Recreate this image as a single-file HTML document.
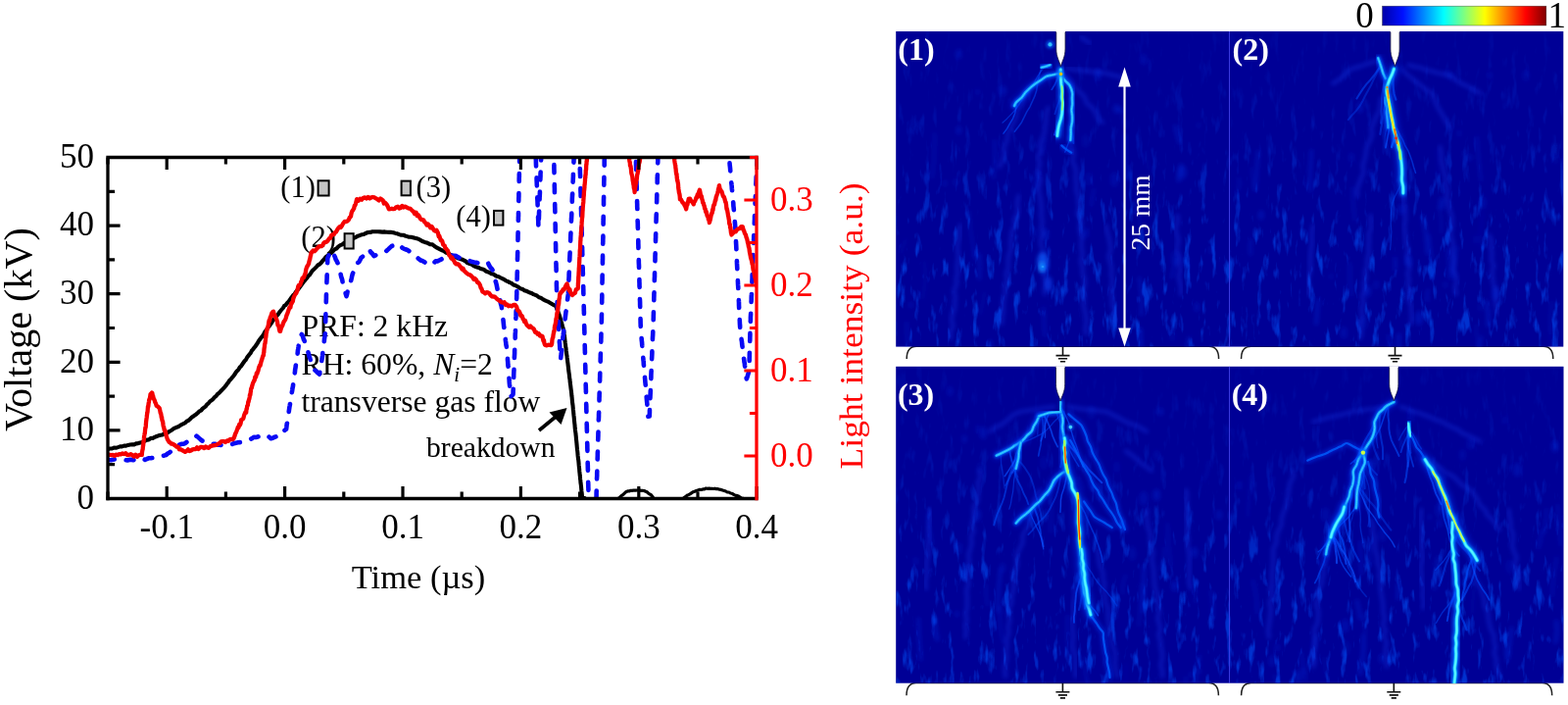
<!DOCTYPE html>
<html><head><meta charset="utf-8"><title>figure</title>
<style>html,body{margin:0;padding:0;background:#fff;overflow:hidden}svg{display:block}</style></head>
<body><svg width="1600" height="719" viewBox="0 0 1600 719">
<rect x="0" y="0" width="1600" height="719" fill="#fff"/>
<defs><clipPath id="pc"><rect x="110" y="160.5" width="662" height="348"/></clipPath></defs>
<text x="307.5" y="343.2" font-family="Liberation Serif, Times New Roman, serif" font-size="31.7">PRF: 2 kHz</text>
<text x="307.5" y="381.5" font-family="Liberation Serif, Times New Roman, serif" font-size="31.7">RH: 60%, <tspan font-style="italic">N</tspan><tspan font-style="italic" font-size="21" dy="7">i</tspan><tspan dy="-7">=2</tspan></text>
<text x="307.5" y="420" font-family="Liberation Serif, Times New Roman, serif" font-size="31.6">transverse gas flow</text>
<text x="435" y="466" font-family="Liberation Serif, Times New Roman, serif" font-size="29.6">breakdown</text>
<text x="286.3" y="201.3" font-family="Liberation Serif, Times New Roman, serif" font-size="30.5">(1)</text>
<text x="307.3" y="251.6" font-family="Liberation Serif, Times New Roman, serif" font-size="30.5">(2)</text>
<text x="424.5" y="201.3" font-family="Liberation Serif, Times New Roman, serif" font-size="30.5">(3)</text>
<text x="465.3" y="231.4" font-family="Liberation Serif, Times New Roman, serif" font-size="30.5">(4)</text>
<g clip-path="url(#pc)" fill="none" stroke-linejoin="round" stroke-linecap="round">
<path d="M109.0,458.3 L112.2,457.5 L114.3,457.5 L116.3,456.6 L118.4,456.7 L120.4,456.1 L122.5,455.4 L124.5,455.4 L126.6,454.6 L128.7,454.6 L130.7,453.9 L132.8,453.5 L134.8,453.4 L136.9,453.4 L138.9,452.4 L141.0,452.1 L143.2,451.5 L145.5,450.9 L147.8,449.7 L150.0,448.6 L151.9,448.4 L153.9,446.9 L155.8,447.0 L157.8,445.8 L159.8,445.0 L161.7,444.3 L163.7,443.8 L165.6,443.5 L167.6,442.3 L169.5,442.0 L171.3,441.1 L173.0,439.8 L174.8,439.0 L176.6,437.6 L178.3,436.6 L180.1,435.8 L181.8,435.3 L183.6,434.1 L185.4,433.0 L187.1,432.2 L188.9,431.2 L190.5,429.7 L192.2,428.9 L193.8,427.5 L195.4,425.8 L197.0,424.8 L198.7,423.4 L200.3,422.4 L201.9,421.0 L203.5,419.3 L205.2,418.6 L206.8,416.6 L208.4,415.5 L209.9,414.3 L211.4,412.3 L212.9,411.1 L214.4,409.2 L215.9,408.3 L217.4,406.9 L218.9,405.2 L220.4,404.0 L221.9,402.0 L223.4,400.9 L224.9,399.3 L226.4,397.8 L227.9,396.2 L229.2,394.9 L230.5,393.3 L231.8,391.3 L233.1,389.8 L234.4,387.7 L235.7,386.6 L237.0,384.9 L238.2,383.6 L239.5,381.8 L240.8,379.7 L242.1,378.2 L243.4,376.8 L244.7,374.6 L246.0,373.4 L247.3,371.5 L248.5,369.7 L249.7,368.0 L250.9,366.9 L252.1,364.6 L253.3,363.0 L254.5,361.4 L255.7,360.1 L256.9,357.7 L258.1,356.3 L259.3,354.7 L260.5,353.3 L261.7,351.5 L262.9,349.8 L264.1,347.5 L265.4,345.9 L266.6,344.1 L267.8,342.8 L269.1,341.0 L270.3,338.5 L271.6,336.8 L272.8,335.1 L274.0,333.3 L275.3,331.8 L276.5,330.1 L277.7,328.1 L278.9,326.3 L280.1,325.0 L281.4,323.3 L282.6,321.8 L283.8,320.6 L285.0,318.7 L286.3,317.0 L287.6,315.5 L288.9,314.0 L290.1,311.9 L291.4,311.2 L292.7,309.5 L294.0,308.1 L295.3,306.5 L296.6,304.6 L297.8,303.0 L299.1,301.2 L300.4,300.2 L301.7,298.1 L303.0,296.4 L304.3,294.9 L305.6,293.2 L306.8,291.7 L308.1,289.8 L309.4,288.0 L310.7,286.5 L312.0,284.8 L313.3,283.4 L314.5,281.4 L315.8,280.5 L317.1,278.6 L318.4,276.5 L319.9,275.1 L321.4,273.6 L322.9,272.1 L324.4,270.4 L325.9,269.6 L327.5,268.2 L329.0,266.2 L330.5,264.7 L332.0,262.8 L333.5,261.3 L335.2,260.1 L336.8,258.6 L338.5,257.7 L340.1,255.7 L341.8,254.1 L343.4,253.5 L345.1,251.7 L347.2,250.2 L349.3,249.4 L351.4,247.7 L353.5,247.0 L355.4,246.4 L357.3,245.3 L359.2,244.2 L361.1,242.8 L363.0,241.9 L364.9,240.7 L366.8,240.2 L369.0,239.3 L371.2,238.9 L373.4,237.8 L375.6,237.0 L377.8,236.9 L380.0,236.3 L382.8,236.2 L385.6,236.2 L387.9,236.4 L390.2,236.6 L392.6,236.4 L394.9,236.8 L397.2,236.9 L399.5,236.9 L401.5,237.3 L403.5,237.9 L405.5,238.3 L407.4,239.1 L409.4,239.7 L411.4,239.7 L413.4,240.5 L415.4,241.1 L417.4,241.7 L419.4,241.7 L421.4,242.2 L423.4,242.8 L425.4,243.3 L427.4,243.9 L429.4,245.1 L431.4,246.2 L433.4,246.9 L435.3,247.4 L437.3,248.3 L439.3,249.3 L441.3,249.4 L443.3,251.0 L445.3,252.4 L447.3,253.4 L449.2,254.4 L451.2,255.3 L453.2,256.1 L455.2,257.8 L457.2,258.2 L459.2,259.5 L461.2,260.6 L463.1,260.9 L465.1,261.8 L467.1,263.2 L469.1,263.9 L471.1,264.4 L473.1,265.4 L475.1,266.4 L477.0,268.1 L479.0,269.0 L481.0,269.4 L483.0,271.0 L484.9,271.9 L486.7,272.5 L488.6,273.0 L490.4,274.0 L492.3,274.4 L494.1,275.1 L496.0,276.8 L497.8,277.3 L499.7,278.0 L501.5,279.2 L503.4,279.5 L505.3,280.9 L507.1,281.8 L509.0,282.2 L510.8,283.2 L512.7,284.2 L514.6,285.1 L516.4,286.4 L518.3,287.1 L520.1,288.2 L522.0,288.9 L523.9,290.5 L525.7,291.0 L527.6,292.0 L529.4,293.1 L531.3,294.4 L533.2,294.8 L535.0,296.2 L536.9,296.7 L538.8,297.6 L540.6,298.5 L542.5,299.0 L544.4,300.2 L546.3,300.9 L548.1,301.7 L550.0,303.3 L551.8,303.7 L553.6,304.9 L555.5,306.1 L557.3,306.9 L559.1,307.6 L561.0,308.7 L562.8,309.7 L564.6,310.9 L567.3,312.1 L568.0,314.5 L568.8,316.1 L569.5,318.0 L570.3,320.3 L571.0,322.0 L571.6,324.2 L572.2,326.5 L572.8,328.8 L573.4,330.5 L574.0,332.8 L574.6,334.9 L575.2,337.0 L575.5,339.2 L575.7,341.0 L576.0,343.1 L576.2,345.1 L576.5,347.5 L576.7,349.3 L577.0,351.5 L577.2,353.6 L577.5,355.0 L577.7,357.2 L578.0,359.6 L578.2,361.5 L578.5,362.9 L578.7,364.9 L579.0,367.2 L579.2,368.9 L579.5,371.1 L579.7,373.0 L580.0,375.5 L580.2,377.6 L580.5,379.8 L580.7,381.1 L581.0,383.6 L581.2,385.6 L581.5,387.2 L581.7,389.8 L582.0,391.9 L582.2,393.3 L582.5,396.0 L582.7,397.5 L583.0,399.6 L583.2,402.1 L583.4,403.9 L583.6,405.3 L583.8,407.6 L584.0,409.7 L584.2,411.6 L584.5,413.4 L584.7,415.6 L584.9,418.0 L585.1,419.3 L585.3,421.8 L585.5,423.8 L585.7,425.4 L585.9,427.7 L586.1,430.0 L586.3,431.9 L586.5,433.5 L586.7,436.3 L586.9,438.2 L587.2,440.4 L587.4,441.6 L587.6,443.8 L587.8,445.6 L588.0,448.3 L588.2,449.8 L588.4,451.7 L588.6,454.0 L588.8,456.4 L589.0,458.4 L589.2,459.9 L589.4,461.8 L589.6,464.5 L589.8,466.2 L590.1,468.4 L590.3,469.8 L590.5,471.8 L590.7,474.4 L590.9,476.2 L591.1,477.9 L591.3,480.7 L591.5,482.4 L591.7,484.6 L591.9,486.0 L592.1,488.7 L592.3,490.0 L592.5,492.7 L592.8,494.4 L593.0,496.3 L593.2,498.5 L593.4,500.8 L593.6,502.3 L593.8,504.1 L594.0,506.5 L596.0,507.8 L598.0,509.1" stroke="#000" stroke-width="4.1"/>
<path d="M630.0,509.4 L631.2,508.1 L632.5,507.3 L633.8,505.8 L635.0,505.0 L636.3,504.0 L637.7,502.7 L639.0,501.5 L640.5,500.9 L642.0,500.9 L643.5,500.3 L645.0,500.4 L646.8,500.0 L648.5,500.2 L650.2,500.0 L652.0,499.9 L653.8,500.4 L655.5,500.3 L657.2,500.5 L659.0,501.3 L660.2,501.8 L661.5,503.0 L662.8,503.9 L664.0,504.5 L665.0,505.5 L666.0,506.7 L667.0,508.5 L668.0,509.2" stroke="#000" stroke-width="3.2"/>
<path d="M696.0,509.5 L697.2,508.5 L698.5,507.2 L699.8,506.5 L701.0,505.3 L702.5,504.6 L704.0,503.8 L705.5,502.8 L707.0,501.8 L708.8,501.3 L710.5,500.5 L712.2,499.9 L714.0,499.3 L715.6,499.5 L717.2,498.9 L718.8,498.9 L720.4,498.0 L722.0,498.3 L723.5,498.1 L725.0,498.4 L726.5,498.3 L728.0,498.5 L729.5,498.2 L731.0,498.7 L732.6,498.7 L734.2,499.1 L735.8,499.4 L737.4,500.0 L739.0,500.5 L740.6,501.0 L742.2,502.0 L743.8,502.0 L745.4,503.0 L747.0,503.3 L748.4,504.2 L749.8,504.9 L751.2,505.4 L752.6,505.6 L754.0,506.3 L755.5,507.3 L757.0,508.3 L758.5,508.4 L760.0,509.6" stroke="#000" stroke-width="3.2"/>
<path d="M109.0,468.2 L111.1,469.0 L113.2,469.2 L115.3,468.7 L117.4,468.3 L119.5,468.9 L121.6,468.9 L123.7,469.1 L125.8,468.9 L127.9,469.1 L130.0,469.4 L132.0,468.9 L134.0,468.7 L136.0,469.3 L138.0,468.3 L140.0,468.8 L142.0,468.4 L144.0,468.8 L146.0,467.9 L148.0,468.9 L150.0,468.0 L152.2,467.2 L154.3,467.1 L156.5,466.8 L158.7,465.9 L160.8,465.9 L163.0,465.5 L165.2,465.4 L167.3,464.6 L169.5,464.0 L171.1,462.5 L172.7,461.7 L174.3,460.4 L176.0,458.5 L177.6,456.6 L179.2,455.9 L181.1,454.6 L183.1,453.6 L185.0,452.8 L187.0,452.8 L188.9,452.1 L190.8,450.7 L192.8,449.4 L194.8,448.3 L196.7,446.8 L198.7,446.5 L200.6,444.6 L202.6,446.4 L204.5,448.1 L206.4,449.6 L208.4,450.7 L210.6,450.9 L212.7,451.6 L214.9,451.6 L217.1,452.8 L219.2,452.7 L221.4,453.7 L223.6,453.5 L225.7,454.0 L227.9,454.3 L230.1,454.1 L232.2,453.4 L234.4,452.7 L236.5,453.1 L238.7,452.2 L240.8,451.7 L243.0,451.3 L245.1,451.1 L247.3,450.6 L249.3,450.1 L251.2,449.3 L253.2,448.2 L255.1,448.1 L257.1,447.2 L259.0,445.7 L261.0,446.0 L262.9,445.5 L264.9,444.8 L266.8,443.5 L268.7,444.9 L270.7,445.2 L272.6,445.1 L274.6,445.6 L276.5,447.3 L278.5,446.6 L280.4,445.7 L282.4,445.1 L284.3,444.8 L286.3,444.5 L287.8,443.2 L289.2,440.8 L290.7,438.6 L292.1,437.6 L292.4,435.3 L292.7,432.4 L293.1,431.1 L293.4,428.6 L293.7,426.6 L294.0,424.3 L294.4,422.4 L294.7,420.1 L295.0,418.0 L295.4,415.1 L295.7,413.6 L296.1,411.3 L296.4,409.4 L296.8,406.9 L297.1,405.3 L297.5,402.8 L297.8,400.3 L298.2,398.1 L298.5,395.9 L298.9,394.2 L299.2,391.5 L299.5,389.9 L299.8,387.4 L300.1,385.6 L300.4,383.5 L300.6,381.4 L300.9,379.7 L301.2,376.5 L301.5,375.3 L301.8,372.8 L302.1,370.8 L302.4,368.8 L302.7,366.9 L303.0,364.3 L303.3,362.2 L303.6,360.8 L303.9,357.6 L304.2,356.2 L304.5,354.1 L304.8,351.3 L305.1,349.9 L305.4,347.9 L305.7,346.1 L306.8,342.7 L307.9,340.9 L308.6,342.2 L309.3,344.1 L310.0,346.5 L310.6,347.4 L311.3,350.1 L312.0,351.9 L312.7,353.5 L313.4,356.0 L314.0,357.4 L314.5,359.5 L315.1,361.5 L315.6,363.7 L316.2,365.0 L316.8,367.2 L317.3,369.2 L317.9,371.3 L318.4,373.5 L319.0,374.9 L320.8,377.2 L322.5,378.4 L324.2,380.3 L326.0,381.7 L326.3,379.9 L326.7,378.3 L327.0,375.8 L327.4,373.9 L327.7,371.2 L328.0,369.0 L328.4,366.9 L328.7,365.1 L329.0,363.1 L329.2,361.2 L329.5,358.2 L329.7,356.9 L330.0,355.0 L330.2,352.6 L330.5,349.9 L330.8,348.1 L331.0,345.7 L331.3,343.8 L331.5,342.6 L331.8,340.1 L331.9,338.2 L331.9,336.3 L332.0,334.5 L332.0,332.1 L332.1,330.1 L332.2,328.2 L332.2,326.2 L332.3,324.1 L332.3,322.2 L332.4,319.7 L332.5,318.2 L332.5,315.9 L332.6,314.3 L332.6,311.5 L332.7,309.6 L332.8,307.4 L332.8,306.3 L332.9,304.5 L332.9,302.2 L333.0,299.8 L333.1,298.4 L333.1,296.3 L333.2,294.0 L333.3,291.6 L333.4,289.6 L333.4,287.7 L333.5,285.5 L333.6,283.7 L333.6,281.9 L333.7,280.2 L333.8,277.1 L333.9,275.7 L333.9,273.0 L334.0,271.1 L334.1,269.9 L334.2,267.6 L334.2,265.9 L334.3,263.3 L335.4,260.7 L336.4,259.1 L337.4,257.2 L338.5,255.5 L339.3,257.5 L340.1,258.7 L341.0,260.5 L341.8,262.0 L342.6,264.5 L343.5,265.9 L344.3,267.7 L345.1,269.4 L345.6,271.4 L346.1,274.2 L346.6,275.5 L347.1,278.6 L347.6,279.5 L348.2,282.4 L348.7,283.6 L349.2,285.4 L349.7,288.3 L350.2,289.7 L350.8,292.2 L351.3,293.6 L351.9,295.4 L352.4,298.2 L352.9,300.1 L353.5,302.2 L354.1,300.1 L354.6,297.4 L355.1,296.1 L355.7,294.2 L356.2,291.9 L356.8,290.5 L357.4,287.6 L358.1,286.4 L358.7,284.0 L359.3,281.1 L359.9,279.0 L360.6,277.7 L361.2,275.9 L361.8,272.9 L362.9,271.5 L364.0,270.3 L365.1,268.0 L366.3,267.2 L367.4,265.1 L368.5,262.9 L370.2,261.6 L371.9,260.1 L373.5,258.3 L375.2,256.9 L376.9,254.6 L378.4,257.3 L380.0,258.8 L381.5,261.1 L383.7,260.2 L385.9,259.2 L388.2,258.3 L390.4,258.0 L392.6,257.3 L394.5,255.7 L396.3,254.1 L398.1,252.4 L400.0,250.7 L401.9,250.4 L403.7,248.6 L405.5,249.8 L407.3,250.2 L409.1,251.5 L410.8,253.0 L412.6,253.8 L414.4,254.5 L416.2,255.2 L418.1,256.7 L419.9,258.6 L421.8,259.4 L423.7,261.2 L425.5,262.4 L427.4,264.2 L429.3,265.5 L431.3,266.2 L433.2,267.3 L435.2,269.0 L437.1,270.6 L439.0,269.9 L440.8,269.2 L442.6,268.4 L444.5,266.4 L446.4,266.4 L448.2,265.5 L450.1,264.6 L451.9,263.3 L453.8,262.0 L455.6,261.8 L457.4,260.8 L459.3,259.7 L461.4,260.7 L463.5,260.7 L465.6,261.1 L467.6,262.4 L469.7,263.4 L471.8,263.3 L473.9,264.7 L476.0,265.6 L478.0,265.4 L480.0,266.4 L482.0,267.1 L484.0,267.5 L486.0,267.7 L488.0,268.4 L490.0,269.6 L492.6,269.4 L495.3,268.7 L497.9,268.0 L499.3,270.9 L500.6,273.0 L502.0,274.4 L503.4,276.9 L503.9,279.3 L504.3,281.3 L504.8,282.9 L505.3,284.8 L505.7,287.0 L506.2,288.5 L506.7,290.5 L507.1,292.5 L507.6,295.1 L508.1,296.7 L508.5,299.0 L509.0,300.8 L509.5,303.0 L509.9,304.5 L510.4,306.4 L510.9,309.6 L511.3,310.8 L511.8,312.5 L512.0,315.2 L512.3,317.3 L512.5,318.6 L512.8,321.1 L513.0,322.8 L513.3,325.0 L513.5,326.4 L513.7,328.4 L514.0,331.6 L514.2,333.4 L514.5,335.0 L514.7,337.1 L515.0,338.7 L515.2,341.3 L515.5,342.9 L515.7,345.5 L515.9,347.3 L516.2,349.4 L516.4,351.6 L516.7,352.7 L516.9,354.4 L517.2,356.6 L517.4,358.6 L517.6,360.5 L517.7,362.5 L517.9,365.1 L518.0,367.4 L518.2,368.9 L518.3,371.5 L518.5,373.5 L518.7,374.5 L518.8,377.1 L519.0,378.9 L519.1,380.5 L519.3,383.6 L519.4,384.7 L519.6,387.1 L519.7,389.2 L519.9,391.5 L520.1,393.2 L520.2,394.9 L520.4,396.9 L520.5,398.6 L520.7,401.6 L520.8,403.6 L521.0,404.7 L523.5,402.4 L523.6,400.7 L523.6,398.8 L523.7,397.4 L523.8,395.4 L523.9,393.3 L523.9,390.3 L524.0,389.2 L524.1,387.1 L524.2,385.0 L524.2,383.4 L524.3,380.3 L524.4,378.3 L524.5,377.1 L524.5,375.3 L524.6,372.9 L524.7,370.4 L524.8,368.8 L524.8,367.0 L524.9,364.2 L525.0,362.4 L525.1,360.3 L525.1,358.1 L525.2,356.5 L525.3,354.1 L525.4,352.2 L525.4,350.1 L525.5,348.7 L525.6,345.9 L525.7,344.7 L525.7,342.0 L525.8,339.8 L525.9,338.9 L526.0,336.0 L526.0,334.9 L526.1,332.8 L526.2,330.8 L526.3,327.8 L526.3,326.2 L526.4,323.8 L526.5,322.7 L526.6,320.6 L526.6,318.3 L526.7,316.1 L526.8,313.9 L526.9,312.5 L526.9,310.1 L527.0,308.2 L527.1,305.6 L527.2,303.7 L527.2,301.5 L527.3,300.3 L527.3,298.1 L527.4,295.6 L527.4,294.4 L527.5,291.7 L527.5,289.9 L527.5,287.6 L527.6,285.7 L527.6,284.4 L527.7,281.8 L527.7,279.6 L527.8,278.0 L527.8,275.8 L527.8,274.5 L527.9,271.5 L527.9,270.6 L528.0,267.5 L528.0,266.5 L528.0,264.2 L528.1,261.7 L528.1,260.0 L528.2,257.7 L528.2,255.7 L528.3,253.6 L528.3,251.8 L528.3,250.6 L528.4,248.6 L528.4,246.5 L528.5,243.5 L528.5,241.7 L528.5,240.5 L528.6,237.5 L528.6,236.3 L528.7,233.8 L528.7,232.6 L528.8,229.4 L528.8,228.4 L528.8,225.8 L528.9,223.6 L528.9,221.4 L529.0,220.4 L529.0,218.0 L529.0,215.6 L529.1,213.9 L529.1,212.5 L529.2,209.7 L529.2,208.1 L529.2,205.6 L529.3,203.6 L529.3,202.3 L529.4,200.3 L529.4,197.6 L529.5,195.5 L529.5,193.5 L529.5,192.1 L529.6,190.0 L529.6,187.7 L529.7,185.6 L529.7,184.1 L529.7,182.2 L529.8,180.4 L529.8,178.1 L529.9,175.6 L529.9,173.5 L530.0,172.3 L530.0,169.9 L530.0,168.3 L530.1,165.5 L530.1,164.4 L530.2,161.8 L530.2,160.4 L530.3,158.4 L530.4,156.0 L530.5,153.4 L530.6,152.5 L530.7,150.0 L530.7,148.4 L530.8,145.7 L530.9,143.6 L531.0,142.4 L531.1,139.8 L531.2,137.6 L531.3,135.8 L531.4,134.1 L531.5,131.4 L531.5,130.0 L531.6,127.9 L531.7,126.0 L531.8,123.5 L531.9,122.3 L532.0,120.4 L534.2,120.4 L536.3,119.8 L538.5,120.3 L540.7,119.9 L542.8,120.3 L545.0,119.5 L545.1,122.4 L545.2,124.5 L545.3,126.0 L545.3,128.0 L545.4,130.0 L545.5,132.0 L545.6,133.4 L545.7,136.6 L545.8,137.7 L545.9,139.6 L545.9,141.5 L546.0,143.7 L546.1,146.4 L546.2,147.4 L546.3,149.5 L546.4,152.2 L546.4,153.6 L546.5,155.4 L546.6,158.1 L546.7,160.1 L546.8,162.0 L546.9,164.2 L546.9,165.5 L547.0,168.4 L547.1,170.3 L547.2,171.5 L547.2,173.5 L547.3,176.0 L547.4,178.0 L547.5,179.7 L547.6,181.5 L547.6,183.9 L547.7,185.6 L547.8,188.1 L547.9,190.4 L547.9,191.6 L548.0,194.1 L548.1,196.3 L548.2,197.6 L548.3,200.4 L548.3,202.5 L548.4,203.9 L548.5,205.9 L548.6,208.4 L548.6,210.0 L548.7,211.9 L548.8,214.5 L548.9,216.3 L549.0,217.8 L549.0,219.7 L549.1,221.8 L549.2,223.9 L549.3,226.6 L549.3,228.4 L549.4,230.5 L549.5,232.4 L549.6,230.4 L549.6,227.5 L549.7,226.0 L549.8,224.5 L549.9,222.5 L550.0,219.7 L550.0,217.9 L550.1,216.2 L550.2,213.8 L550.2,212.0 L550.3,209.5 L550.4,207.9 L550.5,206.0 L550.6,203.4 L550.6,201.6 L550.7,200.6 L550.8,198.3 L550.9,196.5 L550.9,194.2 L551.0,192.4 L551.1,190.5 L551.1,188.5 L551.2,185.4 L551.3,184.2 L551.4,181.7 L551.5,180.2 L551.5,177.7 L551.6,176.1 L551.7,174.5 L551.8,172.1 L551.8,169.7 L551.9,168.0 L552.0,165.9 L552.1,164.5 L552.1,161.7 L552.2,159.8 L552.3,158.2 L552.5,155.5 L552.6,154.1 L552.8,152.5 L552.9,150.0 L553.0,147.7 L553.2,146.0 L553.3,144.0 L553.5,141.6 L553.6,139.5 L553.7,137.6 L553.9,135.8 L554.0,133.9 L554.2,131.7 L554.3,129.7 L554.4,127.5 L554.6,126.1 L554.7,124.4 L554.9,122.1 L555.0,120.1 L557.0,120.2 L559.0,119.6 L561.0,120.3 L563.0,120.0 L563.1,122.1 L563.2,124.1 L563.3,126.0 L563.4,127.8 L563.5,129.7 L563.7,131.7 L563.8,134.0 L563.9,135.9 L564.0,138.1 L564.1,139.4 L564.2,141.8 L564.3,144.4 L564.4,145.7 L564.5,148.1 L564.7,150.0 L564.8,151.7 L564.9,154.6 L565.0,155.8 L565.1,158.3 L565.2,159.6 L565.2,161.5 L565.3,164.4 L565.3,165.9 L565.4,167.5 L565.4,169.9 L565.4,171.9 L565.5,174.3 L565.5,175.5 L565.6,177.7 L565.6,180.6 L565.7,182.3 L565.7,183.6 L565.7,185.8 L565.8,187.8 L565.8,190.2 L565.9,192.1 L565.9,194.4 L565.9,196.4 L566.0,198.0 L566.0,200.3 L566.1,202.3 L566.1,204.3 L566.2,206.0 L566.2,208.3 L566.2,210.3 L566.3,212.5 L566.3,213.6 L566.4,216.4 L566.4,217.4 L566.4,220.3 L566.5,222.1 L566.5,224.0 L566.6,226.6 L566.6,228.1 L566.7,229.9 L566.7,232.3 L566.7,234.4 L566.8,236.1 L566.8,237.9 L566.9,239.9 L566.9,241.9 L566.9,244.3 L567.0,245.8 L567.0,247.9 L567.1,250.1 L567.1,251.9 L567.1,253.8 L567.2,256.3 L567.2,258.4 L567.3,260.0 L567.3,261.9 L567.4,263.6 L567.4,265.8 L567.4,267.6 L567.5,270.1 L567.5,272.1 L567.6,273.5 L567.6,276.5 L567.6,277.8 L567.7,280.4 L567.7,282.4 L567.8,284.6 L567.8,285.6 L567.9,287.9 L567.9,290.5 L567.9,291.4 L568.0,293.5 L568.0,296.1 L568.1,298.0 L568.1,300.5 L568.2,302.4 L568.3,304.1 L568.5,306.7 L568.6,308.1 L568.7,310.2 L568.8,312.4 L568.9,314.1 L569.0,316.1 L569.2,318.4 L569.3,320.1 L569.4,322.9 L569.5,324.6 L569.6,326.4 L569.8,327.9 L569.9,330.3 L570.0,332.4 L570.1,334.6 L570.2,336.6 L570.3,339.0 L570.5,341.2 L570.6,342.6 L570.7,344.6 L570.8,346.8 L570.9,349.3 L571.1,350.6 L571.2,352.8 L571.3,355.2 L571.4,356.5 L571.5,358.7 L571.6,361.5 L571.8,363.3 L571.9,365.0 L572.0,366.5 L572.2,365.4 L572.4,363.1 L572.7,361.2 L572.9,359.4 L573.1,357.2 L573.3,354.6 L573.6,352.2 L573.8,350.3 L574.0,348.5 L574.2,346.5 L574.4,344.0 L574.7,342.0 L574.9,340.4 L575.1,338.3 L575.3,336.0 L575.6,334.7 L575.8,332.2 L576.0,329.5 L576.3,327.9 L576.5,326.3 L576.8,323.8 L577.0,322.2 L577.3,319.4 L577.5,317.8 L577.8,316.4 L578.0,314.1 L578.3,312.2 L578.5,309.6 L578.8,308.0 L579.0,306.1 L579.3,303.7 L579.5,302.2 L579.8,300.0 L579.9,298.6 L580.0,296.1 L580.1,293.9 L580.1,291.5 L580.2,289.6 L580.3,288.3 L580.4,285.5 L580.5,283.5 L580.6,281.6 L580.6,280.0 L580.7,278.4 L580.8,276.1 L580.9,274.4 L581.0,271.5 L581.1,269.4 L581.1,268.3 L581.2,265.8 L581.3,264.3 L581.4,261.8 L581.5,259.6 L581.6,257.7 L581.7,255.5 L581.7,254.5 L581.8,252.1 L581.9,249.8 L582.0,247.9 L582.1,245.9 L582.2,243.5 L582.2,242.5 L582.3,240.1 L582.4,238.6 L582.5,235.9 L582.6,234.1 L582.7,231.7 L582.8,229.5 L582.8,228.5 L582.9,226.4 L583.0,223.8 L583.1,222.5 L583.2,220.4 L583.3,217.8 L583.3,216.1 L583.4,214.6 L583.5,212.0 L583.6,210.5 L583.7,207.7 L583.8,205.9 L583.8,204.3 L583.9,201.7 L584.0,199.8 L584.1,198.5 L584.2,196.0 L584.3,194.4 L584.4,191.7 L584.4,189.6 L584.5,187.8 L584.6,185.6 L584.7,184.6 L584.8,181.7 L584.9,180.1 L584.9,177.5 L585.0,176.0 L585.1,173.9 L585.2,171.9 L585.3,169.5 L585.4,167.5 L585.4,166.4 L585.5,163.8 L585.6,161.7 L585.7,159.6 L585.8,157.7 L585.9,155.7 L586.0,153.4 L586.2,152.2 L586.3,149.8 L586.4,147.6 L586.5,146.2 L586.6,143.5 L586.7,141.7 L586.9,140.4 L587.0,137.6 L587.1,135.9 L587.2,134.4 L587.3,132.4 L587.4,129.6 L587.5,127.8 L587.7,126.3 L587.8,123.9 L587.9,122.6 L588.0,119.6 L590.0,120.5 L590.1,122.0 L590.1,123.7 L590.2,125.9 L590.3,127.6 L590.4,130.2 L590.5,131.7 L590.5,134.5 L590.6,136.1 L590.7,137.8 L590.8,139.7 L590.8,142.1 L590.9,143.7 L591.0,146.4 L591.0,147.5 L591.1,150.0 L591.2,152.1 L591.3,153.7 L591.4,156.3 L591.4,157.9 L591.5,160.2 L591.6,162.1 L591.6,163.8 L591.7,165.9 L591.7,167.5 L591.8,169.6 L591.8,172.4 L591.9,173.8 L591.9,176.2 L592.0,177.5 L592.1,180.1 L592.1,181.8 L592.2,184.0 L592.2,185.8 L592.3,187.5 L592.3,189.8 L592.4,191.7 L592.4,193.6 L592.5,196.3 L592.6,197.7 L592.6,199.9 L592.7,202.5 L592.7,204.3 L592.8,206.5 L592.8,208.4 L592.9,209.6 L592.9,211.7 L593.0,213.4 L593.1,216.2 L593.1,218.2 L593.2,219.8 L593.2,221.9 L593.3,224.2 L593.3,226.2 L593.4,227.7 L593.5,230.4 L593.5,231.8 L593.6,234.2 L593.6,235.6 L593.7,237.5 L593.7,240.5 L593.8,242.3 L593.8,244.3 L593.9,245.4 L594.0,247.4 L594.0,249.6 L594.1,251.6 L594.1,253.8 L594.2,255.9 L594.2,257.4 L594.3,259.8 L594.3,262.2 L594.4,263.6 L594.5,266.4 L594.5,268.1 L594.6,270.3 L594.6,271.7 L594.7,273.9 L594.7,276.2 L594.8,277.8 L594.8,279.4 L594.9,282.4 L595.0,284.3 L595.0,285.7 L595.1,287.5 L595.1,290.4 L595.2,292.1 L595.2,293.5 L595.3,295.7 L595.3,297.5 L595.4,300.3 L595.5,301.7 L595.5,304.5 L595.6,306.3 L595.6,307.5 L595.7,310.3 L595.7,311.9 L595.8,314.4 L595.8,316.5 L595.9,317.8 L595.9,319.6 L596.0,322.6 L596.0,324.0 L596.1,326.6 L596.1,328.4 L596.2,330.4 L596.2,332.6 L596.3,334.3 L596.3,336.1 L596.4,337.6 L596.4,340.4 L596.5,342.1 L596.5,344.2 L596.6,346.7 L596.6,347.8 L596.7,350.6 L596.7,351.7 L596.8,354.5 L596.8,356.6 L596.9,358.0 L596.9,360.3 L597.0,362.9 L597.0,364.5 L597.1,366.4 L597.1,368.0 L597.2,369.8 L597.2,372.2 L597.3,374.3 L597.3,376.0 L597.4,378.2 L597.4,380.0 L597.5,382.6 L597.5,384.6 L597.6,386.1 L597.6,388.1 L597.7,390.5 L597.7,392.4 L597.8,395.0 L597.8,396.3 L597.9,398.2 L597.9,400.9 L598.0,402.1 L598.0,404.6 L598.1,406.3 L598.1,408.9 L598.2,410.6 L598.2,412.9 L598.3,414.2 L598.3,416.8 L598.4,418.7 L598.4,420.5 L598.5,422.9 L598.5,425.0 L598.6,426.1 L598.6,428.4 L598.7,430.5 L598.7,432.3 L598.8,434.1 L598.8,436.4 L598.9,438.3 L598.9,440.9 L599.0,442.6 L599.0,444.2 L599.1,446.5 L599.1,448.7 L599.2,450.6 L599.2,452.3 L599.3,454.2 L599.3,456.2 L599.4,459.4 L599.4,461.1 L599.5,462.3 L599.5,465.1 L599.6,467.4 L599.6,468.9 L599.7,470.4 L599.7,472.8 L599.8,474.8 L599.8,476.5 L599.9,478.9 L599.9,480.3 L600.0,483.4 L600.0,485.1 L600.1,487.1 L600.1,489.4 L600.2,491.1 L600.2,492.6 L600.3,494.6 L600.3,496.5 L600.4,498.4 L600.4,501.3 L600.5,503.4 L600.5,504.7 L600.6,506.6 L601.0,509.3 L601.3,511.6 L601.7,513.8 L602.0,515.0 L602.4,517.8 L602.7,519.9 L603.1,521.9 L603.4,523.5 L603.8,525.4 L604.1,528.3 L604.5,529.8 L604.9,527.8 L605.2,525.9 L605.6,523.6 L606.0,522.0 L606.3,519.2 L606.7,516.9 L607.0,515.4 L607.4,513.4 L607.8,511.6 L608.1,509.3 L608.5,507.5 L608.6,505.5 L608.6,503.0 L608.7,501.0 L608.7,498.5 L608.8,496.7 L608.9,495.0 L608.9,492.4 L609.0,491.1 L609.0,488.5 L609.1,486.8 L609.2,485.4 L609.2,482.4 L609.3,480.3 L609.3,478.8 L609.4,476.5 L609.5,475.1 L609.5,472.2 L609.6,471.2 L609.6,469.2 L609.7,467.1 L609.8,464.7 L609.8,462.5 L609.9,460.9 L609.9,458.7 L610.0,456.6 L610.1,454.5 L610.1,452.6 L610.2,450.9 L610.2,449.1 L610.3,447.1 L610.4,444.2 L610.4,442.4 L610.5,440.6 L610.5,438.7 L610.6,436.4 L610.7,434.2 L610.7,432.1 L610.8,430.4 L610.8,428.5 L610.9,427.1 L611.0,425.0 L611.0,423.0 L611.1,421.1 L611.1,419.1 L611.2,416.6 L611.3,414.9 L611.3,411.9 L611.4,410.7 L611.5,408.6 L611.5,406.2 L611.6,404.5 L611.6,403.0 L611.7,400.4 L611.8,398.6 L611.8,396.1 L611.9,394.2 L611.9,392.8 L612.0,389.8 L612.1,388.0 L612.1,386.5 L612.2,384.2 L612.2,381.8 L612.3,380.5 L612.4,378.1 L612.4,376.4 L612.5,374.1 L612.5,372.3 L612.6,370.3 L612.7,368.1 L612.7,365.7 L612.8,363.8 L612.8,362.6 L612.9,360.2 L613.0,357.7 L613.0,356.6 L613.1,353.8 L613.1,351.6 L613.2,350.2 L613.3,347.8 L613.3,346.1 L613.4,344.1 L613.4,341.7 L613.5,340.1 L613.6,337.6 L613.6,336.0 L613.7,334.1 L613.7,331.5 L613.8,329.9 L613.8,327.5 L613.9,325.9 L613.9,324.4 L613.9,322.1 L614.0,320.3 L614.0,318.3 L614.0,315.5 L614.1,314.6 L614.1,312.3 L614.2,309.5 L614.2,308.4 L614.2,305.9 L614.3,303.6 L614.3,302.6 L614.3,300.1 L614.4,298.3 L614.4,295.6 L614.4,294.3 L614.5,291.5 L614.5,289.7 L614.5,287.8 L614.6,285.4 L614.6,284.1 L614.6,281.7 L614.7,279.8 L614.7,278.2 L614.8,275.9 L614.8,274.5 L614.8,272.1 L614.9,270.4 L614.9,268.1 L614.9,266.5 L615.0,264.4 L615.0,261.6 L615.0,260.3 L615.1,257.8 L615.1,256.3 L615.1,254.2 L615.2,252.4 L615.2,249.5 L615.2,247.8 L615.3,246.3 L615.3,244.5 L615.4,242.3 L615.4,239.5 L615.4,238.1 L615.5,235.5 L615.5,234.1 L615.5,232.4 L615.6,229.5 L615.6,228.5 L615.6,226.2 L615.7,223.7 L615.7,221.6 L615.7,219.9 L615.8,218.4 L615.8,216.1 L615.8,213.5 L615.9,211.4 L615.9,209.5 L616.0,208.4 L616.0,205.6 L616.0,204.1 L616.1,201.7 L616.1,200.2 L616.1,197.9 L616.2,195.6 L616.2,194.5 L616.2,192.0 L616.3,190.2 L616.3,188.4 L616.3,186.5 L616.4,183.4 L616.4,181.8 L616.4,179.6 L616.5,178.0 L616.5,176.4 L616.6,174.4 L616.6,171.4 L616.6,169.6 L616.7,168.4 L616.7,166.2 L616.7,163.9 L616.8,162.0 L616.8,159.6 L617.0,158.4 L617.1,155.9 L617.3,154.4 L617.4,152.1 L617.6,149.5 L617.8,147.8 L617.9,145.7 L618.1,144.5 L618.2,142.1 L618.4,139.5 L618.6,137.6 L618.7,135.8 L618.9,134.0 L619.0,132.1 L619.2,129.9 L619.4,127.8 L619.5,125.4 L619.7,124.1 L619.8,121.8 L620.0,119.4 L622.1,120.0 L624.2,120.6 L626.2,119.5 L628.3,119.6 L630.4,120.2 L632.5,119.7 L634.6,119.7 L636.7,120.0 L638.8,119.7 L640.8,120.1 L642.9,120.0 L645.0,120.5 L645.2,122.6 L645.4,123.4 L645.6,126.1 L645.8,128.3 L646.0,130.4 L646.1,132.3 L646.3,134.2 L646.5,136.2 L646.7,137.8 L646.9,139.7 L647.1,142.4 L647.3,144.4 L647.5,146.5 L647.7,148.2 L647.8,149.8 L648.0,152.3 L648.2,154.3 L648.4,156.0 L648.6,158.2 L648.8,159.8 L648.9,162.1 L648.9,163.9 L649.0,165.5 L649.0,167.9 L649.1,169.8 L649.1,172.7 L649.2,174.1 L649.3,175.9 L649.3,177.8 L649.4,179.8 L649.4,181.9 L649.5,183.7 L649.5,185.6 L649.6,188.6 L649.7,190.1 L649.7,192.1 L649.8,194.3 L649.8,196.0 L649.9,197.8 L649.9,199.7 L650.0,202.0 L650.1,204.0 L650.1,206.5 L650.2,208.3 L650.2,210.8 L650.3,212.1 L650.4,214.8 L650.4,216.4 L650.5,217.8 L650.5,220.0 L650.6,222.5 L650.6,225.0 L650.7,226.2 L650.8,228.7 L650.8,230.3 L650.9,232.9 L650.9,233.9 L651.0,236.4 L651.0,238.9 L651.1,240.2 L651.2,242.2 L651.2,243.9 L651.3,246.1 L651.3,248.2 L651.4,250.8 L651.4,252.2 L651.5,254.4 L651.6,256.2 L651.6,258.7 L651.7,261.0 L651.7,262.8 L651.8,264.2 L651.8,266.9 L651.9,269.2 L652.0,270.8 L652.0,272.1 L652.1,275.0 L652.1,277.1 L652.2,278.5 L652.2,280.3 L652.3,282.3 L652.4,284.8 L652.4,287.2 L652.5,288.9 L652.5,291.3 L652.6,292.4 L652.7,294.6 L652.7,297.1 L652.8,299.0 L652.8,300.7 L652.9,303.0 L652.9,304.6 L653.0,306.3 L653.1,308.7 L653.1,310.3 L653.2,313.0 L653.2,314.7 L653.3,316.9 L653.3,319.0 L653.4,320.6 L653.5,322.9 L653.5,324.4 L653.6,327.5 L653.6,329.0 L653.7,331.6 L653.7,332.5 L653.8,335.1 L654.0,337.3 L654.1,338.8 L654.3,340.5 L654.5,342.6 L654.6,344.6 L654.8,347.3 L655.0,348.5 L655.2,351.4 L655.3,352.9 L655.5,355.0 L655.7,357.1 L655.8,359.1 L656.0,361.2 L656.2,363.1 L656.3,364.8 L656.5,367.3 L656.7,368.7 L656.8,371.3 L657.0,373.3 L657.2,375.3 L657.3,376.8 L657.5,379.3 L657.7,381.6 L657.9,382.9 L658.0,384.7 L658.2,387.0 L658.4,389.5 L658.5,390.6 L658.7,392.4 L658.9,395.0 L659.0,397.2 L659.2,399.3 L659.4,400.8 L659.5,403.6 L659.7,404.7 L659.9,407.3 L660.0,408.5 L660.2,410.4 L660.4,412.6 L660.6,414.5 L660.7,417.0 L660.9,419.1 L661.1,420.6 L661.2,423.5 L661.4,424.8 L662.7,424.6 L662.8,422.6 L662.9,421.2 L662.9,419.4 L663.0,416.5 L663.1,414.3 L663.2,413.2 L663.3,410.5 L663.4,409.4 L663.4,406.8 L663.5,405.0 L663.6,402.6 L663.7,401.1 L663.8,398.7 L663.9,396.5 L663.9,395.2 L664.0,392.2 L664.1,390.9 L664.2,388.1 L664.3,386.8 L664.4,384.5 L664.4,383.0 L664.5,380.0 L664.6,378.6 L664.7,376.4 L664.8,375.0 L664.9,373.0 L664.9,370.6 L665.0,368.1 L665.1,366.1 L665.2,364.1 L665.3,362.3 L665.4,360.0 L665.4,357.9 L665.5,356.6 L665.6,354.4 L665.7,352.0 L665.8,350.8 L665.9,347.9 L665.9,346.3 L666.0,343.7 L666.1,342.6 L666.2,340.5 L666.3,337.8 L666.4,336.4 L666.4,334.4 L666.5,331.8 L666.6,329.8 L666.7,328.0 L666.7,326.5 L666.8,323.6 L666.8,322.2 L666.9,320.1 L666.9,317.9 L667.0,316.1 L667.1,314.5 L667.1,311.7 L667.2,310.5 L667.2,307.8 L667.3,306.3 L667.3,304.4 L667.4,301.6 L667.4,300.4 L667.5,298.6 L667.6,295.8 L667.6,293.4 L667.7,291.5 L667.7,290.6 L667.8,287.4 L667.8,286.5 L667.9,283.6 L668.0,282.3 L668.0,279.5 L668.1,277.6 L668.1,276.2 L668.2,273.5 L668.2,271.8 L668.3,270.5 L668.4,268.3 L668.4,266.5 L668.5,264.6 L668.5,261.4 L668.6,259.7 L668.6,258.4 L668.7,256.2 L668.7,253.4 L668.8,252.0 L668.9,249.7 L668.9,247.9 L669.0,245.5 L669.0,243.4 L669.1,242.6 L669.1,239.8 L669.2,238.5 L669.3,235.5 L669.3,234.0 L669.4,231.6 L669.4,229.9 L669.5,227.6 L669.5,226.2 L669.6,223.6 L669.6,222.3 L669.7,220.0 L669.8,217.5 L669.8,215.8 L669.9,214.0 L669.9,212.5 L670.0,209.8 L670.0,207.7 L670.1,206.6 L670.2,204.5 L670.2,202.3 L670.3,199.7 L670.3,197.6 L670.4,195.7 L670.4,193.5 L670.5,191.5 L670.6,190.0 L670.6,187.9 L670.7,186.1 L670.7,183.8 L670.8,181.4 L670.8,180.2 L670.9,178.2 L670.9,176.1 L671.0,174.1 L671.1,172.2 L671.1,170.6 L671.2,168.4 L671.2,166.3 L671.3,163.9 L671.3,161.8 L671.4,159.9 L671.6,158.6 L671.8,155.9 L671.9,153.9 L672.1,151.9 L672.3,149.6 L672.5,148.6 L672.7,145.4 L672.8,144.1 L673.0,142.5 L673.2,139.7 L673.4,138.1 L673.6,135.9 L673.7,133.7 L673.9,131.6 L674.1,129.5 L674.3,128.4 L674.5,126.3 L674.6,124.5 L674.8,121.5 L675.0,120.2 L677.0,119.8 L679.1,120.2 L681.1,120.1 L683.1,119.8 L685.2,120.6 L687.2,119.4 L689.2,120.3 L691.2,120.4 L693.3,120.0 L695.3,120.1 L697.3,120.6 L699.4,119.7 L701.4,120.2 L703.4,120.3 L705.5,119.9 L707.5,120.3 L709.5,119.9 L711.6,120.0 L713.6,120.1 L715.6,120.2 L717.7,119.8 L719.7,120.2 L721.7,120.1 L723.8,119.7 L725.8,120.1 L727.8,119.7 L729.8,120.5 L731.9,120.0 L733.9,120.3 L735.9,120.0 L738.0,120.0 L740.0,119.7 L740.2,121.6 L740.4,124.5 L740.6,126.0 L740.8,128.0 L741.0,130.0 L741.2,132.4 L741.4,133.7 L741.6,135.6 L741.8,138.4 L742.0,140.0 L742.2,142.2 L742.4,144.4 L742.6,146.5 L742.8,148.4 L743.0,149.5 L743.2,151.9 L743.4,154.4 L743.6,156.4 L743.8,157.5 L744.0,159.6 L744.2,161.7 L744.4,163.5 L744.5,165.8 L744.7,168.4 L744.9,170.0 L745.1,171.9 L745.2,173.5 L745.4,175.9 L745.6,178.6 L745.8,180.2 L745.9,181.9 L746.1,184.0 L746.3,186.4 L746.5,188.3 L746.7,189.6 L746.8,192.2 L747.0,193.8 L747.2,196.0 L747.4,197.7 L747.5,199.8 L747.7,201.8 L747.9,203.9 L748.1,205.4 L748.3,207.6 L748.4,210.1 L748.6,211.5 L748.8,213.6 L749.0,216.3 L749.1,217.7 L749.3,219.8 L749.5,221.7 L749.7,224.4 L749.8,225.5 L750.0,228.2 L750.2,230.4 L750.3,231.7 L750.4,233.9 L750.5,236.4 L750.6,238.2 L750.7,239.9 L750.8,241.6 L750.9,244.1 L751.0,246.0 L751.1,248.4 L751.2,249.9 L751.3,252.1 L751.4,254.4 L751.5,256.6 L751.5,258.1 L751.6,260.2 L751.7,262.4 L751.8,264.8 L751.9,266.0 L752.0,268.9 L752.1,270.6 L752.2,272.3 L752.3,274.6 L752.4,276.2 L752.5,277.9 L752.6,280.8 L752.7,282.4 L752.8,284.6 L752.9,286.5 L753.0,289.0 L753.1,290.9 L753.2,292.0 L753.3,294.7 L753.4,296.6 L753.5,298.6 L753.6,301.1 L753.7,302.6 L753.8,304.7 L753.9,307.2 L754.0,308.7 L754.0,310.8 L754.1,312.8 L754.2,315.2 L754.3,317.0 L754.4,319.1 L754.5,320.7 L754.6,322.3 L754.7,325.1 L754.8,327.0 L754.9,329.3 L755.0,331.3 L755.1,332.5 L755.2,334.7 L755.5,336.5 L755.7,339.4 L756.0,340.5 L756.2,342.5 L756.5,345.3 L756.7,347.0 L757.0,348.4 L757.2,351.2 L757.5,353.2 L757.7,354.9 L758.0,356.4 L758.2,359.1 L758.5,360.8 L758.8,363.0 L759.0,365.5 L759.3,367.3 L759.5,369.3 L759.8,370.4 L760.0,372.7 L760.3,374.9 L760.5,376.2 L760.8,379.4 L761.0,380.6 L761.3,382.5 L761.5,384.6 L761.8,386.5 L762.4,385.0 L763.1,382.5 L763.8,380.2 L764.4,377.9 L764.5,375.5 L764.5,373.8 L764.6,372.4 L764.6,370.4 L764.7,368.4 L764.7,365.7 L764.8,363.6 L764.8,361.5 L764.9,360.0 L764.9,357.8 L765.0,356.0 L765.0,354.0 L765.1,352.1 L765.2,349.8 L765.2,348.4 L765.3,345.6 L765.3,344.5 L765.4,342.1 L765.4,339.5 L765.5,337.8 L765.5,336.0 L765.6,333.9 L765.6,332.1 L765.7,329.8 L765.8,327.7 L765.9,326.3 L765.9,323.7 L766.0,322.2 L766.1,320.3 L766.2,318.0 L766.3,315.8 L766.3,314.4 L766.4,311.8 L766.5,310.3 L766.6,307.3 L766.7,305.8 L766.7,304.0 L766.8,301.3 L766.9,300.2 L767.0,297.3 L767.1,295.9 L767.2,293.4 L767.2,292.2 L767.3,289.8 L767.4,288.1 L767.5,285.7 L767.6,283.9 L767.6,281.9 L767.7,279.4 L767.8,277.3 L767.9,276.0 L768.0,273.2 L768.0,272.1 L768.1,269.2 L768.2,267.1 L768.3,265.1 L768.4,263.9 L768.4,262.1 L768.5,259.4 L768.6,257.7 L768.7,255.2 L768.8,254.0 L768.8,251.7 L768.9,249.0 L769.0,246.9 L769.1,245.7 L769.2,242.9 L769.2,241.8 L769.3,239.1 L769.4,237.0 L769.5,235.4 L769.6,233.1 L769.6,231.4 L769.7,228.9 L769.8,227.8 L769.9,225.1 L770.0,223.7 L770.0,220.8 L770.1,219.6 L770.2,217.8 L770.3,215.1 L770.4,212.6 L770.5,211.0 L770.5,209.3 L770.6,206.8 L770.7,205.2 L770.8,202.6 L770.9,201.1 L770.9,199.4 L771.0,197.0 L771.1,195.3 L771.2,192.6 L771.3,191.4 L771.3,188.6 L771.4,187.5 L771.5,185.6 L771.6,183.5 L771.7,181.0 L771.8,178.7 L771.9,176.7 L772.0,175.1 L772.2,172.8 L772.3,171.3 L772.4,168.3 L772.5,166.7 L772.6,165.1 L772.7,162.8 L772.8,160.7 L772.9,158.1 L773.0,156.1 L773.1,154.3 L773.2,153.0 L773.4,150.9 L773.5,148.1 L773.6,146.9 L773.7,143.8 L773.8,142.5 L773.9,140.9 L774.0,138.1 L774.1,136.8 L774.2,134.4 L774.3,131.6 L774.5,130.0 L774.6,128.1 L774.7,125.8 L774.8,124.4 L774.9,121.6 L775.0,120.3" stroke="#0a0af5" stroke-width="4.6" stroke-dasharray="8 12" stroke-linecap="round"/>
<path d="M109.0,464.1 L110.6,463.7 L112.1,463.9 L113.7,464.1 L115.3,463.9 L116.9,465.0 L118.4,463.6 L120.0,464.0 L121.7,463.1 L123.3,463.4 L125.0,462.5 L126.7,463.0 L128.3,462.3 L130.0,464.1 L131.7,463.9 L133.3,463.2 L135.0,464.2 L136.7,465.6 L138.3,463.7 L140.0,465.8 L141.6,464.2 L143.2,463.7 L144.8,463.9 L145.0,461.2 L145.2,460.0 L145.4,458.9 L145.7,458.1 L145.9,454.9 L146.1,454.7 L146.3,452.8 L146.5,451.1 L146.7,449.0 L146.9,447.3 L147.1,445.0 L147.4,443.6 L147.6,442.0 L147.8,442.2 L148.0,439.4 L148.2,437.6 L148.4,435.8 L148.6,436.2 L148.8,434.7 L148.9,432.6 L149.1,430.1 L149.3,428.4 L149.5,427.0 L149.7,425.8 L149.9,423.5 L150.1,422.7 L150.2,420.6 L150.4,420.9 L150.6,419.4 L150.8,416.7 L151.0,414.3 L151.3,414.7 L151.6,411.5 L151.9,410.1 L152.2,407.7 L152.6,407.2 L152.9,405.9 L153.2,404.5 L153.5,402.2 L154.9,400.5 L155.3,400.7 L155.7,402.9 L156.2,403.9 L156.6,406.2 L157.0,406.8 L157.7,408.2 L158.3,410.3 L159.0,411.6 L159.7,413.9 L161.2,414.7 L162.7,416.3 L163.0,417.5 L163.4,419.2 L163.7,421.2 L164.1,421.4 L164.4,422.8 L164.8,426.0 L165.1,425.4 L165.4,428.4 L165.8,429.7 L166.1,429.7 L166.5,433.3 L166.8,435.0 L167.2,435.8 L167.5,437.6 L168.0,439.3 L168.5,439.0 L169.0,441.4 L169.4,442.9 L169.9,445.2 L170.4,446.6 L170.9,448.1 L171.4,448.9 L172.6,450.9 L173.8,451.5 L174.9,452.7 L176.1,452.7 L177.3,453.4 L178.8,454.4 L180.2,455.7 L181.7,455.7 L183.1,458.4 L184.6,458.4 L186.0,459.3 L187.5,460.0 L188.9,460.9 L190.4,460.0 L191.9,458.3 L193.4,460.0 L195.0,459.4 L196.5,458.4 L198.0,458.1 L199.5,458.2 L201.0,456.4 L202.5,458.0 L203.9,456.5 L205.4,455.8 L206.9,456.1 L208.4,457.1 L209.9,455.4 L211.4,456.5 L213.0,456.8 L214.5,455.3 L216.0,454.7 L217.6,454.3 L219.2,454.2 L220.8,453.7 L222.4,452.7 L224.0,452.1 L225.5,450.3 L227.0,450.1 L228.5,450.1 L230.0,451.0 L231.6,449.5 L233.1,449.9 L234.6,448.1 L236.1,447.9 L237.6,448.1 L238.2,447.6 L238.9,446.2 L239.5,444.6 L240.2,442.1 L240.8,441.2 L241.5,439.5 L242.1,438.0 L242.8,435.6 L243.4,436.1 L244.1,432.9 L244.8,433.5 L245.5,432.0 L246.2,428.2 L246.9,427.9 L247.7,427.4 L248.4,426.4 L249.1,423.6 L249.8,421.7 L250.5,420.2 L251.2,420.7 L251.5,417.3 L251.9,416.7 L252.2,414.1 L252.6,413.6 L252.9,413.2 L253.3,409.6 L253.6,409.9 L254.0,407.6 L254.3,407.1 L254.7,405.1 L255.0,402.4 L255.4,402.7 L255.7,400.1 L256.1,397.4 L256.4,395.9 L256.8,395.7 L257.1,394.1 L257.6,392.3 L258.2,390.4 L258.7,389.6 L259.2,388.1 L259.7,388.0 L260.3,384.4 L260.8,385.0 L261.3,383.8 L261.8,380.5 L262.4,381.2 L262.9,379.3 L263.4,378.3 L264.0,375.3 L264.5,374.1 L265.0,372.7 L265.5,372.9 L266.1,370.4 L266.6,368.4 L267.1,367.2 L267.6,365.4 L268.2,363.3 L268.7,362.1 L268.9,362.4 L269.1,359.4 L269.3,359.6 L269.5,356.2 L269.7,354.7 L269.9,353.8 L270.1,351.4 L270.3,350.3 L270.5,350.2 L270.7,348.5 L270.9,346.8 L271.1,344.7 L271.3,343.9 L271.5,342.4 L271.7,339.8 L272.1,338.8 L272.4,335.6 L272.8,335.9 L273.1,333.7 L273.5,333.0 L273.9,331.3 L274.2,328.9 L274.6,326.8 L275.1,327.5 L275.7,323.8 L276.2,323.1 L276.8,321.2 L277.3,319.5 L277.9,319.0 L278.4,318.0 L279.0,317.7 L279.6,320.3 L280.2,320.9 L280.8,323.1 L281.4,324.2 L282.0,325.1 L282.5,326.6 L283.0,328.2 L283.5,331.6 L284.0,332.0 L284.5,332.8 L285.0,336.1 L285.5,337.8 L286.0,337.9 L286.6,335.6 L287.1,334.3 L287.7,332.7 L288.3,331.9 L288.9,329.8 L289.4,328.8 L290.0,327.4 L290.6,326.8 L291.1,326.1 L291.7,324.4 L292.3,322.1 L292.9,320.6 L293.4,319.5 L294.0,317.7 L294.6,316.1 L295.2,314.0 L295.8,313.1 L296.4,313.5 L297.0,309.8 L297.6,309.4 L298.2,308.3 L298.8,307.4 L299.3,304.3 L299.9,303.0 L300.5,301.5 L301.1,300.5 L301.7,299.2 L302.3,299.1 L302.9,297.3 L303.5,296.0 L304.2,292.3 L304.9,290.9 L305.7,291.2 L306.4,290.3 L307.1,287.7 L307.8,286.6 L308.6,283.6 L309.3,283.2 L310.0,283.1 L310.6,281.3 L311.1,279.8 L311.7,278.6 L312.2,275.1 L312.8,273.2 L313.3,271.8 L313.9,271.2 L314.4,270.0 L315.0,269.1 L315.4,267.0 L315.9,265.2 L316.3,264.0 L316.7,261.6 L317.1,260.3 L317.6,257.4 L318.0,257.7 L319.5,255.4 L320.9,256.3 L322.4,254.7 L323.9,253.0 L325.3,251.6 L326.8,251.1 L328.0,251.1 L329.2,250.3 L330.4,247.8 L331.5,246.8 L332.7,247.0 L333.9,246.2 L335.1,244.7 L336.1,243.1 L337.0,242.9 L338.0,240.2 L338.9,239.7 L339.9,239.0 L340.8,239.1 L341.8,237.1 L343.0,236.5 L344.2,234.2 L345.4,232.4 L346.6,231.2 L347.8,231.9 L349.0,230.0 L350.2,227.8 L351.6,226.0 L353.1,226.1 L354.6,225.5 L356.0,223.8 L356.7,221.9 L357.3,221.5 L358.0,220.6 L358.6,217.3 L359.3,215.4 L359.9,214.7 L360.6,213.4 L361.2,212.5 L361.8,209.6 L362.4,209.5 L362.9,207.8 L363.5,205.5 L364.1,203.1 L365.8,204.8 L367.4,202.7 L369.1,203.7 L370.7,201.8 L372.4,201.4 L374.0,202.5 L375.7,200.9 L377.3,202.3 L378.9,201.4 L380.4,201.0 L382.0,201.4 L383.6,202.3 L385.1,203.3 L386.7,204.4 L388.2,202.6 L389.8,203.6 L390.8,204.4 L391.8,207.5 L392.8,206.6 L393.8,207.5 L394.8,208.8 L395.8,210.8 L396.8,213.3 L398.3,213.2 L399.8,212.7 L401.3,213.2 L402.8,212.9 L404.3,211.2 L405.9,210.7 L407.4,212.5 L408.9,211.9 L410.4,209.9 L411.9,211.5 L413.4,210.6 L414.8,211.4 L416.2,212.2 L417.6,212.6 L419.0,213.1 L420.4,214.6 L421.8,215.7 L423.2,218.1 L424.6,216.8 L425.7,220.1 L426.8,219.2 L427.8,220.7 L428.9,223.0 L430.0,224.1 L431.1,224.2 L432.1,224.3 L433.2,226.4 L434.3,227.3 L435.5,229.6 L436.8,228.6 L438.0,230.0 L439.2,232.3 L440.5,231.0 L441.7,232.9 L442.9,234.9 L444.2,235.7 L445.4,234.7 L446.2,236.1 L446.9,237.5 L447.7,241.2 L448.4,240.8 L449.2,243.5 L449.9,245.3 L450.7,245.2 L451.4,246.4 L452.2,249.6 L452.9,250.1 L453.7,250.6 L454.4,253.2 L455.2,253.5 L456.1,254.8 L456.9,255.5 L457.8,258.8 L458.6,260.6 L459.5,261.3 L460.4,263.5 L461.2,262.5 L462.1,264.4 L463.3,266.1 L464.4,268.4 L465.6,269.4 L466.7,269.0 L467.9,269.7 L469.1,271.2 L470.2,272.4 L471.4,274.5 L472.5,273.7 L473.7,276.3 L474.8,277.2 L476.0,278.4 L477.2,279.4 L478.5,280.1 L479.7,280.4 L481.0,281.5 L482.2,282.7 L483.5,284.9 L484.7,284.1 L486.0,285.5 L487.2,288.1 L488.1,288.2 L488.9,289.2 L489.8,290.6 L490.6,293.5 L491.4,294.4 L492.3,297.5 L493.7,298.1 L495.1,299.2 L496.5,298.1 L497.9,298.4 L499.3,299.2 L500.7,301.1 L502.1,302.4 L503.4,302.5 L504.8,302.7 L506.2,304.0 L507.6,305.3 L509.0,306.3 L510.4,307.3 L511.8,308.3 L513.2,308.7 L514.6,308.3 L516.0,311.0 L517.4,310.5 L518.8,312.2 L520.5,311.6 L522.2,312.4 L524.0,310.9 L525.7,310.9 L526.5,312.2 L527.3,313.2 L528.1,316.4 L528.9,316.9 L529.7,317.5 L530.5,319.0 L531.3,321.8 L532.0,321.8 L532.8,322.4 L533.6,325.1 L534.4,326.0 L535.2,328.2 L536.0,327.1 L536.8,329.4 L537.6,331.5 L538.8,332.6 L540.0,333.8 L541.3,332.5 L542.5,334.1 L543.7,334.7 L544.9,335.8 L546.2,338.9 L547.4,338.9 L548.6,340.7 L549.8,340.3 L551.1,342.6 L552.3,342.5 L553.5,343.0 L554.0,345.8 L554.5,347.8 L555.0,347.1 L555.4,349.8 L555.9,351.4 L556.4,351.9 L558.0,352.3 L559.5,351.7 L561.0,351.8 L562.6,352.0 L562.9,351.3 L563.2,350.0 L563.4,347.3 L563.7,345.3 L564.0,344.6 L564.3,344.0 L564.6,341.2 L564.9,340.0 L565.1,338.2 L565.4,338.3 L565.7,336.1 L566.0,333.3 L566.3,331.9 L566.6,331.2 L566.8,330.1 L567.1,328.8 L567.4,325.8 L567.6,324.5 L567.9,324.3 L568.1,322.0 L568.3,320.1 L568.6,318.6 L568.8,318.8 L569.0,315.6 L569.3,314.7 L569.5,312.6 L569.7,311.2 L570.0,310.8 L570.2,309.6 L570.4,306.4 L570.7,304.4 L570.9,304.2 L571.1,301.3 L571.4,299.3 L571.6,300.0 L572.6,297.6 L573.6,297.5 L574.6,295.2 L575.6,295.3 L576.6,293.0 L577.6,291.0 L578.6,289.4 L579.3,292.2 L580.0,293.9 L580.7,296.0 L581.4,295.2 L582.0,298.0 L582.7,298.8 L583.4,300.5 L584.1,301.0 L585.0,299.9 L586.0,299.2 L586.9,298.8 L587.8,295.3 L588.8,294.9 L589.7,294.3 L589.8,293.2 L589.9,289.7 L590.0,288.0 L590.0,288.6 L590.1,287.1 L590.2,284.3 L590.3,281.7 L590.4,282.5 L590.5,279.5 L590.5,279.4 L590.6,277.1 L590.7,276.1 L590.8,272.9 L590.9,273.0 L591.0,270.0 L591.1,269.0 L591.1,268.6 L591.2,267.0 L591.3,263.8 L591.4,262.4 L591.5,261.4 L591.6,260.1 L591.7,258.3 L591.7,256.1 L591.8,254.9 L591.9,254.6 L592.0,253.5 L592.1,249.8 L592.2,249.6 L592.2,248.6 L592.3,245.2 L592.4,245.8 L592.5,242.4 L592.6,242.2 L592.7,240.5 L592.8,239.2 L592.9,236.9 L593.1,235.7 L593.2,234.6 L593.3,232.7 L593.4,231.8 L593.5,229.7 L593.6,228.2 L593.7,225.6 L593.8,225.7 L593.9,223.8 L594.1,221.7 L594.2,221.5 L594.3,220.1 L594.4,217.7 L594.5,215.5 L594.6,214.8 L594.7,212.3 L594.8,210.9 L594.9,210.2 L595.0,207.8 L595.2,207.2 L595.3,205.9 L595.4,203.1 L595.5,203.2 L595.6,200.2 L595.7,200.4 L595.8,199.0 L595.9,196.8 L596.0,194.2 L596.2,193.8 L596.3,192.0 L596.4,192.0 L596.5,188.4 L596.6,188.7 L596.7,187.6 L596.9,185.4 L597.0,184.1 L597.1,181.0 L597.3,181.5 L597.4,178.7 L597.6,178.4 L597.7,176.8 L597.8,173.3 L598.0,173.4 L598.1,172.3 L598.2,168.5 L598.4,167.8 L598.5,167.3 L598.6,164.2 L598.8,164.6 L598.9,161.5 L599.0,161.4 L599.2,158.1 L599.3,157.6 L599.5,157.1 L599.6,153.8 L599.7,152.4 L599.9,151.5 L600.0,149.5 L600.8,147.5 L601.7,146.7 L602.5,145.4 L603.3,146.1 L604.2,144.2 L605.0,143.5 L605.8,140.4 L606.7,140.7 L607.5,137.7 L608.3,137.6 L609.2,136.6 L610.0,134.6 L610.8,134.7 L611.7,132.6 L612.5,131.5 L613.3,131.0 L614.2,127.7 L615.0,128.8 L615.8,126.6 L616.7,124.7 L617.5,124.5 L618.3,121.9 L619.2,122.5 L620.0,120.2 L620.8,120.9 L621.7,123.2 L622.5,123.6 L623.3,124.2 L624.2,126.9 L625.0,126.3 L625.8,129.6 L626.7,129.4 L627.5,131.6 L628.3,133.8 L629.2,134.0 L630.0,135.4 L630.8,135.8 L631.7,136.2 L632.5,137.5 L633.3,139.1 L634.2,141.6 L635.0,142.3 L635.8,143.8 L636.7,146.0 L637.5,145.3 L638.3,146.8 L639.2,149.1 L640.0,148.8 L640.3,150.2 L640.5,152.6 L640.8,153.5 L641.0,155.6 L641.3,156.8 L641.5,159.2 L641.8,160.7 L642.0,161.2 L642.3,163.8 L642.5,164.9 L642.8,165.6 L643.0,169.1 L643.3,168.8 L643.5,170.1 L643.8,171.4 L644.1,174.4 L644.3,176.5 L644.6,177.7 L644.8,178.2 L645.1,179.4 L645.3,180.2 L645.6,183.4 L645.8,184.7 L646.1,185.6 L646.3,187.9 L646.6,188.9 L646.8,191.6 L647.1,192.6 L647.3,192.8 L647.6,196.0 L647.8,192.3 L648.1,192.1 L648.3,190.3 L648.6,188.3 L648.8,186.4 L649.1,186.7 L649.3,183.2 L649.6,183.1 L649.8,182.6 L650.1,179.1 L650.3,177.7 L650.6,177.3 L650.8,175.5 L651.1,174.4 L651.3,173.3 L651.5,170.2 L651.8,169.0 L652.0,167.5 L652.3,165.3 L652.5,166.0 L652.8,164.2 L653.0,162.6 L653.3,159.2 L653.5,159.9 L653.8,158.1 L654.0,155.9 L654.3,155.1 L654.5,152.9 L654.8,150.8 L655.0,149.0 L655.7,147.9 L656.4,146.1 L657.0,145.5 L657.7,145.2 L658.4,143.7 L659.1,142.7 L659.8,141.0 L660.5,138.5 L661.1,137.9 L661.8,136.2 L662.5,135.7 L663.2,133.7 L663.9,131.7 L664.5,131.3 L665.2,130.8 L665.9,127.4 L666.6,127.8 L667.3,124.2 L668.0,123.5 L668.6,122.0 L669.3,122.0 L670.0,121.2 L670.7,122.0 L671.5,122.3 L672.2,125.1 L673.0,125.0 L673.7,126.1 L674.5,129.2 L675.2,129.9 L676.0,131.4 L676.7,132.7 L677.5,134.9 L678.2,134.9 L678.9,137.2 L679.7,138.2 L680.4,140.0 L681.2,140.3 L681.9,142.4 L682.7,143.4 L683.4,144.0 L684.2,145.2 L684.9,147.6 L685.7,147.5 L686.4,151.1 L686.6,150.6 L686.8,151.8 L687.0,153.5 L687.3,157.1 L687.5,157.1 L687.7,158.1 L687.9,159.3 L688.1,160.8 L688.3,164.0 L688.5,165.4 L688.8,167.0 L689.0,168.6 L689.2,168.4 L689.4,171.3 L689.6,172.2 L689.8,174.9 L690.0,176.4 L690.3,178.1 L690.5,177.4 L690.7,181.0 L690.9,182.6 L691.1,184.2 L691.3,183.5 L691.5,185.3 L691.8,186.6 L692.0,187.9 L692.2,191.5 L692.4,192.9 L692.6,193.9 L692.8,195.9 L693.0,196.9 L693.3,197.5 L693.5,198.6 L693.7,200.1 L693.9,203.3 L694.8,203.3 L695.7,205.0 L696.6,206.7 L697.5,207.1 L698.4,209.1 L699.3,210.6 L700.2,213.2 L700.6,210.6 L701.0,208.8 L701.5,208.8 L701.9,205.9 L702.3,205.2 L702.7,202.9 L704.0,202.6 L705.2,204.9 L706.5,206.2 L707.7,208.3 L708.4,205.8 L709.1,205.3 L709.8,203.5 L710.5,201.3 L711.1,201.5 L711.8,198.1 L712.5,198.6 L713.2,195.5 L713.9,193.7 L714.4,195.8 L714.9,198.8 L715.3,201.0 L715.8,200.0 L716.3,202.9 L716.8,204.4 L717.2,206.8 L717.7,206.8 L718.2,209.0 L718.7,210.1 L719.1,212.8 L719.6,212.8 L720.1,216.0 L720.6,215.7 L721.0,217.0 L721.5,219.7 L722.0,220.6 L722.5,221.0 L722.9,223.9 L723.4,223.9 L723.9,227.1 L724.3,225.5 L724.7,224.2 L725.1,222.4 L725.5,220.2 L725.9,218.9 L726.3,217.4 L726.7,217.2 L727.1,213.7 L727.5,214.3 L727.9,210.6 L728.3,209.6 L728.7,208.3 L729.1,208.5 L729.5,206.0 L729.9,204.2 L730.3,204.1 L730.7,201.0 L731.1,200.1 L731.5,198.8 L731.9,197.9 L732.3,196.5 L732.7,194.7 L733.1,192.5 L733.5,191.0 L733.9,189.1 L734.5,192.4 L735.2,193.4 L735.8,195.1 L736.4,195.1 L737.0,197.3 L737.7,199.7 L738.3,200.7 L738.9,201.0 L739.6,203.4 L740.2,206.0 L740.5,205.9 L740.8,207.3 L741.1,209.1 L741.3,211.7 L741.6,213.6 L741.9,213.3 L742.2,214.9 L742.5,216.7 L742.8,218.4 L743.1,220.5 L743.4,221.1 L743.6,223.0 L743.9,224.2 L744.2,227.8 L744.5,228.7 L744.8,228.6 L745.1,232.4 L745.4,231.7 L745.6,234.0 L745.9,237.1 L746.2,238.1 L746.5,239.5 L747.9,237.8 L749.3,236.2 L750.7,236.4 L752.1,234.1 L753.5,233.4 L754.9,233.0 L756.3,231.1 L757.7,231.1 L758.3,233.7 L758.8,234.9 L759.4,236.0 L759.9,237.8 L760.5,238.9 L761.0,239.6 L761.6,242.3 L762.1,243.3 L762.7,245.7 L763.0,247.7 L763.3,247.9 L763.6,249.8 L763.9,251.8 L764.2,252.4 L764.5,253.4 L764.8,256.2 L765.1,258.1 L765.4,259.3 L765.7,260.7 L766.0,262.6 L766.3,263.6 L766.7,265.0 L767.0,266.0 L767.3,267.2 L767.6,269.5 L767.9,269.6 L768.2,272.0 L768.5,274.4 L768.8,275.7 L769.1,277.0 L769.4,277.5 L769.7,279.5 L770.0,281.1 L770.3,283.0 L770.7,284.0 L771.2,286.3 L771.6,288.5 L772.0,288.2 L772.4,291.0 L772.9,292.9 L773.3,293.4 L773.7,295.3 L774.1,298.1 L774.6,297.2 L775.0,300.1" stroke="#f50000" stroke-width="4.3"/>
</g>
<rect x="324.6" y="184.3" width="11.0" height="15.2" fill="#c4c4c4" stroke="#000" stroke-width="2"/>
<rect x="351.6" y="238.2" width="9.1" height="15.3" fill="#c4c4c4" stroke="#000" stroke-width="2"/>
<rect x="409.6" y="184.6" width="9.3" height="14.7" fill="#c4c4c4" stroke="#000" stroke-width="2"/>
<rect x="504.0" y="214.9" width="9.4" height="14.7" fill="#c4c4c4" stroke="#000" stroke-width="2"/>
<path d="M550,439 L567,425" stroke="#000" stroke-width="3.6"/>
<path d="M578.5,416 L560.5,420.5 L572.5,433 Z" fill="#000"/>
<path d="M110,508.5 h12.6 M110,473.7 h7.1 M110,438.9 h12.6 M110,404.1 h7.1 M110,369.3 h12.6 M110,334.5 h7.1 M110,299.7 h12.6 M110,264.9 h7.1 M110,230.1 h12.6 M110,195.3 h7.1 M110,160.5 h12.6 M110.0,508.5 v-7.1 M110.0,160.5 v7.1 M170.2,508.5 v-12.6 M170.2,160.5 v12.6 M230.4,508.5 v-7.1 M230.4,160.5 v7.1 M290.6,508.5 v-12.6 M290.6,160.5 v12.6 M350.8,508.5 v-7.1 M350.8,160.5 v7.1 M411.0,508.5 v-12.6 M411.0,160.5 v12.6 M471.2,508.5 v-7.1 M471.2,160.5 v7.1 M531.4,508.5 v-12.6 M531.4,160.5 v12.6 M591.6,508.5 v-7.1 M591.6,160.5 v7.1 M651.8,508.5 v-12.6 M651.8,160.5 v12.6 M712.0,508.5 v-7.1 M712.0,160.5 v7.1 M772.2,508.5 v-12.6 M772.2,160.5 v12.6" stroke="#000" stroke-width="3.2" fill="none"/>
<path d="M110,508.5 V160.5 H772" stroke="#000" stroke-width="3.3" fill="none" stroke-linecap="square"/>
<path d="M110,508.5 H772" stroke="#000" stroke-width="3.3" fill="none" stroke-linecap="square"/>
<path d="M772,465.0 h-12.6 M772,421.5 h-7.1 M772,378.0 h-12.6 M772,334.5 h-7.1 M772,291.0 h-12.6 M772,247.5 h-7.1 M772,204.0 h-12.6 M772,160.5 h-7.1" stroke="#f00" stroke-width="3.2" fill="none"/>
<path d="M772,160.5 V508.5" stroke="#f00" stroke-width="3.3" fill="none" stroke-linecap="square"/>
<text x="96" y="518.8" font-family="Liberation Serif, Times New Roman, serif" font-size="35" text-anchor="end">0</text>
<text x="96" y="449.2" font-family="Liberation Serif, Times New Roman, serif" font-size="35" text-anchor="end">10</text>
<text x="96" y="379.6" font-family="Liberation Serif, Times New Roman, serif" font-size="35" text-anchor="end">20</text>
<text x="96" y="310.0" font-family="Liberation Serif, Times New Roman, serif" font-size="35" text-anchor="end">30</text>
<text x="96" y="240.4" font-family="Liberation Serif, Times New Roman, serif" font-size="35" text-anchor="end">40</text>
<text x="96" y="170.8" font-family="Liberation Serif, Times New Roman, serif" font-size="35" text-anchor="end">50</text>
<text x="170.2" y="549.3" font-family="Liberation Serif, Times New Roman, serif" font-size="35" text-anchor="middle">-0.1</text>
<text x="290.6" y="549.3" font-family="Liberation Serif, Times New Roman, serif" font-size="35" text-anchor="middle">0.0</text>
<text x="411.0" y="549.3" font-family="Liberation Serif, Times New Roman, serif" font-size="35" text-anchor="middle">0.1</text>
<text x="531.4" y="549.3" font-family="Liberation Serif, Times New Roman, serif" font-size="35" text-anchor="middle">0.2</text>
<text x="651.8" y="549.3" font-family="Liberation Serif, Times New Roman, serif" font-size="35" text-anchor="middle">0.3</text>
<text x="772.2" y="549.3" font-family="Liberation Serif, Times New Roman, serif" font-size="35" text-anchor="middle">0.4</text>
<text x="786" y="475.5" font-family="Liberation Serif, Times New Roman, serif" font-size="35" fill="#f00">0.0</text>
<text x="786" y="388.5" font-family="Liberation Serif, Times New Roman, serif" font-size="35" fill="#f00">0.1</text>
<text x="786" y="301.5" font-family="Liberation Serif, Times New Roman, serif" font-size="35" fill="#f00">0.2</text>
<text x="786" y="214.5" font-family="Liberation Serif, Times New Roman, serif" font-size="35" fill="#f00">0.3</text>
<text x="427" y="600" font-family="Liberation Serif, Times New Roman, serif" font-size="34.5" text-anchor="middle">Time (µs)</text>
<text transform="translate(31.5,336) rotate(-90) scale(1.03,1)" font-family="Liberation Serif, Times New Roman, serif" font-size="39" text-anchor="middle">Voltage (kV)</text>
<text transform="translate(879.5,332.4) rotate(-90) scale(1.03,1)" font-family="Liberation Serif, Times New Roman, serif" font-size="34.5" text-anchor="middle" fill="#f00">Light intensity (a.u.)</text>
<defs>
<filter id="g3" x="-20%" y="-20%" width="140%" height="140%"><feGaussianBlur stdDeviation="3"/></filter>
<filter id="g2" x="-20%" y="-20%" width="140%" height="140%"><feGaussianBlur stdDeviation="2"/></filter>
<filter id="g15" x="-20%" y="-20%" width="140%" height="140%"><feGaussianBlur stdDeviation="1.5"/></filter>
<filter id="g07" x="-20%" y="-20%" width="140%" height="140%"><feGaussianBlur stdDeviation="0.7"/></filter>
<filter id="g05" x="-20%" y="-20%" width="140%" height="140%"><feGaussianBlur stdDeviation="0.5"/></filter>
<filter id="nz" x="0" y="0" width="100%" height="100%" filterUnits="objectBoundingBox">
<feTurbulence type="fractalNoise" baseFrequency="0.12 0.035" numOctaves="3" seed="4"/>
<feColorMatrix type="matrix" values="0 0 0 0 0  0 0 0 0 0.1  0 0 0 0 1  4.5 0 0 0 -2.55"/>
<feGaussianBlur stdDeviation="0.6"/>
</filter>
<linearGradient id="vg" x1="0" y1="0" x2="0" y2="1"><stop offset="0" stop-color="#fff" stop-opacity="0.12"/><stop offset="0.35" stop-color="#fff" stop-opacity="0.35"/><stop offset="0.7" stop-color="#fff" stop-opacity="1"/><stop offset="1" stop-color="#fff" stop-opacity="1"/></linearGradient>
<mask id="vm" maskContentUnits="objectBoundingBox"><rect x="0" y="0" width="1" height="1" fill="url(#vg)"/></mask>
<linearGradient id="jet" x1="0" y1="0" x2="1" y2="0">
<stop offset="0" stop-color="#0000a8"/><stop offset="0.125" stop-color="#0010ff"/><stop offset="0.375" stop-color="#00ffff"/>
<stop offset="0.625" stop-color="#ffff00"/><stop offset="0.875" stop-color="#ff0000"/><stop offset="1" stop-color="#800000"/>
</linearGradient>

<clipPath id="cp0"><rect x="914.2" y="32" width="340.2" height="321.6"/></clipPath>
<clipPath id="cp1"><rect x="1254.4" y="32" width="340.9" height="321.6"/></clipPath>
<clipPath id="cp2"><rect x="914.2" y="373.8" width="340.2" height="322.9"/></clipPath>
<clipPath id="cp3"><rect x="1254.4" y="373.8" width="341.1" height="322.9"/></clipPath>
</defs>
<path d="M925.2,366.1 Q925.2,353.3 935.2,353.3 H1233.6 Q1243.6,353.3 1243.6,366.1" fill="none" stroke="#222" stroke-width="1.5"/>
<path d="M1084.5,353.3 V362.6 M1077.5,362.6 H1091.5 M1079.9,365.8 H1089.1 M1081.9,368.8 H1087.1" stroke="#111" stroke-width="1.6" fill="none"/>
<path d="M1266.5,366.1 Q1266.5,353.3 1276.5,353.3 H1574.8 Q1584.8,353.3 1584.8,366.1" fill="none" stroke="#222" stroke-width="1.5"/>
<path d="M1423.5,353.3 V362.6 M1416.5,362.6 H1430.5 M1418.9,365.8 H1428.1 M1420.9,368.8 H1426.1" stroke="#111" stroke-width="1.6" fill="none"/>
<path d="M925,709.1999999999999 Q925,696.4 935,696.4 H1233.4 Q1243.4,696.4 1243.4,709.1999999999999" fill="none" stroke="#222" stroke-width="1.5"/>
<path d="M1084.4,696.4 V705.6999999999999 M1077.4,705.6999999999999 H1091.4 M1079.8000000000002,708.9 H1089.0 M1081.8000000000002,711.9 H1087.0" stroke="#111" stroke-width="1.6" fill="none"/>
<path d="M1266.6,709.1999999999999 Q1266.6,696.4 1276.6,696.4 H1573.7 Q1583.7,696.4 1583.7,709.1999999999999" fill="none" stroke="#222" stroke-width="1.5"/>
<path d="M1422.3,696.4 V705.6999999999999 M1415.3,705.6999999999999 H1429.3 M1417.7,708.9 H1426.8999999999999 M1419.7,711.9 H1424.8999999999999" stroke="#111" stroke-width="1.6" fill="none"/>
<rect x="914.2" y="32" width="340.2" height="321.6" fill="#000096"/>
<rect x="1254.4" y="32" width="340.9" height="321.6" fill="#000096"/>
<rect x="914.2" y="373.8" width="340.2" height="322.9" fill="#000096"/>
<rect x="1254.4" y="373.8" width="341.1" height="322.9" fill="#000096"/>
<g clip-path="url(#cp0)" fill="none" stroke-linecap="round" stroke-linejoin="round">
<rect x="914.2" y="32" width="340.2" height="321.6" filter="url(#nz)" mask="url(#vm)" opacity="0.55"/>
<g filter="url(#g2)"><path d="M1068.6,251.7 Q1067.1,272.9 1069.4,294.0" stroke="#1040ff" stroke-width="3.3" opacity="0.18"/><path d="M1088.2,267.1 Q1088.0,286.0 1084.1,304.9" stroke="#1040ff" stroke-width="2.8" opacity="0.12"/><path d="M1148.2,137.7 Q1146.7,159.9 1149.3,182.1" stroke="#1040ff" stroke-width="3.6" opacity="0.27"/><path d="M924.2,244.8 Q921.6,250.8 919.5,256.9" stroke="#1040ff" stroke-width="2.6" opacity="0.13"/><path d="M1064.7,313.9 Q1065.2,328.0 1066.3,342.1" stroke="#1040ff" stroke-width="3.2" opacity="0.22"/><path d="M1011.0,348.1 Q1008.5,370.5 1009.2,392.9" stroke="#1040ff" stroke-width="3.8" opacity="0.25"/><path d="M1014.6,143.9 Q1016.8,162.3 1013.5,180.8" stroke="#1040ff" stroke-width="4.1" opacity="0.17"/><path d="M1199.0,128.6 Q1200.8,137.3 1203.8,145.9" stroke="#1040ff" stroke-width="3.2" opacity="0.26"/><path d="M943.3,267.0 Q945.3,285.7 941.6,304.3" stroke="#1040ff" stroke-width="2.2" opacity="0.15"/><path d="M1169.5,154.5 Q1169.1,163.8 1172.5,173.1" stroke="#1040ff" stroke-width="2.1" opacity="0.12"/><path d="M1103.9,227.0 Q1102.3,235.3 1105.3,243.6" stroke="#1040ff" stroke-width="2.3" opacity="0.23"/><path d="M1058.1,175.3 Q1059.5,185.1 1056.2,194.8" stroke="#1040ff" stroke-width="4.0" opacity="0.27"/><path d="M988.8,215.3 Q989.5,235.2 993.7,255.2" stroke="#1040ff" stroke-width="2.3" opacity="0.22"/><path d="M1004.5,298.6 Q1002.9,309.3 1000.4,320.1" stroke="#1040ff" stroke-width="2.2" opacity="0.15"/><path d="M999.4,260.8 Q999.8,272.3 999.3,283.8" stroke="#1040ff" stroke-width="4.4" opacity="0.18"/><path d="M1205.3,168.7 Q1202.2,176.4 1202.8,184.1" stroke="#1040ff" stroke-width="4.0" opacity="0.26"/><path d="M1163.4,335.5 Q1163.4,343.9 1164.4,352.4" stroke="#1040ff" stroke-width="4.2" opacity="0.27"/><path d="M953.5,137.0 Q954.2,158.8 951.1,180.7" stroke="#1040ff" stroke-width="3.8" opacity="0.14"/><path d="M1116.2,193.1 Q1115.2,201.1 1113.4,209.2" stroke="#1040ff" stroke-width="2.2" opacity="0.23"/><path d="M1200.7,263.7 Q1196.9,273.6 1195.8,283.5" stroke="#1040ff" stroke-width="2.5" opacity="0.27"/><path d="M1066.4,141.8 Q1063.7,149.9 1062.7,158.0" stroke="#1040ff" stroke-width="3.4" opacity="0.17"/><path d="M1213.4,344.3 Q1208.8,360.8 1209.8,377.3" stroke="#1040ff" stroke-width="3.5" opacity="0.22"/><path d="M925.1,328.8 Q925.7,346.1 926.5,363.4" stroke="#1040ff" stroke-width="2.1" opacity="0.27"/><path d="M1160.4,198.7 Q1164.0,221.2 1162.8,243.7" stroke="#1040ff" stroke-width="3.4" opacity="0.11"/><path d="M1162.6,283.4 Q1165.9,302.3 1164.4,321.1" stroke="#1040ff" stroke-width="2.9" opacity="0.26"/><ellipse cx="1206.8" cy="175.7" rx="4.2" ry="7.0" fill="#1040ff" stroke="none" opacity="0.23"/><ellipse cx="1108.3" cy="237.4" rx="2.9" ry="4.9" fill="#1040ff" stroke="none" opacity="0.19"/><ellipse cx="1120.2" cy="75.8" rx="3.7" ry="6.2" fill="#1040ff" stroke="none" opacity="0.25"/><ellipse cx="1209.7" cy="268.0" rx="3.0" ry="4.9" fill="#1040ff" stroke="none" opacity="0.21"/><ellipse cx="1111.0" cy="182.7" rx="4.3" ry="7.2" fill="#1040ff" stroke="none" opacity="0.11"/><ellipse cx="1166.9" cy="60.8" rx="3.6" ry="6.0" fill="#1040ff" stroke="none" opacity="0.17"/><ellipse cx="995.2" cy="259.1" rx="3.3" ry="5.5" fill="#1040ff" stroke="none" opacity="0.19"/><ellipse cx="1223.1" cy="127.9" rx="1.8" ry="3.1" fill="#1040ff" stroke="none" opacity="0.15"/><ellipse cx="1143.1" cy="112.1" rx="2.3" ry="3.8" fill="#1040ff" stroke="none" opacity="0.24"/><ellipse cx="1137.1" cy="183.1" rx="4.5" ry="7.5" fill="#1040ff" stroke="none" opacity="0.15"/><ellipse cx="1139.1" cy="110.9" rx="3.1" ry="5.2" fill="#1040ff" stroke="none" opacity="0.22"/><ellipse cx="1221.1" cy="313.1" rx="3.0" ry="4.9" fill="#1040ff" stroke="none" opacity="0.19"/><ellipse cx="1023.7" cy="92.4" rx="3.3" ry="5.5" fill="#1040ff" stroke="none" opacity="0.23"/><ellipse cx="1199.4" cy="262.9" rx="4.7" ry="7.8" fill="#1040ff" stroke="none" opacity="0.14"/><ellipse cx="975.0" cy="185.7" rx="2.6" ry="4.4" fill="#1040ff" stroke="none" opacity="0.13"/><ellipse cx="1055.9" cy="237.6" rx="3.3" ry="5.5" fill="#1040ff" stroke="none" opacity="0.15"/><ellipse cx="1196.3" cy="343.3" rx="3.2" ry="5.3" fill="#1040ff" stroke="none" opacity="0.11"/><ellipse cx="929.6" cy="310.9" rx="1.9" ry="3.2" fill="#1040ff" stroke="none" opacity="0.21"/><ellipse cx="1107.6" cy="143.7" rx="4.2" ry="7.0" fill="#1040ff" stroke="none" opacity="0.10"/><ellipse cx="964.1" cy="186.9" rx="1.9" ry="3.1" fill="#1040ff" stroke="none" opacity="0.22"/><ellipse cx="997.6" cy="93.8" rx="1.9" ry="3.2" fill="#1040ff" stroke="none" opacity="0.19"/><ellipse cx="1066.6" cy="238.8" rx="3.8" ry="6.3" fill="#1040ff" stroke="none" opacity="0.22"/><ellipse cx="1235.7" cy="255.0" rx="2.4" ry="4.0" fill="#1040ff" stroke="none" opacity="0.17"/><ellipse cx="978.2" cy="55.2" rx="3.2" ry="5.4" fill="#1040ff" stroke="none" opacity="0.21"/><ellipse cx="978.3" cy="132.8" rx="2.8" ry="4.7" fill="#1040ff" stroke="none" opacity="0.20"/></g>
<path d="M1085.1,75.0 C1085.8,75.8 1088.0,78.3 1089.5,80.0 C1091.1,81.7 1092.9,83.3 1094.2,85.0 C1095.5,86.7 1095.9,88.3 1097.3,90.0 C1098.7,91.7 1101.0,93.3 1102.7,95.0 C1104.3,96.7 1106.2,98.3 1107.2,100.0 C1108.2,101.7 1107.3,103.3 1108.6,105.0 C1109.8,106.7 1113.3,108.3 1114.9,110.0 C1116.5,111.7 1117.2,113.3 1118.1,115.0 C1118.9,116.7 1118.9,118.3 1120.1,120.0 C1121.2,121.7 1124.2,124.2 1125.0,125.0" stroke="#1a48ff" stroke-width="4.5" opacity="0.28" filter="url(#g2)"/>
<path d="M1087.9,70.0 C1088.9,70.1 1092.1,70.4 1094.4,70.7 C1096.6,70.9 1099.4,71.1 1101.2,71.3 C1103.1,71.6 1103.8,71.8 1105.6,72.0 C1107.5,72.2 1110.0,72.4 1112.2,72.7 C1114.5,72.9 1117.0,73.1 1119.1,73.3 C1121.3,73.6 1122.8,73.6 1124.9,74.0 C1127.0,74.4 1129.8,75.0 1131.8,75.5 C1133.8,76.0 1134.9,76.5 1136.9,77.0 C1138.9,77.5 1141.8,78.0 1144.0,78.5 C1146.1,79.0 1149.0,79.8 1150.0,80.0" stroke="#1a48ff" stroke-width="4.5" opacity="0.28" filter="url(#g2)"/>
<path d="M1103.1,38.0 C1104.6,39.0 1110.5,43.0 1112.0,44.0" stroke="#1a48ff" stroke-width="4.5" opacity="0.28" filter="url(#g2)"/>
<path d="M1050.7,90.0 C1050.2,91.0 1049.1,93.8 1048.1,95.7 C1047.1,97.6 1045.7,99.5 1044.7,101.4 C1043.7,103.3 1043.2,105.2 1042.1,107.1 C1040.9,109.0 1038.6,111.0 1037.7,112.9 C1036.9,114.8 1037.5,116.7 1036.9,118.6 C1036.3,120.5 1035.2,122.4 1034.3,124.3 C1033.4,126.2 1032.4,127.9 1031.4,130.0 C1030.5,132.1 1029.1,134.4 1028.4,136.7 C1027.8,138.9 1028.2,141.1 1027.5,143.3 C1026.9,145.6 1025.0,147.8 1024.5,150.0 C1024.0,152.2 1024.9,154.4 1024.6,156.7 C1024.3,158.9 1023.5,161.1 1022.7,163.3 C1022.0,165.6 1020.5,168.9 1020.0,170.0" stroke="#1a48ff" stroke-width="4.5" opacity="0.28" filter="url(#g2)"/>
<path d="M1069.5,110.0 C1069.2,111.0 1067.9,114.2 1067.5,116.2 C1067.1,118.3 1067.5,120.4 1067.3,122.5 C1067.1,124.6 1066.7,126.7 1066.4,128.8 C1066.1,130.8 1066.3,132.9 1065.8,135.0 C1065.4,137.1 1064.5,139.2 1063.7,141.2 C1062.9,143.3 1061.3,145.4 1061.1,147.5 C1060.8,149.6 1062.6,151.7 1062.2,153.8 C1061.8,155.8 1058.9,158.0 1058.7,160.0 C1058.5,162.0 1061.0,164.0 1061.1,166.0 C1061.2,168.0 1059.6,170.0 1059.4,172.0 C1059.3,174.0 1059.7,176.0 1060.1,178.0 C1060.5,180.0 1061.7,182.0 1061.7,184.0 C1061.6,186.0 1060.2,188.0 1059.9,190.0 C1059.7,192.0 1059.9,194.0 1060.1,196.0 C1060.4,198.0 1061.1,200.0 1061.4,202.0 C1061.8,204.0 1062.0,206.0 1062.3,208.0 C1062.5,210.0 1062.8,212.0 1062.8,214.0 C1062.9,216.0 1062.4,218.0 1062.6,220.0 C1062.7,222.0 1063.6,224.1 1063.6,226.2 C1063.6,228.2 1062.5,230.3 1062.6,232.3 C1062.7,234.4 1064.4,236.4 1064.3,238.5 C1064.2,240.5 1062.3,242.6 1062.0,244.6 C1061.7,246.7 1062.4,248.7 1062.7,250.8 C1063.0,252.8 1063.8,254.9 1063.9,256.9 C1064.1,259.0 1063.3,261.0 1063.5,263.1 C1063.7,265.1 1064.9,267.2 1065.1,269.2 C1065.4,271.3 1065.2,273.3 1065.2,275.4 C1065.2,277.4 1064.9,279.5 1065.1,281.5 C1065.4,283.6 1066.3,285.6 1066.4,287.7 C1066.5,289.7 1065.9,291.8 1065.9,293.8 C1065.8,295.9 1066.0,299.0 1066.0,300.0" stroke="#1a48ff" stroke-width="4.5" opacity="0.28" filter="url(#g2)"/>
<path d="M1091.4,140.0 C1091.6,141.0 1091.9,144.0 1092.4,146.0 C1093.0,148.0 1094.1,150.0 1094.6,152.0 C1095.2,154.0 1095.7,156.0 1095.6,158.0 C1095.5,160.0 1094.1,162.0 1094.3,164.0 C1094.6,166.0 1096.4,168.0 1097.1,170.0 C1097.7,172.0 1098.1,174.0 1098.2,176.0 C1098.3,178.0 1097.6,180.0 1097.7,182.0 C1097.7,184.0 1098.5,186.0 1098.6,188.0 C1098.7,190.0 1098.1,192.0 1098.3,194.0 C1098.6,196.0 1099.8,198.0 1100.1,200.0 C1100.5,202.0 1100.2,204.0 1100.4,206.0 C1100.6,208.0 1101.2,210.0 1101.1,212.0 C1101.0,214.0 1099.5,216.0 1099.8,218.0 C1100.1,220.0 1102.6,222.0 1103.0,224.0 C1103.4,226.0 1102.2,228.0 1102.0,230.0 C1101.9,232.0 1101.8,234.0 1102.1,236.0 C1102.4,238.0 1103.5,240.0 1103.7,242.0 C1103.9,244.0 1103.4,246.0 1103.4,248.0 C1103.4,250.0 1103.4,252.0 1103.6,254.0 C1103.8,256.0 1104.7,258.0 1104.6,260.0 C1104.5,262.0 1103.0,264.1 1103.0,266.2 C1103.0,268.2 1104.5,270.3 1104.7,272.3 C1105.0,274.4 1104.4,276.4 1104.7,278.5 C1105.0,280.5 1106.2,282.6 1106.6,284.6 C1107.0,286.7 1107.0,288.7 1106.8,290.8 C1106.6,292.8 1105.3,294.9 1105.2,296.9 C1105.0,299.0 1106.0,301.0 1106.1,303.1 C1106.1,305.1 1105.3,307.2 1105.3,309.2 C1105.4,311.3 1106.1,313.3 1106.6,315.4 C1107.0,317.4 1107.7,319.5 1108.0,321.5 C1108.4,323.6 1108.7,325.6 1108.6,327.7 C1108.5,329.7 1107.7,331.8 1107.6,333.8 C1107.5,335.9 1107.9,339.0 1108.0,340.0" stroke="#1a48ff" stroke-width="4.5" opacity="0.28" filter="url(#g2)"/>
<path d="M1039.5,200.0 C1039.2,201.0 1038.3,204.0 1038.1,206.0 C1037.9,208.0 1038.3,210.0 1038.4,212.0 C1038.4,214.0 1038.9,216.0 1038.3,218.0 C1037.7,220.0 1035.3,222.0 1034.9,224.0 C1034.5,226.0 1036.2,228.0 1035.8,230.0 C1035.5,232.0 1033.2,234.0 1032.6,236.0 C1031.9,238.0 1032.3,240.0 1032.1,242.0 C1031.9,244.0 1031.3,246.0 1031.2,248.0 C1031.1,250.0 1031.8,252.0 1031.6,254.0 C1031.3,256.0 1029.9,257.9 1029.5,260.0 C1029.0,262.1 1028.9,264.2 1028.8,266.4 C1028.7,268.5 1029.3,270.6 1028.9,272.7 C1028.5,274.8 1026.8,277.0 1026.6,279.1 C1026.4,281.2 1028.0,283.3 1027.8,285.5 C1027.6,287.6 1025.6,289.7 1025.2,291.8 C1024.9,293.9 1025.8,296.1 1025.7,298.2 C1025.5,300.3 1024.6,302.4 1024.2,304.5 C1023.8,306.7 1023.4,308.8 1023.3,310.9 C1023.2,313.0 1023.7,315.2 1023.5,317.3 C1023.4,319.4 1022.8,321.5 1022.5,323.6 C1022.3,325.8 1022.1,328.9 1022.0,330.0" stroke="#1a48ff" stroke-width="4.5" opacity="0.28" filter="url(#g2)"/>
<path d="M979.6,230.0 C979.6,231.0 979.3,234.0 979.2,236.0 C979.2,238.0 979.4,240.0 979.1,242.0 C978.8,244.0 977.8,246.0 977.5,248.0 C977.1,250.0 977.0,252.0 977.1,254.0 C977.2,256.0 977.8,258.0 977.9,260.0 C977.9,262.0 977.6,264.0 977.4,266.0 C977.2,268.0 976.6,270.0 976.6,272.0 C976.5,274.0 977.2,276.0 977.1,278.0 C976.9,280.0 976.0,282.0 975.8,284.0 C975.7,286.0 976.4,288.0 976.1,290.0 C975.7,292.0 973.9,294.1 973.6,296.1 C973.4,298.1 974.5,300.2 974.6,302.2 C974.7,304.3 974.4,306.3 974.3,308.3 C974.2,310.4 974.4,312.4 974.0,314.4 C973.6,316.5 972.1,318.5 971.7,320.6 C971.2,322.6 971.0,324.6 971.1,326.7 C971.2,328.7 972.6,330.7 972.4,332.8 C972.1,334.8 970.1,336.9 969.7,338.9 C969.3,340.9 970.0,344.0 970.0,345.0" stroke="#1a48ff" stroke-width="4.5" opacity="0.28" filter="url(#g2)"/>
<path d="M1201.5,220.0 C1201.5,221.0 1201.9,224.1 1201.5,226.2 C1201.2,228.2 1199.9,230.3 1199.7,232.3 C1199.5,234.4 1199.9,236.4 1200.4,238.5 C1200.8,240.5 1202.1,242.6 1202.2,244.6 C1202.4,246.7 1201.4,248.7 1201.2,250.8 C1201.0,252.8 1200.7,254.9 1201.1,256.9 C1201.5,259.0 1203.4,261.0 1203.7,263.1 C1204.0,265.1 1202.7,267.2 1202.8,269.2 C1202.9,271.3 1204.4,273.3 1204.3,275.4 C1204.3,277.4 1202.8,279.5 1202.7,281.5 C1202.7,283.6 1203.5,285.6 1203.9,287.7 C1204.3,289.7 1205.0,291.8 1205.2,293.8 C1205.3,295.9 1205.0,299.0 1205.0,300.0" stroke="#1a48ff" stroke-width="4.5" opacity="0.28" filter="url(#g2)"/>
<path d="M1128.6,230.0 C1128.7,231.0 1129.1,234.2 1129.6,236.2 C1130.1,238.3 1131.0,240.4 1131.5,242.5 C1132.1,244.6 1132.4,246.7 1132.7,248.8 C1133.0,250.8 1133.6,252.9 1133.4,255.0 C1133.2,257.1 1131.4,259.2 1131.3,261.2 C1131.3,263.3 1132.5,265.4 1133.0,267.5 C1133.5,269.6 1134.1,271.7 1134.3,273.8 C1134.4,275.8 1133.9,277.9 1134.0,280.0 C1134.1,282.1 1135.0,284.2 1135.1,286.2 C1135.1,288.3 1134.2,290.4 1134.1,292.5 C1133.9,294.6 1134.1,296.7 1134.2,298.8 C1134.3,300.8 1134.7,302.9 1134.8,305.0 C1135.0,307.1 1134.7,309.2 1135.1,311.2 C1135.5,313.3 1136.7,315.4 1137.2,317.5 C1137.6,319.6 1137.4,321.7 1137.5,323.8 C1137.7,325.8 1137.9,329.0 1138.0,330.0" stroke="#1a48ff" stroke-width="4.5" opacity="0.28" filter="url(#g2)"/>
<g filter="url(#g07)"><path d="M1083.8,93.5 L1082.2,99.2 L1080.1,104.9 L1078.1,110.5 L1076.3,116.2" stroke="#0a50ff" stroke-width="1.7" opacity="0.42"/><path d="M1082.1,120.7 L1080.2,126.4 L1077.8,131.9 L1076.0,137.6" stroke="#0a50ff" stroke-width="2.1" opacity="0.68"/><path d="M1080.7,75.1 L1078.7,80.7 L1076.4,86.3 L1073.2,91.4" stroke="#0a50ff" stroke-width="1.7" opacity="0.60"/><path d="M1037.8,103.6 L1037.0,109.5 L1035.7,115.4 L1033.5,121.0 L1030.4,126.1 L1027.5,131.4 L1023.9,136.2" stroke="#0a50ff" stroke-width="1.3" opacity="0.67"/><path d="M1094.1,96.4 L1095.0,102.3 L1095.0,108.3 L1095.1,114.3 L1094.5,120.3 L1093.6,126.2 L1093.1,132.2 L1092.5,138.2 L1091.0,144.0 L1088.8,149.6 L1086.7,155.2" stroke="#0a50ff" stroke-width="1.2" opacity="0.56"/><path d="M1093.4,92.4 L1094.4,98.3 L1094.7,104.3 L1094.3,110.3 L1093.5,116.2 L1093.5,122.2 L1093.2,128.2 L1093.7,134.2 L1094.9,140.0 L1095.4,146.0" stroke="#0a50ff" stroke-width="1.9" opacity="0.48"/><path d="M1062.9,68.8 L1061.1,74.5 L1059.5,80.3 L1058.6,86.2 L1057.7,92.2 L1055.9,97.9 L1053.4,103.4 L1051.0,108.8 L1047.8,113.9 L1045.1,119.3 L1042.5,124.7 L1039.0,129.5 L1035.3,134.3" stroke="#0a50ff" stroke-width="1.5" opacity="0.51"/><path d="M1066.0,67.9 L1062.4,72.7 L1058.9,77.6 L1056.0,82.8 L1052.6,87.8 L1049.8,93.1 L1046.1,97.8 L1042.5,102.6 L1039.1,107.6 L1035.7,112.5 L1031.5,116.8 L1027.4,121.2 L1022.9,125.2" stroke="#0a50ff" stroke-width="1.2" opacity="0.50"/></g>
<path d="M1083.4,148.5 C1084.1,149.1 1086.1,150.9 1087.8,152.1 C1089.4,153.3 1092.3,155.1 1093.2,155.7" stroke="#0040ff" stroke-width="5.0" opacity="0.5" filter="url(#g2)"/>
<path d="M1083.4,148.5 C1084.1,149.1 1086.1,150.9 1087.8,152.1 C1089.4,153.3 1092.3,155.1 1093.2,155.7" stroke="#0060ff" stroke-width="2.2" opacity="0.8" filter="url(#g07)"/>
<path d="M1080.6,75.0 C1079.4,75.2 1075.8,76.0 1073.6,76.5 C1071.4,77.0 1069.4,77.2 1067.5,78.0 C1065.6,78.8 1064.1,80.4 1062.3,81.6 C1060.5,82.8 1058.7,83.8 1056.8,85.2 C1054.9,86.6 1052.8,88.2 1051.1,89.7 C1049.4,91.2 1047.9,92.6 1046.5,94.2 C1045.1,95.8 1044.3,97.5 1042.8,99.2 C1041.2,100.9 1038.4,102.7 1037.1,104.2 C1035.8,105.7 1035.4,107.4 1035.0,108.0" stroke="#0030ff" stroke-width="7.0" opacity="0.45" filter="url(#g3)"/>
<path d="M1080.6,75.0 C1079.4,75.2 1075.8,76.0 1073.6,76.5 C1071.4,77.0 1069.4,77.2 1067.5,78.0 C1065.6,78.8 1064.1,80.4 1062.3,81.6 C1060.5,82.8 1058.7,83.8 1056.8,85.2 C1054.9,86.6 1052.8,88.2 1051.1,89.7 C1049.4,91.2 1047.9,92.6 1046.5,94.2 C1045.1,95.8 1044.3,97.5 1042.8,99.2 C1041.2,100.9 1038.4,102.7 1037.1,104.2 C1035.8,105.7 1035.4,107.4 1035.0,108.0" stroke="#0068ff" stroke-width="4.2" opacity="0.9" filter="url(#g15)"/>
<path d="M1080.6,75.0 C1079.4,75.2 1075.8,76.0 1073.6,76.5 C1071.4,77.0 1069.4,77.2 1067.5,78.0 C1065.6,78.8 1064.1,80.4 1062.3,81.6 C1060.5,82.8 1058.7,83.8 1056.8,85.2 C1054.9,86.6 1052.8,88.2 1051.1,89.7 C1049.4,91.2 1047.9,92.6 1046.5,94.2 C1045.1,95.8 1044.3,97.5 1042.8,99.2 C1041.2,100.9 1038.4,102.7 1037.1,104.2 C1035.8,105.7 1035.4,107.4 1035.0,108.0" stroke="#18a8ff" stroke-width="2.7" filter="url(#g07)"/>
<path d="M1080.6,75.0 C1079.4,75.2 1075.8,76.0 1073.6,76.5 C1071.4,77.0 1069.4,77.2 1067.5,78.0 C1065.6,78.8 1064.1,80.4 1062.3,81.6 C1060.5,82.8 1058.7,83.8 1056.8,85.2 C1054.9,86.6 1052.8,88.2 1051.1,89.7 C1049.4,91.2 1047.9,92.6 1046.5,94.2 C1045.1,95.8 1044.3,97.5 1042.8,99.2 C1041.2,100.9 1038.4,102.7 1037.1,104.2 C1035.8,105.7 1035.4,107.4 1035.0,108.0" stroke="#48d8ff" stroke-width="1.0" opacity="0.85" filter="url(#g05)"/>
<path d="M1084.4,79.0 C1084.9,79.7 1086.3,81.7 1087.5,83.0 C1088.6,84.3 1090.2,85.1 1091.4,87.0 C1092.5,88.9 1093.7,92.0 1094.1,94.2 C1094.6,96.4 1094.0,98.2 1094.0,100.2 C1094.0,102.2 1094.3,104.3 1094.2,106.3 C1094.1,108.3 1093.4,110.3 1093.4,112.3 C1093.4,114.3 1094.0,116.3 1094.1,118.3 C1094.2,120.3 1094.2,122.4 1094.0,124.4 C1093.8,126.4 1093.0,128.3 1092.8,130.4 C1092.5,132.5 1092.8,134.6 1092.7,136.7 C1092.6,138.8 1092.4,141.9 1092.3,143.0" stroke="#0030ff" stroke-width="7.0" opacity="0.45" filter="url(#g3)"/>
<path d="M1084.4,79.0 C1084.9,79.7 1086.3,81.7 1087.5,83.0 C1088.6,84.3 1090.2,85.1 1091.4,87.0 C1092.5,88.9 1093.7,92.0 1094.1,94.2 C1094.6,96.4 1094.0,98.2 1094.0,100.2 C1094.0,102.2 1094.3,104.3 1094.2,106.3 C1094.1,108.3 1093.4,110.3 1093.4,112.3 C1093.4,114.3 1094.0,116.3 1094.1,118.3 C1094.2,120.3 1094.2,122.4 1094.0,124.4 C1093.8,126.4 1093.0,128.3 1092.8,130.4 C1092.5,132.5 1092.8,134.6 1092.7,136.7 C1092.6,138.8 1092.4,141.9 1092.3,143.0" stroke="#0068ff" stroke-width="4.2" opacity="0.9" filter="url(#g15)"/>
<path d="M1084.4,79.0 C1084.9,79.7 1086.3,81.7 1087.5,83.0 C1088.6,84.3 1090.2,85.1 1091.4,87.0 C1092.5,88.9 1093.7,92.0 1094.1,94.2 C1094.6,96.4 1094.0,98.2 1094.0,100.2 C1094.0,102.2 1094.3,104.3 1094.2,106.3 C1094.1,108.3 1093.4,110.3 1093.4,112.3 C1093.4,114.3 1094.0,116.3 1094.1,118.3 C1094.2,120.3 1094.2,122.4 1094.0,124.4 C1093.8,126.4 1093.0,128.3 1092.8,130.4 C1092.5,132.5 1092.8,134.6 1092.7,136.7 C1092.6,138.8 1092.4,141.9 1092.3,143.0" stroke="#18a8ff" stroke-width="2.7" filter="url(#g07)"/>
<path d="M1084.4,79.0 C1084.9,79.7 1086.3,81.7 1087.5,83.0 C1088.6,84.3 1090.2,85.1 1091.4,87.0 C1092.5,88.9 1093.7,92.0 1094.1,94.2 C1094.6,96.4 1094.0,98.2 1094.0,100.2 C1094.0,102.2 1094.3,104.3 1094.2,106.3 C1094.1,108.3 1093.4,110.3 1093.4,112.3 C1093.4,114.3 1094.0,116.3 1094.1,118.3 C1094.2,120.3 1094.2,122.4 1094.0,124.4 C1093.8,126.4 1093.0,128.3 1092.8,130.4 C1092.5,132.5 1092.8,134.6 1092.7,136.7 C1092.6,138.8 1092.4,141.9 1092.3,143.0" stroke="#48d8ff" stroke-width="1.0" opacity="0.85" filter="url(#g05)"/>
<path d="M1062.8,68.9 C1064.3,68.5 1070.1,66.7 1071.5,66.2" stroke="#0030ff" stroke-width="7.0" opacity="0.45" filter="url(#g3)"/>
<path d="M1062.8,68.9 C1064.3,68.5 1070.1,66.7 1071.5,66.2" stroke="#0068ff" stroke-width="4.2" opacity="0.9" filter="url(#g15)"/>
<path d="M1062.8,68.9 C1064.3,68.5 1070.1,66.7 1071.5,66.2" stroke="#18a8ff" stroke-width="2.7" filter="url(#g07)"/>
<path d="M1062.8,68.9 C1064.3,68.5 1070.1,66.7 1071.5,66.2" stroke="#48d8ff" stroke-width="1.0" opacity="0.85" filter="url(#g05)"/>
<path d="M1082.3,71.0 C1082.3,72.2 1082.3,75.7 1082.4,78.1 C1082.5,80.5 1082.6,82.8 1082.8,85.2 C1083.1,87.6 1083.7,90.0 1083.8,92.5 C1083.9,94.9 1083.4,97.6 1083.5,99.7 C1083.6,101.8 1084.4,103.3 1084.5,105.1 C1084.5,106.9 1084.2,108.8 1084.0,110.6 C1083.9,112.4 1083.8,114.2 1083.6,116.0 C1083.3,117.8 1082.9,119.6 1082.5,121.4 C1082.0,123.2 1081.3,124.9 1080.8,126.8 C1080.3,128.7 1079.9,130.7 1079.6,132.7 C1079.2,134.7 1078.9,137.6 1078.8,138.6" stroke="#0040ff" stroke-width="10.0" opacity="0.55" filter="url(#g3)"/>
<path d="M1082.3,71.0 C1082.3,72.2 1082.3,75.7 1082.4,78.1 C1082.5,80.5 1082.6,82.8 1082.8,85.2 C1083.1,87.6 1083.7,90.0 1083.8,92.5 C1083.9,94.9 1083.4,97.6 1083.5,99.7 C1083.6,101.8 1084.4,103.3 1084.5,105.1 C1084.5,106.9 1084.2,108.8 1084.0,110.6 C1083.9,112.4 1083.8,114.2 1083.6,116.0 C1083.3,117.8 1082.9,119.6 1082.5,121.4 C1082.0,123.2 1081.3,124.9 1080.8,126.8 C1080.3,128.7 1079.9,130.7 1079.6,132.7 C1079.2,134.7 1078.9,137.6 1078.8,138.6" stroke="#0088ff" stroke-width="5.4" opacity="0.9" filter="url(#g15)"/>
<path d="M1082.3,71.0 C1082.3,72.2 1082.3,75.7 1082.4,78.1 C1082.5,80.5 1082.6,82.8 1082.8,85.2 C1083.1,87.6 1083.7,90.0 1083.8,92.5 C1083.9,94.9 1083.4,97.6 1083.5,99.7 C1083.6,101.8 1084.4,103.3 1084.5,105.1 C1084.5,106.9 1084.2,108.8 1084.0,110.6 C1083.9,112.4 1083.8,114.2 1083.6,116.0 C1083.3,117.8 1082.9,119.6 1082.5,121.4 C1082.0,123.2 1081.3,124.9 1080.8,126.8 C1080.3,128.7 1079.9,130.7 1079.6,132.7 C1079.2,134.7 1078.9,137.6 1078.8,138.6" stroke="#20ccff" stroke-width="3.4" filter="url(#g07)"/>
<path d="M1082.3,71.0 C1082.3,72.2 1082.3,75.7 1082.4,78.1 C1082.5,80.5 1082.6,82.8 1082.8,85.2 C1083.1,87.6 1083.7,90.0 1083.8,92.5 C1083.9,94.9 1083.4,97.6 1083.5,99.7 C1083.6,101.8 1084.4,103.3 1084.5,105.1 C1084.5,106.9 1084.2,108.8 1084.0,110.6 C1083.9,112.4 1083.8,114.2 1083.6,116.0 C1083.3,117.8 1082.9,119.6 1082.5,121.4 C1082.0,123.2 1081.3,124.9 1080.8,126.8 C1080.3,128.7 1079.9,130.7 1079.6,132.7 C1079.2,134.7 1078.9,137.6 1078.8,138.6" stroke="#58f6ff" stroke-width="1.9" filter="url(#g05)"/>
<path d="M1083.6,88.0 C1083.7,90.0 1084.3,96.0 1084.3,100.0 C1084.3,104.0 1083.9,110.0 1083.8,112.0" stroke="#90ff70" stroke-width="1.6" opacity="1.0" filter="url(#g07)"/>
<ellipse cx="1064" cy="268" rx="6" ry="11" fill="#1060ff" stroke="none" opacity="0.7" filter="url(#g2)"/>
<ellipse cx="1063" cy="272" rx="2.5" ry="5" fill="#20a0ff" stroke="none" opacity="0.8" filter="url(#g2)"/>
<ellipse cx="1070" cy="290" rx="4" ry="8" fill="#0850ff" stroke="none" opacity="0.5" filter="url(#g2)"/>
<circle cx="1082.6" cy="75.5" r="3.5" fill="#0070ff" stroke="none" opacity="0.7" filter="url(#g15)"/>
<circle cx="1082.6" cy="75.5" r="1.8" fill="#e0c000" stroke="none" filter="url(#g07)"/>
<circle cx="1071.5" cy="45.4" r="4.2" fill="#0070ff" stroke="none" opacity="0.7" filter="url(#g15)"/>
<circle cx="1071.5" cy="45.4" r="2.1" fill="#30c0ff" stroke="none" filter="url(#g07)"/>
<circle cx="1064" cy="272" r="2.6" fill="#0070ff" stroke="none" opacity="0.7" filter="url(#g15)"/>
<circle cx="1064" cy="272" r="1.3" fill="#2090ff" stroke="none" filter="url(#g07)"/>
</g>
<g clip-path="url(#cp1)" fill="none" stroke-linecap="round" stroke-linejoin="round">
<rect x="1254.4" y="32" width="340.9" height="321.6" filter="url(#nz)" mask="url(#vm)" opacity="0.55"/>
<g filter="url(#g2)"><path d="M1457.8,239.5 Q1461.3,261.7 1461.9,283.9" stroke="#1040ff" stroke-width="2.6" opacity="0.24"/><path d="M1516.8,307.8 Q1519.4,319.9 1518.8,332.0" stroke="#1040ff" stroke-width="4.2" opacity="0.26"/><path d="M1512.6,217.8 Q1509.5,235.4 1512.3,253.1" stroke="#1040ff" stroke-width="2.9" opacity="0.11"/><path d="M1377.1,269.1 Q1376.9,285.0 1378.7,300.9" stroke="#1040ff" stroke-width="4.4" opacity="0.14"/><path d="M1477.7,253.9 Q1479.6,268.2 1479.1,282.5" stroke="#1040ff" stroke-width="4.5" opacity="0.17"/><path d="M1511.5,344.2 Q1509.7,349.6 1509.0,355.0" stroke="#1040ff" stroke-width="3.8" opacity="0.21"/><path d="M1276.1,171.5 Q1278.4,183.1 1280.2,194.7" stroke="#1040ff" stroke-width="2.6" opacity="0.12"/><path d="M1427.4,341.4 Q1426.4,356.3 1430.5,371.2" stroke="#1040ff" stroke-width="3.6" opacity="0.28"/><path d="M1457.1,295.6 Q1455.0,301.4 1456.8,307.2" stroke="#1040ff" stroke-width="2.4" opacity="0.27"/><path d="M1423.4,263.0 Q1424.1,269.0 1423.6,275.1" stroke="#1040ff" stroke-width="3.1" opacity="0.27"/><path d="M1380.4,191.4 Q1380.2,207.8 1382.5,224.3" stroke="#1040ff" stroke-width="2.7" opacity="0.20"/><path d="M1264.0,182.4 Q1265.9,188.2 1262.9,193.9" stroke="#1040ff" stroke-width="3.9" opacity="0.13"/><path d="M1507.0,139.5 Q1508.6,161.8 1511.1,184.1" stroke="#1040ff" stroke-width="2.2" opacity="0.27"/><path d="M1417.4,342.7 Q1418.4,352.0 1419.7,361.2" stroke="#1040ff" stroke-width="4.3" opacity="0.19"/><path d="M1583.3,308.3 Q1581.3,323.8 1582.8,339.4" stroke="#1040ff" stroke-width="3.6" opacity="0.12"/><path d="M1276.6,244.7 Q1275.0,251.9 1276.2,259.1" stroke="#1040ff" stroke-width="3.7" opacity="0.18"/><path d="M1452.1,220.8 Q1455.7,239.4 1456.6,258.1" stroke="#1040ff" stroke-width="4.5" opacity="0.20"/><path d="M1338.3,153.5 Q1336.2,174.2 1336.9,194.8" stroke="#1040ff" stroke-width="3.6" opacity="0.24"/><path d="M1486.1,252.8 Q1483.0,268.2 1483.0,283.5" stroke="#1040ff" stroke-width="3.9" opacity="0.21"/><path d="M1583.6,330.0 Q1582.0,350.4 1581.3,370.8" stroke="#1040ff" stroke-width="2.2" opacity="0.11"/><path d="M1465.7,151.0 Q1466.9,165.5 1467.4,180.0" stroke="#1040ff" stroke-width="2.2" opacity="0.11"/><path d="M1468.2,210.6 Q1471.5,224.0 1470.7,237.4" stroke="#1040ff" stroke-width="2.9" opacity="0.14"/><path d="M1284.0,154.8 Q1282.1,174.0 1281.1,193.2" stroke="#1040ff" stroke-width="3.9" opacity="0.21"/><path d="M1344.8,306.8 Q1344.2,318.2 1343.1,329.7" stroke="#1040ff" stroke-width="4.5" opacity="0.22"/><path d="M1506.3,331.2 Q1505.6,343.7 1510.0,356.1" stroke="#1040ff" stroke-width="2.2" opacity="0.17"/><ellipse cx="1286.9" cy="219.3" rx="3.3" ry="5.4" fill="#1040ff" stroke="none" opacity="0.20"/><ellipse cx="1358.3" cy="282.0" rx="2.0" ry="3.4" fill="#1040ff" stroke="none" opacity="0.13"/><ellipse cx="1478.5" cy="76.2" rx="2.7" ry="4.5" fill="#1040ff" stroke="none" opacity="0.21"/><ellipse cx="1489.0" cy="135.9" rx="2.2" ry="3.7" fill="#1040ff" stroke="none" opacity="0.15"/><ellipse cx="1499.6" cy="160.7" rx="2.2" ry="3.6" fill="#1040ff" stroke="none" opacity="0.21"/><ellipse cx="1447.8" cy="324.4" rx="4.6" ry="7.7" fill="#1040ff" stroke="none" opacity="0.24"/><ellipse cx="1404.3" cy="290.2" rx="2.7" ry="4.5" fill="#1040ff" stroke="none" opacity="0.15"/><ellipse cx="1391.6" cy="329.2" rx="4.5" ry="7.5" fill="#1040ff" stroke="none" opacity="0.14"/><ellipse cx="1379.1" cy="160.4" rx="2.9" ry="4.8" fill="#1040ff" stroke="none" opacity="0.16"/><ellipse cx="1387.7" cy="109.8" rx="3.5" ry="5.8" fill="#1040ff" stroke="none" opacity="0.22"/><ellipse cx="1438.3" cy="300.1" rx="3.5" ry="5.8" fill="#1040ff" stroke="none" opacity="0.13"/><ellipse cx="1510.5" cy="313.3" rx="2.6" ry="4.4" fill="#1040ff" stroke="none" opacity="0.10"/><ellipse cx="1430.0" cy="213.4" rx="3.5" ry="5.8" fill="#1040ff" stroke="none" opacity="0.24"/><ellipse cx="1474.9" cy="290.6" rx="2.0" ry="3.3" fill="#1040ff" stroke="none" opacity="0.18"/><ellipse cx="1520.2" cy="76.9" rx="2.0" ry="3.4" fill="#1040ff" stroke="none" opacity="0.21"/><ellipse cx="1556.9" cy="77.1" rx="3.7" ry="6.2" fill="#1040ff" stroke="none" opacity="0.12"/><ellipse cx="1506.2" cy="244.5" rx="2.5" ry="4.2" fill="#1040ff" stroke="none" opacity="0.13"/><ellipse cx="1512.7" cy="206.7" rx="4.1" ry="6.8" fill="#1040ff" stroke="none" opacity="0.16"/><ellipse cx="1371.2" cy="339.2" rx="3.8" ry="6.4" fill="#1040ff" stroke="none" opacity="0.17"/><ellipse cx="1437.2" cy="265.8" rx="3.9" ry="6.5" fill="#1040ff" stroke="none" opacity="0.24"/><ellipse cx="1395.3" cy="297.1" rx="3.8" ry="6.3" fill="#1040ff" stroke="none" opacity="0.23"/><ellipse cx="1526.1" cy="299.3" rx="4.5" ry="7.4" fill="#1040ff" stroke="none" opacity="0.24"/><ellipse cx="1471.3" cy="207.4" rx="3.9" ry="6.6" fill="#1040ff" stroke="none" opacity="0.22"/><ellipse cx="1398.9" cy="176.7" rx="2.2" ry="3.7" fill="#1040ff" stroke="none" opacity="0.21"/><ellipse cx="1587.3" cy="163.4" rx="2.3" ry="3.8" fill="#1040ff" stroke="none" opacity="0.13"/></g>
<path d="M1437.2,66.2 C1438.1,66.5 1440.5,67.3 1442.7,67.8 C1445.0,68.3 1448.8,68.8 1450.7,69.4 C1452.6,69.9 1452.3,70.4 1453.9,71.0 C1455.6,71.5 1458.6,72.0 1460.6,72.5 C1462.6,73.1 1463.8,73.6 1466.0,74.1 C1468.1,74.7 1471.2,75.2 1473.5,75.7 C1475.8,76.2 1478.0,76.4 1479.8,77.3 C1481.6,78.2 1482.5,79.7 1484.2,80.8 C1485.9,82.0 1487.9,83.2 1490.1,84.4 C1492.3,85.6 1495.1,86.7 1497.5,87.9 C1499.8,89.1 1502.0,90.3 1504.1,91.5 C1506.1,92.6 1509.0,94.4 1510.0,95.0" stroke="#1a48ff" stroke-width="4.5" opacity="0.28" filter="url(#g2)"/>
<path d="M1431.2,70.0 C1431.6,70.7 1432.3,72.8 1433.6,74.2 C1434.9,75.6 1437.1,76.9 1438.8,78.3 C1440.6,79.7 1442.3,81.1 1444.1,82.5 C1445.8,83.9 1447.5,85.3 1449.2,86.7 C1450.8,88.1 1452.3,89.4 1454.2,90.8 C1456.1,92.2 1459.1,93.3 1460.7,95.0 C1462.2,96.7 1462.8,98.9 1463.6,100.8 C1464.5,102.8 1464.9,104.7 1465.8,106.7 C1466.7,108.6 1467.9,110.6 1469.1,112.5 C1470.2,114.4 1471.6,116.4 1472.7,118.3 C1473.8,120.3 1474.5,122.2 1475.7,124.2 C1476.9,126.1 1479.3,129.0 1480.0,130.0" stroke="#1a48ff" stroke-width="4.5" opacity="0.28" filter="url(#g2)"/>
<path d="M1405.8,62.0 C1404.5,62.3 1400.4,63.3 1398.2,64.0 C1396.0,64.7 1394.5,65.3 1392.6,66.0 C1390.8,66.7 1389.3,67.3 1387.2,68.0 C1385.1,68.7 1382.1,69.0 1379.9,70.0 C1377.8,71.0 1375.7,72.5 1374.3,73.8 C1372.8,75.0 1372.5,76.2 1371.2,77.5 C1369.8,78.8 1368.1,80.0 1366.2,81.2 C1364.4,82.5 1361.0,84.4 1360.0,85.0" stroke="#1a48ff" stroke-width="4.5" opacity="0.28" filter="url(#g2)"/>
<path d="M1409.5,100.0 C1409.3,101.0 1408.6,104.2 1408.3,106.2 C1407.9,108.3 1408.3,110.4 1407.6,112.5 C1407.0,114.6 1405.3,116.7 1404.3,118.8 C1403.3,120.8 1402.5,122.9 1401.7,125.0 C1400.8,127.1 1399.5,129.2 1399.3,131.2 C1399.0,133.3 1400.3,135.4 1400.1,137.5 C1399.8,139.6 1398.7,141.7 1397.8,143.8 C1396.9,145.8 1395.3,147.9 1394.7,150.0 C1394.0,152.1 1394.2,154.2 1393.8,156.2 C1393.5,158.3 1393.1,160.4 1392.5,162.5 C1392.0,164.6 1390.8,166.7 1390.6,168.8 C1390.4,170.8 1391.7,172.9 1391.5,175.0 C1391.2,177.1 1390.0,179.2 1389.2,181.2 C1388.4,183.3 1387.5,185.4 1386.7,187.5 C1386.0,189.6 1385.1,191.7 1384.8,193.8 C1384.5,195.8 1385.0,199.0 1385.0,200.0" stroke="#1a48ff" stroke-width="4.5" opacity="0.28" filter="url(#g2)"/>
<path d="M1431.9,200.0 C1431.9,201.0 1431.7,204.0 1432.0,206.0 C1432.3,208.0 1433.4,210.0 1433.7,212.0 C1434.0,214.0 1433.8,216.0 1433.8,218.0 C1433.9,220.0 1434.1,222.0 1433.9,224.0 C1433.8,226.0 1433.1,228.0 1433.0,230.0 C1432.9,232.0 1433.2,234.0 1433.4,236.0 C1433.6,238.0 1434.1,240.0 1434.3,242.0 C1434.5,244.0 1434.1,246.0 1434.5,248.0 C1434.9,250.0 1436.4,252.0 1436.7,254.0 C1437.0,256.0 1436.0,257.9 1436.0,260.0 C1436.1,262.1 1436.4,264.2 1436.8,266.4 C1437.1,268.5 1438.3,270.6 1438.2,272.7 C1438.1,274.8 1436.5,277.0 1436.4,279.1 C1436.3,281.2 1437.5,283.3 1437.6,285.5 C1437.6,287.6 1436.5,289.7 1436.8,291.8 C1437.0,293.9 1438.9,296.1 1439.0,298.2 C1439.0,300.3 1436.9,302.4 1437.0,304.5 C1437.2,306.7 1439.3,308.8 1439.9,310.9 C1440.4,313.0 1440.2,315.2 1440.3,317.3 C1440.4,319.4 1440.7,321.5 1440.6,323.6 C1440.6,325.8 1440.1,328.9 1440.0,330.0" stroke="#1a48ff" stroke-width="4.5" opacity="0.28" filter="url(#g2)"/>
<path d="M1398.7,220.0 C1398.7,221.1 1398.5,224.2 1398.6,226.4 C1398.7,228.5 1399.5,230.6 1399.2,232.7 C1398.9,234.8 1397.0,237.0 1396.6,239.1 C1396.2,241.2 1397.1,243.3 1397.0,245.5 C1397.0,247.6 1396.3,249.7 1396.3,251.8 C1396.3,253.9 1397.2,256.1 1397.0,258.2 C1396.8,260.3 1395.5,262.4 1395.2,264.5 C1394.9,266.7 1395.6,268.8 1395.3,270.9 C1394.9,273.0 1393.1,275.2 1392.9,277.3 C1392.6,279.4 1393.8,281.5 1393.6,283.6 C1393.4,285.8 1391.9,287.9 1391.8,290.0 C1391.6,292.1 1393.1,294.1 1392.8,296.1 C1392.5,298.1 1390.1,300.2 1389.9,302.2 C1389.7,304.3 1391.7,306.3 1391.6,308.3 C1391.6,310.4 1389.6,312.4 1389.3,314.4 C1389.1,316.5 1389.9,318.5 1389.9,320.6 C1389.9,322.6 1389.8,324.6 1389.4,326.7 C1389.1,328.7 1387.9,330.7 1387.9,332.8 C1387.9,334.8 1389.4,336.9 1389.4,338.9 C1389.5,340.9 1388.2,344.0 1388.0,345.0" stroke="#1a48ff" stroke-width="4.5" opacity="0.28" filter="url(#g2)"/>
<path d="M1469.4,150.0 C1469.6,151.1 1470.2,154.2 1470.3,156.4 C1470.5,158.5 1470.2,160.6 1470.5,162.7 C1470.8,164.8 1471.6,167.0 1472.1,169.1 C1472.6,171.2 1473.0,173.3 1473.5,175.5 C1474.0,177.6 1474.9,179.7 1475.2,181.8 C1475.4,183.9 1474.7,186.1 1475.0,188.2 C1475.3,190.3 1476.7,192.4 1476.9,194.5 C1477.1,196.7 1475.9,198.8 1476.1,200.9 C1476.2,203.0 1477.4,205.2 1477.9,207.3 C1478.3,209.4 1478.4,211.5 1479.0,213.6 C1479.6,215.8 1481.0,217.9 1481.4,220.0 C1481.8,222.1 1481.5,224.1 1481.5,226.2 C1481.4,228.2 1481.6,230.3 1481.4,232.3 C1481.1,234.4 1479.9,236.4 1479.9,238.5 C1479.9,240.5 1481.0,242.6 1481.5,244.6 C1482.0,246.7 1482.9,248.7 1482.9,250.8 C1483.0,252.8 1481.9,254.9 1482.0,256.9 C1482.1,259.0 1483.2,261.0 1483.4,263.1 C1483.7,265.1 1483.7,267.2 1483.6,269.2 C1483.4,271.3 1482.3,273.3 1482.7,275.4 C1483.1,277.4 1485.5,279.5 1486.1,281.5 C1486.6,283.6 1486.2,285.6 1486.0,287.7 C1485.7,289.7 1484.7,291.8 1484.7,293.8 C1484.7,295.9 1485.8,299.0 1486.0,300.0" stroke="#1a48ff" stroke-width="4.5" opacity="0.28" filter="url(#g2)"/>
<path d="M1340.3,230.0 C1340.1,231.1 1339.2,234.2 1338.9,236.4 C1338.6,238.5 1338.7,240.6 1338.7,242.7 C1338.7,244.8 1338.9,247.0 1338.8,249.1 C1338.6,251.2 1337.8,253.3 1337.6,255.5 C1337.3,257.6 1337.3,259.7 1337.2,261.8 C1337.1,263.9 1336.9,266.1 1336.9,268.2 C1337.0,270.3 1337.5,272.4 1337.3,274.5 C1337.1,276.7 1336.0,278.8 1335.6,280.9 C1335.2,283.0 1334.9,285.2 1335.0,287.3 C1335.1,289.4 1336.2,291.5 1336.1,293.6 C1336.1,295.8 1335.2,298.9 1335.0,300.0" stroke="#1a48ff" stroke-width="4.5" opacity="0.28" filter="url(#g2)"/>
<path d="M1519.5,240.0 C1519.9,241.0 1521.6,244.1 1522.0,246.2 C1522.3,248.2 1521.3,250.3 1521.4,252.3 C1521.5,254.4 1522.4,256.4 1522.5,258.5 C1522.6,260.5 1521.7,262.6 1522.0,264.6 C1522.2,266.7 1524.0,268.7 1524.1,270.8 C1524.1,272.8 1522.6,274.9 1522.5,276.9 C1522.3,279.0 1523.0,281.0 1523.2,283.1 C1523.4,285.1 1523.2,287.2 1523.7,289.2 C1524.2,291.3 1525.6,293.3 1526.1,295.4 C1526.6,297.4 1526.8,299.5 1526.8,301.5 C1526.7,303.6 1525.8,305.6 1525.8,307.7 C1525.9,309.7 1526.7,311.8 1527.1,313.8 C1527.5,315.9 1527.8,319.0 1528.0,320.0" stroke="#1a48ff" stroke-width="4.5" opacity="0.28" filter="url(#g2)"/>
<g filter="url(#g07)"><path d="M1421.4,72.1 L1421.8,78.1 L1421.5,84.1 L1421.8,90.1 L1422.6,96.0 L1424.4,101.7" stroke="#0a50ff" stroke-width="2.2" opacity="0.59"/><path d="M1431.0,185.2 L1428.3,190.6 L1425.6,195.9 L1423.0,201.3 L1420.9,206.9 L1419.6,212.8 L1419.4,218.8 L1419.2,224.8 L1419.4,230.8 L1419.9,236.8 L1419.5,242.8 L1419.1,248.7 L1418.6,254.7" stroke="#0a50ff" stroke-width="1.2" opacity="0.43"/><path d="M1418.9,115.0 L1418.8,121.0 L1418.5,127.0 L1417.3,132.9 L1416.1,138.8 L1415.1,144.7 L1414.1,150.6" stroke="#0a50ff" stroke-width="1.6" opacity="0.67"/><path d="M1409.3,66.7 L1405.7,71.6 L1402.4,76.5 L1398.6,81.2 L1394.5,85.6 L1390.9,90.4 L1387.6,95.4 L1384.4,100.5" stroke="#0a50ff" stroke-width="2.0" opacity="0.53"/><path d="M1413.0,77.9 L1412.4,83.9 L1411.4,89.8 L1410.4,95.7 L1410.0,101.7 L1409.9,107.7 L1409.4,113.7 L1409.7,119.7 L1409.0,125.6" stroke="#0a50ff" stroke-width="2.1" opacity="0.44"/><path d="M1408.9,65.5 L1406.5,71.0 L1404.0,76.5 L1401.3,81.8 L1398.8,87.3 L1395.9,92.5 L1393.0,97.8 L1390.3,103.2 L1387.3,108.4 L1383.7,113.1 L1379.6,117.5 L1375.7,122.1" stroke="#0a50ff" stroke-width="2.0" opacity="0.35"/><path d="M1413.9,101.4 L1413.2,107.4 L1411.8,113.2 L1411.2,119.2 L1410.5,125.1 L1409.2,131.0 L1408.3,136.9" stroke="#0a50ff" stroke-width="2.1" opacity="0.42"/><path d="M1416.2,127.1 L1414.5,132.8 L1413.2,138.7 L1413.0,144.7 L1413.5,150.7" stroke="#0a50ff" stroke-width="1.2" opacity="0.37"/><path d="M1414.7,111.0 L1417.1,116.5 L1419.5,122.0 L1422.8,127.1 L1425.9,132.2 L1428.5,137.6 L1431.5,142.8 L1433.7,148.4 L1436.8,153.5 L1439.0,159.1 L1441.0,164.7 L1442.6,170.5 L1444.5,176.2" stroke="#0a50ff" stroke-width="1.5" opacity="0.52"/></g>
<path d="M1424.5,137.0 C1424.1,138.1 1422.9,141.3 1422.1,143.5 C1421.4,145.7 1420.4,148.9 1420.0,150.0" stroke="#0040ff" stroke-width="5.0" opacity="0.5" filter="url(#g2)"/>
<path d="M1424.5,137.0 C1424.1,138.1 1422.9,141.3 1422.1,143.5 C1421.4,145.7 1420.4,148.9 1420.0,150.0" stroke="#0060ff" stroke-width="2.2" opacity="0.8" filter="url(#g07)"/>
<path d="M1406.2,59.2 C1406.5,60.1 1407.6,62.7 1408.1,64.4 C1408.7,66.1 1409.2,67.9 1409.8,69.6 C1410.3,71.3 1410.8,73.1 1411.4,74.8 C1412.1,76.5 1413.3,79.1 1413.7,80.0" stroke="#0030ff" stroke-width="7.0" opacity="0.45" filter="url(#g3)"/>
<path d="M1406.2,59.2 C1406.5,60.1 1407.6,62.7 1408.1,64.4 C1408.7,66.1 1409.2,67.9 1409.8,69.6 C1410.3,71.3 1410.8,73.1 1411.4,74.8 C1412.1,76.5 1413.3,79.1 1413.7,80.0" stroke="#0068ff" stroke-width="4.2" opacity="0.9" filter="url(#g15)"/>
<path d="M1406.2,59.2 C1406.5,60.1 1407.6,62.7 1408.1,64.4 C1408.7,66.1 1409.2,67.9 1409.8,69.6 C1410.3,71.3 1410.8,73.1 1411.4,74.8 C1412.1,76.5 1413.3,79.1 1413.7,80.0" stroke="#18a8ff" stroke-width="2.7" filter="url(#g07)"/>
<path d="M1406.2,59.2 C1406.5,60.1 1407.6,62.7 1408.1,64.4 C1408.7,66.1 1409.2,67.9 1409.8,69.6 C1410.3,71.3 1410.8,73.1 1411.4,74.8 C1412.1,76.5 1413.3,79.1 1413.7,80.0" stroke="#48d8ff" stroke-width="1.0" opacity="0.85" filter="url(#g05)"/>
<path d="M1413.6,99.6 C1413.6,100.4 1413.3,103.0 1413.6,104.7 C1413.8,106.4 1415.0,108.1 1415.2,109.8 C1415.5,111.5 1414.9,113.2 1415.0,114.9 C1415.1,116.6 1415.4,118.3 1415.6,120.0 C1415.8,121.7 1416.1,123.4 1416.2,125.1 C1416.4,126.8 1416.5,129.3 1416.5,130.2" stroke="#0030ff" stroke-width="7.0" opacity="0.45" filter="url(#g3)"/>
<path d="M1413.6,99.6 C1413.6,100.4 1413.3,103.0 1413.6,104.7 C1413.8,106.4 1415.0,108.1 1415.2,109.8 C1415.5,111.5 1414.9,113.2 1415.0,114.9 C1415.1,116.6 1415.4,118.3 1415.6,120.0 C1415.8,121.7 1416.1,123.4 1416.2,125.1 C1416.4,126.8 1416.5,129.3 1416.5,130.2" stroke="#0068ff" stroke-width="4.2" opacity="0.9" filter="url(#g15)"/>
<path d="M1413.6,99.6 C1413.6,100.4 1413.3,103.0 1413.6,104.7 C1413.8,106.4 1415.0,108.1 1415.2,109.8 C1415.5,111.5 1414.9,113.2 1415.0,114.9 C1415.1,116.6 1415.4,118.3 1415.6,120.0 C1415.8,121.7 1416.1,123.4 1416.2,125.1 C1416.4,126.8 1416.5,129.3 1416.5,130.2" stroke="#18a8ff" stroke-width="2.7" filter="url(#g07)"/>
<path d="M1413.6,99.6 C1413.6,100.4 1413.3,103.0 1413.6,104.7 C1413.8,106.4 1415.0,108.1 1415.2,109.8 C1415.5,111.5 1414.9,113.2 1415.0,114.9 C1415.1,116.6 1415.4,118.3 1415.6,120.0 C1415.8,121.7 1416.1,123.4 1416.2,125.1 C1416.4,126.8 1416.5,129.3 1416.5,130.2" stroke="#48d8ff" stroke-width="1.0" opacity="0.85" filter="url(#g05)"/>
<path d="M1422.4,70.3 C1422.1,71.1 1421.4,73.5 1420.7,75.2 C1420.1,76.8 1419.1,78.4 1418.4,80.0 C1417.7,81.7 1417.2,83.3 1416.6,84.9 C1416.0,86.5 1415.2,88.1 1415.0,89.8 C1414.7,91.5 1414.9,93.3 1415.1,95.0 C1415.4,96.8 1416.0,98.5 1416.4,100.2 C1416.8,102.0 1417.1,103.7 1417.5,105.5 C1417.8,107.2 1418.3,109.0 1418.6,110.7 C1418.9,112.4 1419.1,114.0 1419.4,115.7 C1419.7,117.4 1420.0,119.0 1420.4,120.7 C1420.7,122.4 1421.2,124.0 1421.4,125.7 C1421.6,127.4 1421.4,129.0 1421.7,130.7 C1422.0,132.4 1422.8,134.1 1423.3,135.7 C1423.8,137.3 1424.1,138.9 1424.7,140.6 C1425.2,142.2 1426.1,143.8 1426.5,145.4 C1426.9,147.1 1426.7,148.7 1427.1,150.3 C1427.5,151.9 1428.4,153.5 1428.8,155.2 C1429.2,156.9 1429.2,158.9 1429.4,160.8 C1429.6,162.6 1429.9,164.5 1430.1,166.3 C1430.3,168.2 1430.4,170.1 1430.5,171.9 C1430.6,173.8 1430.6,175.5 1430.6,177.5 C1430.5,179.5 1430.2,181.8 1430.4,184.0 C1430.6,186.2 1431.5,188.3 1431.7,190.5 C1431.9,192.7 1431.8,195.9 1431.8,197.0" stroke="#0040ff" stroke-width="10.0" opacity="0.55" filter="url(#g3)"/>
<path d="M1422.4,70.3 C1422.1,71.1 1421.4,73.5 1420.7,75.2 C1420.1,76.8 1419.1,78.4 1418.4,80.0 C1417.7,81.7 1417.2,83.3 1416.6,84.9 C1416.0,86.5 1415.2,88.1 1415.0,89.8 C1414.7,91.5 1414.9,93.3 1415.1,95.0 C1415.4,96.8 1416.0,98.5 1416.4,100.2 C1416.8,102.0 1417.1,103.7 1417.5,105.5 C1417.8,107.2 1418.3,109.0 1418.6,110.7 C1418.9,112.4 1419.1,114.0 1419.4,115.7 C1419.7,117.4 1420.0,119.0 1420.4,120.7 C1420.7,122.4 1421.2,124.0 1421.4,125.7 C1421.6,127.4 1421.4,129.0 1421.7,130.7 C1422.0,132.4 1422.8,134.1 1423.3,135.7 C1423.8,137.3 1424.1,138.9 1424.7,140.6 C1425.2,142.2 1426.1,143.8 1426.5,145.4 C1426.9,147.1 1426.7,148.7 1427.1,150.3 C1427.5,151.9 1428.4,153.5 1428.8,155.2 C1429.2,156.9 1429.2,158.9 1429.4,160.8 C1429.6,162.6 1429.9,164.5 1430.1,166.3 C1430.3,168.2 1430.4,170.1 1430.5,171.9 C1430.6,173.8 1430.6,175.5 1430.6,177.5 C1430.5,179.5 1430.2,181.8 1430.4,184.0 C1430.6,186.2 1431.5,188.3 1431.7,190.5 C1431.9,192.7 1431.8,195.9 1431.8,197.0" stroke="#0088ff" stroke-width="5.4" opacity="0.9" filter="url(#g15)"/>
<path d="M1422.4,70.3 C1422.1,71.1 1421.4,73.5 1420.7,75.2 C1420.1,76.8 1419.1,78.4 1418.4,80.0 C1417.7,81.7 1417.2,83.3 1416.6,84.9 C1416.0,86.5 1415.2,88.1 1415.0,89.8 C1414.7,91.5 1414.9,93.3 1415.1,95.0 C1415.4,96.8 1416.0,98.5 1416.4,100.2 C1416.8,102.0 1417.1,103.7 1417.5,105.5 C1417.8,107.2 1418.3,109.0 1418.6,110.7 C1418.9,112.4 1419.1,114.0 1419.4,115.7 C1419.7,117.4 1420.0,119.0 1420.4,120.7 C1420.7,122.4 1421.2,124.0 1421.4,125.7 C1421.6,127.4 1421.4,129.0 1421.7,130.7 C1422.0,132.4 1422.8,134.1 1423.3,135.7 C1423.8,137.3 1424.1,138.9 1424.7,140.6 C1425.2,142.2 1426.1,143.8 1426.5,145.4 C1426.9,147.1 1426.7,148.7 1427.1,150.3 C1427.5,151.9 1428.4,153.5 1428.8,155.2 C1429.2,156.9 1429.2,158.9 1429.4,160.8 C1429.6,162.6 1429.9,164.5 1430.1,166.3 C1430.3,168.2 1430.4,170.1 1430.5,171.9 C1430.6,173.8 1430.6,175.5 1430.6,177.5 C1430.5,179.5 1430.2,181.8 1430.4,184.0 C1430.6,186.2 1431.5,188.3 1431.7,190.5 C1431.9,192.7 1431.8,195.9 1431.8,197.0" stroke="#20ccff" stroke-width="3.4" filter="url(#g07)"/>
<path d="M1422.4,70.3 C1422.1,71.1 1421.4,73.5 1420.7,75.2 C1420.1,76.8 1419.1,78.4 1418.4,80.0 C1417.7,81.7 1417.2,83.3 1416.6,84.9 C1416.0,86.5 1415.2,88.1 1415.0,89.8 C1414.7,91.5 1414.9,93.3 1415.1,95.0 C1415.4,96.8 1416.0,98.5 1416.4,100.2 C1416.8,102.0 1417.1,103.7 1417.5,105.5 C1417.8,107.2 1418.3,109.0 1418.6,110.7 C1418.9,112.4 1419.1,114.0 1419.4,115.7 C1419.7,117.4 1420.0,119.0 1420.4,120.7 C1420.7,122.4 1421.2,124.0 1421.4,125.7 C1421.6,127.4 1421.4,129.0 1421.7,130.7 C1422.0,132.4 1422.8,134.1 1423.3,135.7 C1423.8,137.3 1424.1,138.9 1424.7,140.6 C1425.2,142.2 1426.1,143.8 1426.5,145.4 C1426.9,147.1 1426.7,148.7 1427.1,150.3 C1427.5,151.9 1428.4,153.5 1428.8,155.2 C1429.2,156.9 1429.2,158.9 1429.4,160.8 C1429.6,162.6 1429.9,164.5 1430.1,166.3 C1430.3,168.2 1430.4,170.1 1430.5,171.9 C1430.6,173.8 1430.6,175.5 1430.6,177.5 C1430.5,179.5 1430.2,181.8 1430.4,184.0 C1430.6,186.2 1431.5,188.3 1431.7,190.5 C1431.9,192.7 1431.8,195.9 1431.8,197.0" stroke="#58f6ff" stroke-width="1.9" filter="url(#g05)"/>
<path d="M1415.5,90.0 C1415.7,91.7 1416.0,96.3 1416.5,100.0 C1417.0,103.7 1417.8,107.8 1418.5,112.0 C1419.2,116.2 1420.1,120.8 1421.0,125.0 C1421.9,129.2 1422.9,132.8 1424.0,137.0 C1425.1,141.2 1426.7,145.8 1427.5,150.0 C1428.3,154.2 1428.8,160.0 1429.0,162.0" stroke="#a0ff60" stroke-width="2.6" opacity="1.0" filter="url(#g07)"/>
<path d="M1415.8,92.0 C1415.9,93.3 1416.1,96.7 1416.6,100.0 C1417.0,103.3 1417.8,107.8 1418.5,112.0 C1419.2,116.2 1420.1,120.8 1421.0,125.0 C1421.9,129.2 1423.0,133.2 1424.0,137.0 C1425.0,140.8 1426.5,146.2 1427.0,148.0" stroke="#ffe020" stroke-width="1.6" opacity="1.0" filter="url(#g07)"/>
<path d="M1423.0,132.0 C1423.4,134.3 1425.1,143.7 1425.5,146.0" stroke="#ff7000" stroke-width="1.8" opacity="1.0" filter="url(#g07)"/>
<path d="M1416.0,92.0 C1416.2,93.3 1416.8,98.7 1417.0,100.0" stroke="#ff9000" stroke-width="1.4" opacity="1.0" filter="url(#g07)"/>
<circle cx="1424.5" cy="141" r="2.9" fill="#0070ff" stroke="none" opacity="0.7" filter="url(#g15)"/>
<circle cx="1424.5" cy="141" r="1.4" fill="#ff2000" stroke="none" filter="url(#g07)"/>
<circle cx="1415.5" cy="89" r="2.2" fill="#0070ff" stroke="none" opacity="0.7" filter="url(#g15)"/>
<circle cx="1415.5" cy="89" r="1.1" fill="#ff8000" stroke="none" filter="url(#g07)"/>
</g>
<g clip-path="url(#cp2)" fill="none" stroke-linecap="round" stroke-linejoin="round">
<rect x="914.2" y="373.8" width="340.2" height="322.9" filter="url(#nz)" mask="url(#vm)" opacity="0.55"/>
<g filter="url(#g2)"><path d="M1217.4,591.9 Q1221.4,603.0 1219.5,614.2" stroke="#1040ff" stroke-width="2.4" opacity="0.19"/><path d="M1089.6,628.8 Q1088.4,648.4 1090.9,668.0" stroke="#1040ff" stroke-width="4.4" opacity="0.14"/><path d="M946.7,524.7 Q948.0,539.8 951.0,554.9" stroke="#1040ff" stroke-width="2.8" opacity="0.23"/><path d="M1072.1,498.1 Q1072.7,520.1 1072.5,542.2" stroke="#1040ff" stroke-width="4.3" opacity="0.12"/><path d="M1104.2,529.1 Q1102.5,550.0 1105.2,570.9" stroke="#1040ff" stroke-width="4.0" opacity="0.28"/><path d="M1191.5,534.5 Q1191.3,555.2 1194.8,575.8" stroke="#1040ff" stroke-width="3.4" opacity="0.14"/><path d="M1100.1,487.5 Q1103.2,493.1 1104.5,498.6" stroke="#1040ff" stroke-width="4.5" opacity="0.13"/><path d="M1020.8,619.0 Q1019.4,636.9 1023.8,654.9" stroke="#1040ff" stroke-width="3.5" opacity="0.17"/><path d="M985.1,574.1 Q983.6,581.6 981.8,589.1" stroke="#1040ff" stroke-width="3.4" opacity="0.17"/><path d="M1006.3,596.2 Q1005.0,607.0 1008.0,617.8" stroke="#1040ff" stroke-width="2.1" opacity="0.22"/><path d="M1236.0,603.3 Q1238.5,616.5 1237.9,629.8" stroke="#1040ff" stroke-width="3.6" opacity="0.17"/><path d="M1167.4,578.0 Q1166.6,600.4 1166.5,622.9" stroke="#1040ff" stroke-width="4.1" opacity="0.25"/><path d="M1106.1,670.8 Q1107.0,685.0 1110.1,699.2" stroke="#1040ff" stroke-width="3.1" opacity="0.19"/><path d="M937.3,631.0 Q937.3,651.8 939.8,672.6" stroke="#1040ff" stroke-width="3.5" opacity="0.23"/><path d="M1115.2,486.1 Q1111.9,493.3 1114.1,500.5" stroke="#1040ff" stroke-width="3.3" opacity="0.18"/><path d="M1148.7,587.0 Q1144.7,596.2 1146.0,605.4" stroke="#1040ff" stroke-width="3.0" opacity="0.16"/><path d="M1220.1,684.3 Q1220.0,700.9 1223.2,717.6" stroke="#1040ff" stroke-width="3.1" opacity="0.26"/><path d="M1165.7,596.0 Q1164.1,616.8 1162.0,637.6" stroke="#1040ff" stroke-width="4.0" opacity="0.12"/><path d="M1233.2,470.8 Q1233.4,480.1 1228.8,489.3" stroke="#1040ff" stroke-width="2.8" opacity="0.15"/><path d="M1188.5,558.5 Q1188.5,569.7 1183.8,581.0" stroke="#1040ff" stroke-width="2.1" opacity="0.21"/><path d="M1020.9,580.8 Q1018.2,602.2 1017.9,623.5" stroke="#1040ff" stroke-width="3.2" opacity="0.28"/><path d="M1223.9,668.9 Q1221.8,677.3 1223.6,685.7" stroke="#1040ff" stroke-width="2.9" opacity="0.25"/><path d="M1209.7,690.7 Q1208.9,699.2 1213.5,707.8" stroke="#1040ff" stroke-width="2.5" opacity="0.21"/><path d="M954.2,631.1 Q953.1,641.6 956.4,652.0" stroke="#1040ff" stroke-width="4.2" opacity="0.26"/><path d="M1149.0,678.0 Q1149.3,690.7 1147.1,703.5" stroke="#1040ff" stroke-width="2.6" opacity="0.11"/><ellipse cx="984.1" cy="447.7" rx="2.5" ry="4.2" fill="#1040ff" stroke="none" opacity="0.20"/><ellipse cx="1180.2" cy="504.8" rx="3.8" ry="6.3" fill="#1040ff" stroke="none" opacity="0.23"/><ellipse cx="1114.0" cy="462.0" rx="2.7" ry="4.5" fill="#1040ff" stroke="none" opacity="0.24"/><ellipse cx="1139.5" cy="476.3" rx="3.7" ry="6.2" fill="#1040ff" stroke="none" opacity="0.11"/><ellipse cx="1243.8" cy="525.0" rx="3.4" ry="5.6" fill="#1040ff" stroke="none" opacity="0.18"/><ellipse cx="934.2" cy="572.5" rx="2.7" ry="4.4" fill="#1040ff" stroke="none" opacity="0.14"/><ellipse cx="1184.4" cy="419.8" rx="2.7" ry="4.4" fill="#1040ff" stroke="none" opacity="0.21"/><ellipse cx="1000.4" cy="476.9" rx="3.4" ry="5.7" fill="#1040ff" stroke="none" opacity="0.13"/><ellipse cx="1215.4" cy="688.0" rx="1.9" ry="3.2" fill="#1040ff" stroke="none" opacity="0.17"/><ellipse cx="1167.0" cy="508.4" rx="4.6" ry="7.6" fill="#1040ff" stroke="none" opacity="0.17"/><ellipse cx="978.6" cy="559.4" rx="3.7" ry="6.2" fill="#1040ff" stroke="none" opacity="0.15"/><ellipse cx="1136.6" cy="627.1" rx="3.4" ry="5.6" fill="#1040ff" stroke="none" opacity="0.18"/><ellipse cx="1198.4" cy="597.6" rx="3.4" ry="5.6" fill="#1040ff" stroke="none" opacity="0.24"/><ellipse cx="976.6" cy="626.1" rx="2.3" ry="3.8" fill="#1040ff" stroke="none" opacity="0.19"/><ellipse cx="996.9" cy="525.0" rx="4.1" ry="6.9" fill="#1040ff" stroke="none" opacity="0.22"/><ellipse cx="1180.4" cy="464.1" rx="3.3" ry="5.4" fill="#1040ff" stroke="none" opacity="0.13"/><ellipse cx="1110.7" cy="542.4" rx="1.9" ry="3.2" fill="#1040ff" stroke="none" opacity="0.19"/><ellipse cx="1155.2" cy="564.4" rx="4.4" ry="7.4" fill="#1040ff" stroke="none" opacity="0.13"/><ellipse cx="969.3" cy="399.1" rx="3.3" ry="5.5" fill="#1040ff" stroke="none" opacity="0.17"/><ellipse cx="1065.0" cy="472.1" rx="4.2" ry="7.0" fill="#1040ff" stroke="none" opacity="0.11"/><ellipse cx="1218.8" cy="563.3" rx="3.4" ry="5.7" fill="#1040ff" stroke="none" opacity="0.22"/><ellipse cx="997.8" cy="437.4" rx="2.7" ry="4.6" fill="#1040ff" stroke="none" opacity="0.11"/><ellipse cx="1023.0" cy="578.9" rx="3.4" ry="5.6" fill="#1040ff" stroke="none" opacity="0.14"/><ellipse cx="1113.6" cy="420.2" rx="4.3" ry="7.1" fill="#1040ff" stroke="none" opacity="0.13"/><ellipse cx="1003.3" cy="441.4" rx="3.9" ry="6.5" fill="#1040ff" stroke="none" opacity="0.22"/></g>
<path d="M1075.9,415.0 C1074.3,415.2 1069.2,415.7 1066.7,416.0 C1064.2,416.3 1062.9,416.7 1060.7,417.0 C1058.6,417.3 1056.0,417.7 1053.6,418.0 C1051.2,418.3 1048.2,418.7 1046.1,419.0 C1044.1,419.3 1043.5,419.3 1041.4,420.0 C1039.3,420.7 1035.5,422.2 1033.6,423.3 C1031.7,424.4 1031.3,425.6 1030.0,426.7 C1028.7,427.8 1027.2,428.9 1025.8,430.0 C1024.4,431.1 1023.4,432.2 1021.5,433.3 C1019.5,434.4 1015.8,435.6 1013.9,436.7 C1012.0,437.8 1010.7,439.4 1010.0,440.0" stroke="#1a48ff" stroke-width="4.5" opacity="0.28" filter="url(#g2)"/>
<path d="M1089.9,415.0 C1091.1,415.1 1095.4,415.6 1097.4,415.8 C1099.4,416.1 1100.0,416.4 1102.0,416.7 C1103.9,416.9 1106.6,417.2 1109.2,417.5 C1111.9,417.8 1115.7,418.1 1117.8,418.3 C1120.0,418.6 1120.3,418.9 1122.3,419.2 C1124.2,419.4 1127.5,419.4 1129.7,420.0 C1131.8,420.6 1133.2,421.9 1135.1,422.9 C1137.0,423.8 1139.4,424.8 1141.2,425.7 C1143.0,426.7 1144.2,427.6 1145.9,428.6 C1147.6,429.5 1149.1,430.5 1151.5,431.4 C1153.8,432.4 1157.8,433.3 1160.1,434.3 C1162.3,435.2 1163.4,436.2 1165.1,437.1 C1166.7,438.1 1169.2,439.5 1170.0,440.0" stroke="#1a48ff" stroke-width="4.5" opacity="0.28" filter="url(#g2)"/>
<path d="M1060.7,500.0 C1060.1,501.0 1058.1,504.0 1057.2,506.0 C1056.3,508.0 1055.8,510.0 1055.3,512.0 C1054.8,514.0 1054.8,516.0 1054.2,518.0 C1053.5,520.0 1051.9,522.0 1051.2,524.0 C1050.5,526.0 1050.2,528.0 1049.9,530.0 C1049.6,532.0 1050.0,534.0 1049.3,536.0 C1048.6,538.0 1046.6,540.0 1045.6,542.0 C1044.6,544.0 1043.9,546.0 1043.5,548.0 C1043.2,550.0 1044.0,552.0 1043.4,554.0 C1042.9,556.0 1041.3,558.0 1040.3,560.0 C1039.4,562.0 1038.1,564.0 1037.6,566.0 C1037.2,568.0 1037.7,570.0 1037.7,572.0 C1037.7,574.0 1038.0,576.0 1037.4,578.0 C1036.9,580.0 1035.2,582.0 1034.7,584.0 C1034.2,586.0 1034.5,588.0 1034.5,590.0 C1034.5,592.0 1034.7,594.0 1034.6,596.0 C1034.5,598.0 1034.5,600.0 1034.1,602.0 C1033.7,604.0 1032.6,606.0 1032.3,608.0 C1031.9,610.0 1032.6,612.0 1032.2,614.0 C1031.8,616.0 1030.4,617.9 1029.9,620.0 C1029.4,622.1 1029.2,624.2 1029.3,626.4 C1029.4,628.5 1030.4,630.6 1030.3,632.7 C1030.2,634.8 1028.7,637.0 1028.6,639.1 C1028.4,641.2 1029.6,643.3 1029.4,645.5 C1029.2,647.6 1027.7,649.7 1027.3,651.8 C1027.0,653.9 1027.5,656.1 1027.4,658.2 C1027.2,660.3 1026.5,662.4 1026.5,664.5 C1026.5,666.7 1027.4,668.8 1027.2,670.9 C1027.1,673.0 1026.0,675.2 1025.7,677.3 C1025.4,679.4 1025.4,681.5 1025.5,683.6 C1025.5,685.8 1025.9,688.9 1026.0,690.0" stroke="#1a48ff" stroke-width="4.5" opacity="0.28" filter="url(#g2)"/>
<path d="M1119.1,560.0 C1119.4,561.0 1120.5,564.0 1120.9,566.0 C1121.3,568.0 1121.1,570.0 1121.4,572.0 C1121.7,574.0 1122.2,576.0 1122.8,578.0 C1123.5,580.0 1125.0,582.0 1125.5,584.0 C1125.9,586.0 1125.3,588.0 1125.5,590.0 C1125.8,592.0 1127.0,594.0 1127.1,596.0 C1127.2,598.0 1126.0,600.0 1126.1,602.0 C1126.2,604.0 1127.4,606.0 1127.6,608.0 C1127.9,610.0 1127.2,612.0 1127.7,614.0 C1128.2,616.0 1130.1,617.9 1130.6,620.0 C1131.0,622.1 1130.4,624.2 1130.5,626.4 C1130.6,628.5 1131.0,630.6 1131.1,632.7 C1131.3,634.8 1131.0,637.0 1131.3,639.1 C1131.5,641.2 1132.3,643.3 1132.7,645.5 C1133.1,647.6 1133.4,649.7 1133.8,651.8 C1134.2,653.9 1134.5,656.1 1135.1,658.2 C1135.8,660.3 1137.2,662.4 1137.6,664.5 C1138.1,666.7 1137.9,668.8 1137.9,670.9 C1137.9,673.0 1137.4,675.2 1137.5,677.3 C1137.6,679.4 1138.3,681.5 1138.7,683.6 C1139.1,685.8 1139.8,688.9 1140.0,690.0" stroke="#1a48ff" stroke-width="4.5" opacity="0.28" filter="url(#g2)"/>
<path d="M999.0,480.0 C999.2,481.0 1000.7,484.1 1000.5,486.2 C1000.4,488.2 998.4,490.3 998.0,492.3 C997.7,494.4 998.6,496.4 998.5,498.5 C998.4,500.5 997.8,502.6 997.6,504.6 C997.4,506.7 998.0,508.7 997.4,510.8 C996.8,512.8 994.5,514.9 993.9,516.9 C993.4,519.0 994.2,521.0 994.1,523.1 C994.0,525.1 993.9,527.2 993.5,529.2 C993.1,531.3 991.8,533.3 991.8,535.4 C991.8,537.4 993.6,539.5 993.5,541.5 C993.3,543.6 991.3,545.6 991.0,547.7 C990.7,549.7 991.7,551.8 991.6,553.8 C991.4,555.9 990.6,558.0 990.1,560.0 C989.5,562.0 988.5,564.0 988.3,566.0 C988.2,568.0 989.0,570.0 989.0,572.0 C989.0,574.0 988.5,576.0 988.2,578.0 C987.9,580.0 987.4,582.0 987.3,584.0 C987.1,586.0 987.1,588.0 987.3,590.0 C987.5,592.0 988.5,594.0 988.3,596.0 C988.1,598.0 986.5,600.0 986.3,602.0 C986.0,604.0 986.7,606.0 986.8,608.0 C986.9,610.0 986.8,612.0 986.8,614.0 C986.8,616.0 987.1,618.0 986.8,620.0 C986.5,622.0 985.3,624.0 985.2,626.0 C985.2,628.0 986.7,630.0 986.6,632.0 C986.6,634.0 985.0,636.0 984.9,638.0 C984.8,640.0 986.0,642.0 986.0,644.0 C986.0,646.0 985.2,649.0 985.0,650.0" stroke="#1a48ff" stroke-width="4.5" opacity="0.28" filter="url(#g2)"/>
<path d="M1170.5,520.0 C1170.4,521.0 1169.7,524.1 1169.7,526.2 C1169.7,528.2 1170.3,530.3 1170.7,532.3 C1171.0,534.4 1171.1,536.4 1171.6,538.5 C1172.2,540.5 1173.4,542.6 1173.7,544.6 C1174.0,546.7 1173.5,548.7 1173.6,550.8 C1173.7,552.8 1173.8,554.9 1174.3,556.9 C1174.8,559.0 1176.3,561.0 1176.5,563.1 C1176.7,565.1 1175.4,567.2 1175.3,569.2 C1175.3,571.3 1176.0,573.3 1176.3,575.4 C1176.6,577.4 1177.0,579.5 1177.2,581.5 C1177.4,583.6 1177.5,585.6 1177.6,587.7 C1177.7,589.7 1177.7,591.8 1177.9,593.8 C1178.0,595.9 1178.1,598.0 1178.6,600.0 C1179.1,602.0 1180.4,604.0 1180.8,606.0 C1181.2,608.0 1180.8,610.0 1181.0,612.0 C1181.2,614.0 1181.8,616.0 1182.1,618.0 C1182.5,620.0 1183.1,622.0 1183.0,624.0 C1182.9,626.0 1181.4,628.0 1181.4,630.0 C1181.4,632.0 1182.5,634.0 1182.9,636.0 C1183.4,638.0 1184.2,640.0 1184.1,642.0 C1184.0,644.0 1182.3,646.0 1182.3,648.0 C1182.4,650.0 1183.8,652.0 1184.2,654.0 C1184.5,656.0 1184.2,658.0 1184.5,660.0 C1184.8,662.0 1185.5,664.0 1185.8,666.0 C1186.0,668.0 1186.1,670.0 1185.9,672.0 C1185.7,674.0 1184.4,676.0 1184.4,678.0 C1184.4,680.0 1185.7,682.0 1186.0,684.0 C1186.3,686.0 1186.0,689.0 1186.0,690.0" stroke="#1a48ff" stroke-width="4.5" opacity="0.28" filter="url(#g2)"/>
<path d="M1148.8,460.0 C1149.8,460.7 1153.0,462.7 1154.8,464.0 C1156.6,465.3 1158.2,466.7 1159.7,468.0 C1161.2,469.3 1162.0,470.7 1163.7,472.0 C1165.3,473.3 1167.8,474.7 1169.7,476.0 C1171.5,477.3 1174.1,479.3 1175.0,480.0" stroke="#1a48ff" stroke-width="4.5" opacity="0.28" filter="url(#g2)"/>
<path d="M949.5,520.0 C949.5,521.0 949.8,524.1 949.6,526.2 C949.5,528.2 948.9,530.3 948.6,532.3 C948.3,534.4 947.9,536.4 947.8,538.5 C947.8,540.5 948.1,542.6 948.2,544.6 C948.2,546.7 948.2,548.7 948.0,550.8 C947.8,552.8 946.7,554.9 946.7,556.9 C946.7,559.0 947.9,561.0 947.8,563.1 C947.7,565.1 946.6,567.2 946.1,569.2 C945.7,571.3 945.4,573.3 945.3,575.4 C945.2,577.4 945.6,579.5 945.7,581.5 C945.7,583.6 945.8,585.6 945.5,587.7 C945.3,589.7 944.4,591.8 944.3,593.8 C944.2,595.9 944.9,599.0 945.0,600.0" stroke="#1a48ff" stroke-width="4.5" opacity="0.28" filter="url(#g2)"/>
<path d="M1210.2,500.0 C1210.4,501.0 1210.8,504.2 1210.9,506.2 C1211.0,508.3 1210.7,510.4 1210.8,512.5 C1210.9,514.6 1211.7,516.7 1211.5,518.8 C1211.4,520.8 1209.9,522.9 1209.8,525.0 C1209.8,527.1 1211.0,529.2 1211.2,531.2 C1211.5,533.3 1211.5,535.4 1211.5,537.5 C1211.4,539.6 1210.8,541.7 1210.9,543.8 C1211.0,545.8 1212.1,547.9 1212.2,550.0 C1212.3,552.1 1211.3,554.2 1211.5,556.2 C1211.6,558.3 1212.7,560.4 1213.1,562.5 C1213.5,564.6 1213.6,566.7 1213.7,568.8 C1213.8,570.8 1213.7,572.9 1213.7,575.0 C1213.6,577.1 1213.5,579.2 1213.5,581.2 C1213.5,583.3 1213.7,585.4 1213.6,587.5 C1213.6,589.6 1213.0,591.7 1213.3,593.8 C1213.5,595.8 1214.7,599.0 1215.0,600.0" stroke="#1a48ff" stroke-width="4.5" opacity="0.28" filter="url(#g2)"/>
<path d="M1095.5,600.0 C1095.8,601.0 1096.9,604.2 1096.9,606.2 C1097.0,608.3 1096.1,610.4 1095.7,612.5 C1095.3,614.6 1094.6,616.7 1094.5,618.8 C1094.5,620.8 1095.6,622.9 1095.5,625.0 C1095.4,627.1 1094.0,629.2 1093.8,631.2 C1093.6,633.3 1094.3,635.4 1094.4,637.5 C1094.5,639.6 1094.4,641.7 1094.6,643.8 C1094.8,645.8 1095.4,647.8 1095.4,650.0 C1095.3,652.2 1094.2,654.4 1094.3,656.7 C1094.3,658.9 1095.0,661.1 1095.6,663.3 C1096.1,665.6 1097.0,667.8 1097.3,670.0 C1097.6,672.2 1097.4,674.4 1097.5,676.7 C1097.5,678.9 1097.6,681.1 1097.7,683.3 C1097.8,685.6 1098.0,688.9 1098.0,690.0" stroke="#1a48ff" stroke-width="4.5" opacity="0.28" filter="url(#g2)"/>
<g filter="url(#g07)"><path d="M1082.3,414.6 L1085.2,419.9 L1087.9,425.2 L1090.4,430.7 L1092.2,436.4 L1093.9,442.2 L1095.6,447.9 L1097.9,453.5 L1099.8,459.2 L1101.6,464.9 L1103.3,470.6 L1105.2,476.3" stroke="#0a50ff" stroke-width="1.4" opacity="0.65"/><path d="M1082.4,416.8 L1081.8,422.7 L1082.2,428.7 L1082.0,434.7 L1081.7,440.7 L1081.7,446.7 L1082.8,452.6 L1083.0,458.6 L1083.4,464.6 L1083.2,470.6 L1082.3,476.5" stroke="#0a50ff" stroke-width="2.1" opacity="0.60"/><path d="M1083.2,422.7 L1083.4,428.7 L1083.8,434.7 L1085.2,440.5 L1086.6,446.3 L1088.5,452.0 L1090.0,457.8 L1091.0,463.7 L1091.2,469.7 L1091.6,475.7 L1091.3,481.7 L1090.9,487.7 L1090.4,493.7" stroke="#0a50ff" stroke-width="1.4" opacity="0.49"/><path d="M1083.2,422.4 L1079.1,426.8 L1074.8,431.0 L1071.0,435.6 L1066.7,439.8 L1061.7,443.2 L1056.3,445.8 L1050.9,448.4 L1045.3,450.5 L1039.9,453.1 L1034.3,455.2 L1028.6,457.1" stroke="#0a50ff" stroke-width="1.3" opacity="0.45"/><path d="M1085.7,446.6 L1089.0,451.6 L1092.8,456.2 L1097.0,460.5 L1100.8,465.2 L1103.9,470.3 L1107.8,474.9 L1111.5,479.6 L1115.9,483.7 L1120.0,488.0 L1124.3,492.2" stroke="#0a50ff" stroke-width="2.2" opacity="0.66"/><path d="M1109.2,614.0 L1113.3,618.4 L1117.3,622.8 L1120.6,627.8" stroke="#0a50ff" stroke-width="1.5" opacity="0.69"/><path d="M1100.3,512.8 L1104.0,517.5 L1106.9,522.8 L1109.1,528.4 L1111.5,533.8 L1114.0,539.3 L1116.5,544.8 L1118.7,550.4 L1120.7,556.0 L1122.6,561.7 L1124.2,567.5 L1124.9,573.4" stroke="#0a50ff" stroke-width="1.6" opacity="0.53"/><path d="M1099.8,508.3 L1100.8,514.2 L1102.0,520.1 L1102.6,526.1 L1102.3,532.1 L1102.3,538.1" stroke="#0a50ff" stroke-width="1.8" opacity="0.48"/><path d="M1089.3,481.3 L1088.0,487.1 L1086.9,493.0 L1085.4,498.8 L1083.4,504.5 L1082.4,510.4 L1082.3,516.4 L1081.9,522.4" stroke="#0a50ff" stroke-width="1.5" opacity="0.69"/><path d="M1105.5,592.5 L1105.4,598.5 L1104.7,604.4 L1103.3,610.3 L1102.4,616.2 L1100.9,622.0" stroke="#0a50ff" stroke-width="2.0" opacity="0.39"/><path d="M1104.9,569.3 L1107.6,574.7 L1110.8,579.7 L1114.2,584.7 L1117.2,589.9 L1120.8,594.7 L1124.8,599.2 L1129.0,603.4 L1132.7,608.1 L1136.5,612.8 L1139.7,617.9" stroke="#0a50ff" stroke-width="1.5" opacity="0.41"/><path d="M1106.7,586.5 L1107.8,592.4 L1108.9,598.3 L1110.7,604.1 L1111.8,610.0 L1112.2,615.9" stroke="#0a50ff" stroke-width="1.5" opacity="0.41"/><path d="M1106.4,584.2 L1108.1,590.0 L1109.1,595.9 L1110.6,601.7 L1112.4,607.4" stroke="#0a50ff" stroke-width="1.6" opacity="0.50"/><path d="M1107.1,590.9 L1107.9,596.8 L1107.9,602.8 L1107.7,608.8 L1107.5,614.8 L1107.1,620.8" stroke="#0a50ff" stroke-width="1.9" opacity="0.70"/><path d="M1106.2,582.4 L1103.6,587.8 L1101.4,593.3 L1099.5,599.0 L1098.1,604.9 L1097.6,610.8 L1097.0,616.8 L1096.8,622.8 L1095.9,628.7 L1096.0,634.7" stroke="#0a50ff" stroke-width="1.9" opacity="0.67"/><path d="M1042.3,450.0 L1040.2,455.7 L1037.6,461.1 L1035.7,466.7 L1034.1,472.5 L1032.3,478.2 L1030.3,483.9 L1028.6,489.7 L1026.0,495.1" stroke="#0a50ff" stroke-width="1.5" opacity="0.56"/><path d="M1030.3,457.7 L1030.9,463.7 L1032.1,469.6 L1034.0,475.2 L1035.2,481.1 L1037.1,486.8 L1039.5,492.3 L1042.4,497.6 L1044.5,503.2 L1047.3,508.5 L1049.3,514.2" stroke="#0a50ff" stroke-width="1.8" opacity="0.52"/><path d="M1029.3,458.2 L1031.1,464.0 L1033.0,469.7 L1034.9,475.3 L1036.3,481.2 L1038.7,486.7" stroke="#0a50ff" stroke-width="1.3" opacity="0.37"/><path d="M1059.7,425.3 L1059.4,431.3 L1059.1,437.3 L1058.7,443.2" stroke="#0a50ff" stroke-width="1.3" opacity="0.40"/><path d="M1021.4,462.2 L1021.4,468.2 L1021.7,474.2 L1022.8,480.1 L1023.8,486.0 L1024.3,492.0 L1025.1,498.0" stroke="#0a50ff" stroke-width="1.4" opacity="0.38"/><path d="M1037.9,472.0 L1036.5,477.8 L1035.9,483.8 L1034.6,489.6 L1034.2,495.6 L1033.6,501.6 L1032.4,507.4 L1031.5,513.4 L1029.8,519.1" stroke="#0a50ff" stroke-width="1.2" opacity="0.50"/><path d="M1040.0,459.6 L1038.6,465.4 L1037.4,471.3 L1035.4,476.9 L1032.6,482.2" stroke="#0a50ff" stroke-width="2.1" opacity="0.48"/><path d="M1038.7,468.2 L1036.8,473.8 L1034.1,479.2 L1031.4,484.6 L1029.0,490.0 L1027.3,495.8 L1025.9,501.7 L1024.5,507.5 L1022.5,513.1 L1020.1,518.6 L1017.7,524.1 L1015.8,529.8 L1014.2,535.6" stroke="#0a50ff" stroke-width="1.8" opacity="0.53"/><path d="M1038.6,468.8 L1042.7,473.1 L1046.3,477.9 L1049.6,482.9 L1052.3,488.3 L1054.2,494.0 L1055.8,499.8 L1056.9,505.7 L1058.9,511.4 L1060.3,517.2 L1061.8,523.0 L1062.8,528.9" stroke="#0a50ff" stroke-width="1.9" opacity="0.39"/><path d="M1040.0,459.8 L1038.0,465.4 L1035.0,470.7 L1031.8,475.7 L1028.6,480.8 L1025.2,485.7" stroke="#0a50ff" stroke-width="1.5" opacity="0.68"/><path d="M1055.0,516.7 L1057.0,522.3 L1059.1,528.0 L1060.1,533.9 L1061.4,539.7 L1062.1,545.7 L1063.5,551.5 L1064.6,557.4" stroke="#0a50ff" stroke-width="1.9" opacity="0.61"/><path d="M1050.5,520.5 L1052.4,526.2 L1054.9,531.6 L1057.5,537.1 L1060.1,542.5 L1062.3,548.1 L1063.6,553.9 L1064.7,559.8" stroke="#0a50ff" stroke-width="1.3" opacity="0.65"/><path d="M1082.5,483.4 L1081.7,489.3 L1080.7,495.2 L1079.2,501.0 L1077.4,506.7 L1074.8,512.2 L1072.1,517.5 L1069.2,522.8 L1065.5,527.5 L1061.2,531.6 L1057.1,536.1 L1053.5,540.8 L1049.3,545.2" stroke="#0a50ff" stroke-width="1.8" opacity="0.42"/><path d="M1081.3,484.5 L1078.3,489.7 L1075.3,494.9 L1072.1,499.9 L1068.9,505.1" stroke="#0a50ff" stroke-width="2.0" opacity="0.64"/><path d="M1060.8,511.8 L1056.4,515.9 L1051.7,519.6 L1046.5,522.6 L1041.9,526.4" stroke="#0a50ff" stroke-width="2.1" opacity="0.67"/><path d="M1070.5,421.0 L1068.4,426.6 L1066.7,432.3 L1065.7,438.3 L1064.3,444.1 L1062.2,449.7" stroke="#0a50ff" stroke-width="1.5" opacity="0.66"/><path d="M1078.2,420.3 L1079.7,426.1 L1082.0,431.7 L1083.6,437.5 L1085.6,443.1 L1087.9,448.7 L1090.1,454.3 L1091.9,460.0 L1094.6,465.3 L1097.7,470.5 L1100.9,475.6" stroke="#0a50ff" stroke-width="1.4" opacity="0.52"/><path d="M1066.1,422.4 L1066.2,428.4 L1066.0,434.4 L1066.6,440.3 L1066.4,446.3" stroke="#0a50ff" stroke-width="1.3" opacity="0.67"/><path d="M1063.3,423.4 L1064.0,429.3 L1064.3,435.3 L1063.8,441.3 L1062.5,447.2 L1062.1,453.2 L1060.8,459.0 L1059.7,464.9" stroke="#0a50ff" stroke-width="1.7" opacity="0.55"/><path d="M1065.0,422.8 L1067.9,428.0 L1070.3,433.5 L1072.5,439.1 L1074.2,444.9 L1076.6,450.4 L1079.2,455.7" stroke="#0a50ff" stroke-width="1.7" opacity="0.67"/></g>
<path d="M1090.4,422.3 C1091.1,422.9 1093.1,424.8 1094.5,426.0 C1095.9,427.2 1097.5,428.5 1098.9,429.7 C1100.4,430.9 1102.0,431.9 1103.2,433.4 C1104.4,434.9 1105.3,437.1 1106.2,439.0 C1107.1,440.8 1107.8,442.7 1108.5,444.5 C1109.1,446.4 1109.3,448.3 1110.0,450.1 C1110.8,452.0 1112.2,453.8 1113.0,455.7 C1113.8,457.6 1113.9,459.7 1114.8,461.6 C1115.6,463.6 1116.8,465.6 1117.9,467.6 C1119.0,469.5 1120.5,471.6 1121.4,473.5 C1122.3,475.4 1122.6,476.9 1123.3,478.7 C1124.0,480.4 1124.7,482.1 1125.6,483.8 C1126.5,485.6 1127.8,487.0 1128.7,489.0 C1129.5,491.0 1129.9,493.5 1130.9,495.7 C1131.8,497.9 1133.4,500.4 1134.3,502.4 C1135.2,504.4 1135.5,506.0 1136.2,507.8 C1137.0,509.6 1138.1,511.4 1138.8,513.1 C1139.4,514.9 1139.6,516.7 1140.0,518.5 C1140.5,520.3 1140.9,522.1 1141.6,523.9 C1142.3,525.7 1143.5,527.5 1144.3,529.3 C1145.0,531.0 1145.3,532.8 1146.0,534.6 C1146.6,536.4 1147.7,539.1 1148.0,540.0" stroke="#0040ff" stroke-width="5.0" opacity="0.5" filter="url(#g2)"/>
<path d="M1090.4,422.3 C1091.1,422.9 1093.1,424.8 1094.5,426.0 C1095.9,427.2 1097.5,428.5 1098.9,429.7 C1100.4,430.9 1102.0,431.9 1103.2,433.4 C1104.4,434.9 1105.3,437.1 1106.2,439.0 C1107.1,440.8 1107.8,442.7 1108.5,444.5 C1109.1,446.4 1109.3,448.3 1110.0,450.1 C1110.8,452.0 1112.2,453.8 1113.0,455.7 C1113.8,457.6 1113.9,459.7 1114.8,461.6 C1115.6,463.6 1116.8,465.6 1117.9,467.6 C1119.0,469.5 1120.5,471.6 1121.4,473.5 C1122.3,475.4 1122.6,476.9 1123.3,478.7 C1124.0,480.4 1124.7,482.1 1125.6,483.8 C1126.5,485.6 1127.8,487.0 1128.7,489.0 C1129.5,491.0 1129.9,493.5 1130.9,495.7 C1131.8,497.9 1133.4,500.4 1134.3,502.4 C1135.2,504.4 1135.5,506.0 1136.2,507.8 C1137.0,509.6 1138.1,511.4 1138.8,513.1 C1139.4,514.9 1139.6,516.7 1140.0,518.5 C1140.5,520.3 1140.9,522.1 1141.6,523.9 C1142.3,525.7 1143.5,527.5 1144.3,529.3 C1145.0,531.0 1145.3,532.8 1146.0,534.6 C1146.6,536.4 1147.7,539.1 1148.0,540.0" stroke="#0060ff" stroke-width="2.2" opacity="0.8" filter="url(#g07)"/>
<path d="M1092.0,449.0 C1092.6,449.9 1094.1,452.7 1095.2,454.6 C1096.2,456.4 1097.2,458.3 1098.2,460.1 C1099.1,462.0 1099.9,463.9 1100.8,465.7 C1101.7,467.6 1102.8,469.6 1103.7,471.3 C1104.6,473.0 1105.3,474.6 1106.3,476.2 C1107.2,477.8 1108.3,479.5 1109.3,481.1 C1110.3,482.7 1111.4,484.4 1112.2,486.0 C1113.0,487.6 1113.2,489.3 1114.0,490.9 C1114.7,492.5 1115.7,494.2 1116.7,495.8 C1117.7,497.4 1119.2,498.8 1120.1,500.2 C1121.0,501.7 1121.1,503.2 1122.0,504.7 C1122.9,506.2 1124.3,507.6 1125.2,509.1 C1126.2,510.6 1127.0,512.1 1127.9,513.6 C1128.8,515.0 1129.5,516.4 1130.6,518.0 C1131.6,519.6 1133.1,521.3 1134.3,523.0 C1135.4,524.7 1136.5,526.3 1137.4,528.0 C1138.3,529.7 1138.8,531.3 1139.8,533.0 C1140.8,534.7 1143.0,537.2 1143.6,538.0" stroke="#0040ff" stroke-width="5.0" opacity="0.5" filter="url(#g2)"/>
<path d="M1092.0,449.0 C1092.6,449.9 1094.1,452.7 1095.2,454.6 C1096.2,456.4 1097.2,458.3 1098.2,460.1 C1099.1,462.0 1099.9,463.9 1100.8,465.7 C1101.7,467.6 1102.8,469.6 1103.7,471.3 C1104.6,473.0 1105.3,474.6 1106.3,476.2 C1107.2,477.8 1108.3,479.5 1109.3,481.1 C1110.3,482.7 1111.4,484.4 1112.2,486.0 C1113.0,487.6 1113.2,489.3 1114.0,490.9 C1114.7,492.5 1115.7,494.2 1116.7,495.8 C1117.7,497.4 1119.2,498.8 1120.1,500.2 C1121.0,501.7 1121.1,503.2 1122.0,504.7 C1122.9,506.2 1124.3,507.6 1125.2,509.1 C1126.2,510.6 1127.0,512.1 1127.9,513.6 C1128.8,515.0 1129.5,516.4 1130.6,518.0 C1131.6,519.6 1133.1,521.3 1134.3,523.0 C1135.4,524.7 1136.5,526.3 1137.4,528.0 C1138.3,529.7 1138.8,531.3 1139.8,533.0 C1140.8,534.7 1143.0,537.2 1143.6,538.0" stroke="#0060ff" stroke-width="2.2" opacity="0.8" filter="url(#g07)"/>
<path d="M1106.0,511.4 C1106.6,512.3 1108.3,514.9 1109.5,516.6 C1110.7,518.3 1112.1,520.1 1113.3,521.8 C1114.5,523.5 1115.4,525.7 1116.7,527.0 C1118.0,528.3 1119.5,528.8 1121.0,529.8 C1122.6,530.7 1124.6,531.6 1126.1,532.5 C1127.7,533.4 1128.9,534.3 1130.3,535.2 C1131.7,536.2 1134.0,537.5 1134.7,538.0" stroke="#0040ff" stroke-width="5.0" opacity="0.5" filter="url(#g2)"/>
<path d="M1106.0,511.4 C1106.6,512.3 1108.3,514.9 1109.5,516.6 C1110.7,518.3 1112.1,520.1 1113.3,521.8 C1114.5,523.5 1115.4,525.7 1116.7,527.0 C1118.0,528.3 1119.5,528.8 1121.0,529.8 C1122.6,530.7 1124.6,531.6 1126.1,532.5 C1127.7,533.4 1128.9,534.3 1130.3,535.2 C1131.7,536.2 1134.0,537.5 1134.7,538.0" stroke="#0060ff" stroke-width="2.2" opacity="0.8" filter="url(#g07)"/>
<path d="M1112.6,627.0 C1113.2,627.8 1114.7,630.0 1115.8,631.5 C1116.9,633.0 1118.0,634.5 1119.1,636.0 C1120.1,637.5 1120.9,639.0 1122.0,640.5 C1123.1,642.0 1125.0,643.4 1125.6,645.0 C1126.3,646.6 1125.7,648.4 1125.8,650.1 C1126.0,651.8 1126.3,653.5 1126.5,655.2 C1126.8,656.9 1127.0,658.6 1127.3,660.3 C1127.6,662.0 1127.7,663.7 1128.1,665.4 C1128.5,667.1 1129.5,668.9 1129.7,670.6 C1130.0,672.3 1129.5,674.0 1129.7,675.7 C1129.9,677.4 1130.5,679.1 1130.9,680.8 C1131.3,682.5 1131.8,684.2 1132.1,685.9 C1132.4,687.6 1132.4,690.1 1132.5,691.0" stroke="#0040ff" stroke-width="5.0" opacity="0.5" filter="url(#g2)"/>
<path d="M1112.6,627.0 C1113.2,627.8 1114.7,630.0 1115.8,631.5 C1116.9,633.0 1118.0,634.5 1119.1,636.0 C1120.1,637.5 1120.9,639.0 1122.0,640.5 C1123.1,642.0 1125.0,643.4 1125.6,645.0 C1126.3,646.6 1125.7,648.4 1125.8,650.1 C1126.0,651.8 1126.3,653.5 1126.5,655.2 C1126.8,656.9 1127.0,658.6 1127.3,660.3 C1127.6,662.0 1127.7,663.7 1128.1,665.4 C1128.5,667.1 1129.5,668.9 1129.7,670.6 C1130.0,672.3 1129.5,674.0 1129.7,675.7 C1129.9,677.4 1130.5,679.1 1130.9,680.8 C1131.3,682.5 1131.8,684.2 1132.1,685.9 C1132.4,687.6 1132.4,690.1 1132.5,691.0" stroke="#0060ff" stroke-width="2.2" opacity="0.8" filter="url(#g07)"/>
<path d="M1082.2,410.0 C1082.1,411.3 1081.6,415.4 1081.9,417.8 C1082.2,420.2 1083.6,422.5 1084.0,424.5 C1084.5,426.5 1084.6,428.2 1084.6,430.1 C1084.6,431.9 1083.9,433.8 1084.0,435.6 C1084.0,437.5 1084.5,439.4 1084.8,441.2 C1085.1,443.1 1085.6,445.9 1085.7,446.8" stroke="#0030ff" stroke-width="7.0" opacity="0.45" filter="url(#g3)"/>
<path d="M1082.2,410.0 C1082.1,411.3 1081.6,415.4 1081.9,417.8 C1082.2,420.2 1083.6,422.5 1084.0,424.5 C1084.5,426.5 1084.6,428.2 1084.6,430.1 C1084.6,431.9 1083.9,433.8 1084.0,435.6 C1084.0,437.5 1084.5,439.4 1084.8,441.2 C1085.1,443.1 1085.6,445.9 1085.7,446.8" stroke="#0068ff" stroke-width="4.2" opacity="0.9" filter="url(#g15)"/>
<path d="M1082.2,410.0 C1082.1,411.3 1081.6,415.4 1081.9,417.8 C1082.2,420.2 1083.6,422.5 1084.0,424.5 C1084.5,426.5 1084.6,428.2 1084.6,430.1 C1084.6,431.9 1083.9,433.8 1084.0,435.6 C1084.0,437.5 1084.5,439.4 1084.8,441.2 C1085.1,443.1 1085.6,445.9 1085.7,446.8" stroke="#18a8ff" stroke-width="2.7" filter="url(#g07)"/>
<path d="M1082.2,410.0 C1082.1,411.3 1081.6,415.4 1081.9,417.8 C1082.2,420.2 1083.6,422.5 1084.0,424.5 C1084.5,426.5 1084.6,428.2 1084.6,430.1 C1084.6,431.9 1083.9,433.8 1084.0,435.6 C1084.0,437.5 1084.5,439.4 1084.8,441.2 C1085.1,443.1 1085.6,445.9 1085.7,446.8" stroke="#48d8ff" stroke-width="1.0" opacity="0.85" filter="url(#g05)"/>
<path d="M1060.1,424.5 C1059.7,425.4 1058.8,427.9 1057.9,429.7 C1057.0,431.4 1055.6,433.1 1054.7,434.8 C1053.9,436.6 1053.7,438.5 1052.6,440.0 C1051.5,441.5 1049.5,442.5 1048.3,443.7 C1047.0,445.0 1046.4,446.2 1045.2,447.5 C1044.0,448.7 1042.6,450.0 1041.0,451.2 C1039.3,452.4 1037.1,453.4 1035.4,454.5 C1033.6,455.7 1032.3,456.8 1030.4,457.9 C1028.4,459.0 1026.1,460.1 1023.8,461.2 C1021.6,462.4 1017.9,464.0 1016.7,464.6" stroke="#0030ff" stroke-width="7.0" opacity="0.45" filter="url(#g3)"/>
<path d="M1060.1,424.5 C1059.7,425.4 1058.8,427.9 1057.9,429.7 C1057.0,431.4 1055.6,433.1 1054.7,434.8 C1053.9,436.6 1053.7,438.5 1052.6,440.0 C1051.5,441.5 1049.5,442.5 1048.3,443.7 C1047.0,445.0 1046.4,446.2 1045.2,447.5 C1044.0,448.7 1042.6,450.0 1041.0,451.2 C1039.3,452.4 1037.1,453.4 1035.4,454.5 C1033.6,455.7 1032.3,456.8 1030.4,457.9 C1028.4,459.0 1026.1,460.1 1023.8,461.2 C1021.6,462.4 1017.9,464.0 1016.7,464.6" stroke="#0068ff" stroke-width="4.2" opacity="0.9" filter="url(#g15)"/>
<path d="M1060.1,424.5 C1059.7,425.4 1058.8,427.9 1057.9,429.7 C1057.0,431.4 1055.6,433.1 1054.7,434.8 C1053.9,436.6 1053.7,438.5 1052.6,440.0 C1051.5,441.5 1049.5,442.5 1048.3,443.7 C1047.0,445.0 1046.4,446.2 1045.2,447.5 C1044.0,448.7 1042.6,450.0 1041.0,451.2 C1039.3,452.4 1037.1,453.4 1035.4,454.5 C1033.6,455.7 1032.3,456.8 1030.4,457.9 C1028.4,459.0 1026.1,460.1 1023.8,461.2 C1021.6,462.4 1017.9,464.0 1016.7,464.6" stroke="#18a8ff" stroke-width="2.7" filter="url(#g07)"/>
<path d="M1060.1,424.5 C1059.7,425.4 1058.8,427.9 1057.9,429.7 C1057.0,431.4 1055.6,433.1 1054.7,434.8 C1053.9,436.6 1053.7,438.5 1052.6,440.0 C1051.5,441.5 1049.5,442.5 1048.3,443.7 C1047.0,445.0 1046.4,446.2 1045.2,447.5 C1044.0,448.7 1042.6,450.0 1041.0,451.2 C1039.3,452.4 1037.1,453.4 1035.4,454.5 C1033.6,455.7 1032.3,456.8 1030.4,457.9 C1028.4,459.0 1026.1,460.1 1023.8,461.2 C1021.6,462.4 1017.9,464.0 1016.7,464.6" stroke="#48d8ff" stroke-width="1.0" opacity="0.85" filter="url(#g05)"/>
<path d="M1041.7,451.2 C1041.5,452.1 1040.9,454.7 1040.6,456.4 C1040.2,458.1 1039.8,459.9 1039.6,461.6 C1039.4,463.3 1039.6,465.0 1039.3,466.8 C1039.0,468.6 1038.5,470.5 1038.0,472.4 C1037.6,474.3 1036.9,477.1 1036.7,478.0" stroke="#0030ff" stroke-width="7.0" opacity="0.45" filter="url(#g3)"/>
<path d="M1041.7,451.2 C1041.5,452.1 1040.9,454.7 1040.6,456.4 C1040.2,458.1 1039.8,459.9 1039.6,461.6 C1039.4,463.3 1039.6,465.0 1039.3,466.8 C1039.0,468.6 1038.5,470.5 1038.0,472.4 C1037.6,474.3 1036.9,477.1 1036.7,478.0" stroke="#0068ff" stroke-width="4.2" opacity="0.9" filter="url(#g15)"/>
<path d="M1041.7,451.2 C1041.5,452.1 1040.9,454.7 1040.6,456.4 C1040.2,458.1 1039.8,459.9 1039.6,461.6 C1039.4,463.3 1039.6,465.0 1039.3,466.8 C1039.0,468.6 1038.5,470.5 1038.0,472.4 C1037.6,474.3 1036.9,477.1 1036.7,478.0" stroke="#18a8ff" stroke-width="2.7" filter="url(#g07)"/>
<path d="M1041.7,451.2 C1041.5,452.1 1040.9,454.7 1040.6,456.4 C1040.2,458.1 1039.8,459.9 1039.6,461.6 C1039.4,463.3 1039.6,465.0 1039.3,466.8 C1039.0,468.6 1038.5,470.5 1038.0,472.4 C1037.6,474.3 1036.9,477.1 1036.7,478.0" stroke="#48d8ff" stroke-width="1.0" opacity="0.85" filter="url(#g05)"/>
<path d="M1089.5,480.2 C1088.5,480.6 1086.1,480.9 1083.9,482.4 C1081.7,483.9 1078.0,487.0 1076.3,489.0 C1074.5,491.0 1074.3,492.7 1073.3,494.6 C1072.3,496.5 1071.7,498.3 1070.3,500.2 C1069.0,502.1 1066.9,503.9 1065.3,505.8 C1063.7,507.7 1062.2,509.9 1060.8,511.4 C1059.3,512.9 1057.8,513.6 1056.6,514.7 C1055.4,515.8 1054.6,516.9 1053.5,518.0 C1052.4,519.2 1051.3,520.3 1050.1,521.4 C1048.9,522.5 1047.8,523.4 1046.3,524.7 C1044.7,526.0 1042.2,527.7 1040.6,529.2 C1039.0,530.6 1037.4,532.9 1036.7,533.6" stroke="#0030ff" stroke-width="7.0" opacity="0.45" filter="url(#g3)"/>
<path d="M1089.5,480.2 C1088.5,480.6 1086.1,480.9 1083.9,482.4 C1081.7,483.9 1078.0,487.0 1076.3,489.0 C1074.5,491.0 1074.3,492.7 1073.3,494.6 C1072.3,496.5 1071.7,498.3 1070.3,500.2 C1069.0,502.1 1066.9,503.9 1065.3,505.8 C1063.7,507.7 1062.2,509.9 1060.8,511.4 C1059.3,512.9 1057.8,513.6 1056.6,514.7 C1055.4,515.8 1054.6,516.9 1053.5,518.0 C1052.4,519.2 1051.3,520.3 1050.1,521.4 C1048.9,522.5 1047.8,523.4 1046.3,524.7 C1044.7,526.0 1042.2,527.7 1040.6,529.2 C1039.0,530.6 1037.4,532.9 1036.7,533.6" stroke="#0068ff" stroke-width="4.2" opacity="0.9" filter="url(#g15)"/>
<path d="M1089.5,480.2 C1088.5,480.6 1086.1,480.9 1083.9,482.4 C1081.7,483.9 1078.0,487.0 1076.3,489.0 C1074.5,491.0 1074.3,492.7 1073.3,494.6 C1072.3,496.5 1071.7,498.3 1070.3,500.2 C1069.0,502.1 1066.9,503.9 1065.3,505.8 C1063.7,507.7 1062.2,509.9 1060.8,511.4 C1059.3,512.9 1057.8,513.6 1056.6,514.7 C1055.4,515.8 1054.6,516.9 1053.5,518.0 C1052.4,519.2 1051.3,520.3 1050.1,521.4 C1048.9,522.5 1047.8,523.4 1046.3,524.7 C1044.7,526.0 1042.2,527.7 1040.6,529.2 C1039.0,530.6 1037.4,532.9 1036.7,533.6" stroke="#18a8ff" stroke-width="2.7" filter="url(#g07)"/>
<path d="M1089.5,480.2 C1088.5,480.6 1086.1,480.9 1083.9,482.4 C1081.7,483.9 1078.0,487.0 1076.3,489.0 C1074.5,491.0 1074.3,492.7 1073.3,494.6 C1072.3,496.5 1071.7,498.3 1070.3,500.2 C1069.0,502.1 1066.9,503.9 1065.3,505.8 C1063.7,507.7 1062.2,509.9 1060.8,511.4 C1059.3,512.9 1057.8,513.6 1056.6,514.7 C1055.4,515.8 1054.6,516.9 1053.5,518.0 C1052.4,519.2 1051.3,520.3 1050.1,521.4 C1048.9,522.5 1047.8,523.4 1046.3,524.7 C1044.7,526.0 1042.2,527.7 1040.6,529.2 C1039.0,530.6 1037.4,532.9 1036.7,533.6" stroke="#48d8ff" stroke-width="1.0" opacity="0.85" filter="url(#g05)"/>
<path d="M1082.3,420.0 C1081.2,420.1 1077.9,420.3 1075.9,420.5 C1073.9,420.7 1072.0,420.6 1070.2,421.0 C1068.4,421.4 1066.6,422.2 1064.9,422.8 C1063.2,423.3 1060.9,424.2 1060.1,424.5" stroke="#0030ff" stroke-width="7.0" opacity="0.45" filter="url(#g3)"/>
<path d="M1082.3,420.0 C1081.2,420.1 1077.9,420.3 1075.9,420.5 C1073.9,420.7 1072.0,420.6 1070.2,421.0 C1068.4,421.4 1066.6,422.2 1064.9,422.8 C1063.2,423.3 1060.9,424.2 1060.1,424.5" stroke="#0068ff" stroke-width="4.2" opacity="0.9" filter="url(#g15)"/>
<path d="M1082.3,420.0 C1081.2,420.1 1077.9,420.3 1075.9,420.5 C1073.9,420.7 1072.0,420.6 1070.2,421.0 C1068.4,421.4 1066.6,422.2 1064.9,422.8 C1063.2,423.3 1060.9,424.2 1060.1,424.5" stroke="#18a8ff" stroke-width="2.7" filter="url(#g07)"/>
<path d="M1082.3,420.0 C1081.2,420.1 1077.9,420.3 1075.9,420.5 C1073.9,420.7 1072.0,420.6 1070.2,421.0 C1068.4,421.4 1066.6,422.2 1064.9,422.8 C1063.2,423.3 1060.9,424.2 1060.1,424.5" stroke="#48d8ff" stroke-width="1.0" opacity="0.85" filter="url(#g05)"/>
<path d="M1086.3,446.8 C1086.4,447.6 1086.8,450.1 1086.7,451.8 C1086.5,453.5 1085.6,455.1 1085.6,456.8 C1085.6,458.5 1086.7,460.1 1086.8,461.8 C1086.9,463.5 1086.2,464.9 1086.3,466.8 C1086.3,468.8 1086.9,471.3 1087.3,473.5 C1087.7,475.7 1088.0,478.1 1088.7,480.2 C1089.4,482.3 1090.4,484.2 1091.2,486.1 C1092.0,488.1 1092.9,490.1 1093.4,492.1 C1093.9,494.0 1093.4,496.1 1094.1,498.0 C1094.7,499.9 1096.3,501.7 1097.2,503.5 C1098.1,505.3 1099.0,507.1 1099.5,509.0 C1100.1,510.9 1100.2,513.1 1100.4,515.1 C1100.5,517.2 1100.4,519.2 1100.4,521.3 C1100.4,523.3 1100.3,525.4 1100.3,527.5 C1100.3,529.5 1100.2,531.7 1100.3,533.6 C1100.5,535.5 1101.1,537.1 1101.4,538.9 C1101.6,540.6 1101.8,542.4 1101.8,544.2 C1101.8,545.9 1101.4,547.7 1101.4,549.4 C1101.4,551.2 1101.7,553.0 1101.9,554.7 C1102.1,556.5 1102.3,558.3 1102.6,560.0 C1102.8,561.7 1103.0,563.3 1103.2,565.0 C1103.4,566.7 1103.9,568.3 1103.9,570.0 C1104.0,571.7 1103.4,573.3 1103.5,575.0 C1103.6,576.7 1104.2,578.3 1104.4,580.0 C1104.5,581.7 1104.4,583.3 1104.6,585.0 C1104.8,586.7 1105.5,588.3 1105.6,590.0 C1105.8,591.7 1105.3,593.3 1105.4,595.0 C1105.5,596.7 1105.9,598.3 1106.1,600.0 C1106.4,601.7 1106.3,603.3 1106.7,605.0 C1107.2,606.7 1108.2,608.2 1108.6,610.0 C1109.0,611.8 1108.9,613.8 1109.3,615.7 C1109.8,617.6 1110.7,619.4 1111.3,621.3 C1111.9,623.2 1112.7,626.1 1113.0,627.0" stroke="#0040ff" stroke-width="10.0" opacity="0.55" filter="url(#g3)"/>
<path d="M1086.3,446.8 C1086.4,447.6 1086.8,450.1 1086.7,451.8 C1086.5,453.5 1085.6,455.1 1085.6,456.8 C1085.6,458.5 1086.7,460.1 1086.8,461.8 C1086.9,463.5 1086.2,464.9 1086.3,466.8 C1086.3,468.8 1086.9,471.3 1087.3,473.5 C1087.7,475.7 1088.0,478.1 1088.7,480.2 C1089.4,482.3 1090.4,484.2 1091.2,486.1 C1092.0,488.1 1092.9,490.1 1093.4,492.1 C1093.9,494.0 1093.4,496.1 1094.1,498.0 C1094.7,499.9 1096.3,501.7 1097.2,503.5 C1098.1,505.3 1099.0,507.1 1099.5,509.0 C1100.1,510.9 1100.2,513.1 1100.4,515.1 C1100.5,517.2 1100.4,519.2 1100.4,521.3 C1100.4,523.3 1100.3,525.4 1100.3,527.5 C1100.3,529.5 1100.2,531.7 1100.3,533.6 C1100.5,535.5 1101.1,537.1 1101.4,538.9 C1101.6,540.6 1101.8,542.4 1101.8,544.2 C1101.8,545.9 1101.4,547.7 1101.4,549.4 C1101.4,551.2 1101.7,553.0 1101.9,554.7 C1102.1,556.5 1102.3,558.3 1102.6,560.0 C1102.8,561.7 1103.0,563.3 1103.2,565.0 C1103.4,566.7 1103.9,568.3 1103.9,570.0 C1104.0,571.7 1103.4,573.3 1103.5,575.0 C1103.6,576.7 1104.2,578.3 1104.4,580.0 C1104.5,581.7 1104.4,583.3 1104.6,585.0 C1104.8,586.7 1105.5,588.3 1105.6,590.0 C1105.8,591.7 1105.3,593.3 1105.4,595.0 C1105.5,596.7 1105.9,598.3 1106.1,600.0 C1106.4,601.7 1106.3,603.3 1106.7,605.0 C1107.2,606.7 1108.2,608.2 1108.6,610.0 C1109.0,611.8 1108.9,613.8 1109.3,615.7 C1109.8,617.6 1110.7,619.4 1111.3,621.3 C1111.9,623.2 1112.7,626.1 1113.0,627.0" stroke="#0088ff" stroke-width="5.4" opacity="0.9" filter="url(#g15)"/>
<path d="M1086.3,446.8 C1086.4,447.6 1086.8,450.1 1086.7,451.8 C1086.5,453.5 1085.6,455.1 1085.6,456.8 C1085.6,458.5 1086.7,460.1 1086.8,461.8 C1086.9,463.5 1086.2,464.9 1086.3,466.8 C1086.3,468.8 1086.9,471.3 1087.3,473.5 C1087.7,475.7 1088.0,478.1 1088.7,480.2 C1089.4,482.3 1090.4,484.2 1091.2,486.1 C1092.0,488.1 1092.9,490.1 1093.4,492.1 C1093.9,494.0 1093.4,496.1 1094.1,498.0 C1094.7,499.9 1096.3,501.7 1097.2,503.5 C1098.1,505.3 1099.0,507.1 1099.5,509.0 C1100.1,510.9 1100.2,513.1 1100.4,515.1 C1100.5,517.2 1100.4,519.2 1100.4,521.3 C1100.4,523.3 1100.3,525.4 1100.3,527.5 C1100.3,529.5 1100.2,531.7 1100.3,533.6 C1100.5,535.5 1101.1,537.1 1101.4,538.9 C1101.6,540.6 1101.8,542.4 1101.8,544.2 C1101.8,545.9 1101.4,547.7 1101.4,549.4 C1101.4,551.2 1101.7,553.0 1101.9,554.7 C1102.1,556.5 1102.3,558.3 1102.6,560.0 C1102.8,561.7 1103.0,563.3 1103.2,565.0 C1103.4,566.7 1103.9,568.3 1103.9,570.0 C1104.0,571.7 1103.4,573.3 1103.5,575.0 C1103.6,576.7 1104.2,578.3 1104.4,580.0 C1104.5,581.7 1104.4,583.3 1104.6,585.0 C1104.8,586.7 1105.5,588.3 1105.6,590.0 C1105.8,591.7 1105.3,593.3 1105.4,595.0 C1105.5,596.7 1105.9,598.3 1106.1,600.0 C1106.4,601.7 1106.3,603.3 1106.7,605.0 C1107.2,606.7 1108.2,608.2 1108.6,610.0 C1109.0,611.8 1108.9,613.8 1109.3,615.7 C1109.8,617.6 1110.7,619.4 1111.3,621.3 C1111.9,623.2 1112.7,626.1 1113.0,627.0" stroke="#20ccff" stroke-width="3.4" filter="url(#g07)"/>
<path d="M1086.3,446.8 C1086.4,447.6 1086.8,450.1 1086.7,451.8 C1086.5,453.5 1085.6,455.1 1085.6,456.8 C1085.6,458.5 1086.7,460.1 1086.8,461.8 C1086.9,463.5 1086.2,464.9 1086.3,466.8 C1086.3,468.8 1086.9,471.3 1087.3,473.5 C1087.7,475.7 1088.0,478.1 1088.7,480.2 C1089.4,482.3 1090.4,484.2 1091.2,486.1 C1092.0,488.1 1092.9,490.1 1093.4,492.1 C1093.9,494.0 1093.4,496.1 1094.1,498.0 C1094.7,499.9 1096.3,501.7 1097.2,503.5 C1098.1,505.3 1099.0,507.1 1099.5,509.0 C1100.1,510.9 1100.2,513.1 1100.4,515.1 C1100.5,517.2 1100.4,519.2 1100.4,521.3 C1100.4,523.3 1100.3,525.4 1100.3,527.5 C1100.3,529.5 1100.2,531.7 1100.3,533.6 C1100.5,535.5 1101.1,537.1 1101.4,538.9 C1101.6,540.6 1101.8,542.4 1101.8,544.2 C1101.8,545.9 1101.4,547.7 1101.4,549.4 C1101.4,551.2 1101.7,553.0 1101.9,554.7 C1102.1,556.5 1102.3,558.3 1102.6,560.0 C1102.8,561.7 1103.0,563.3 1103.2,565.0 C1103.4,566.7 1103.9,568.3 1103.9,570.0 C1104.0,571.7 1103.4,573.3 1103.5,575.0 C1103.6,576.7 1104.2,578.3 1104.4,580.0 C1104.5,581.7 1104.4,583.3 1104.6,585.0 C1104.8,586.7 1105.5,588.3 1105.6,590.0 C1105.8,591.7 1105.3,593.3 1105.4,595.0 C1105.5,596.7 1105.9,598.3 1106.1,600.0 C1106.4,601.7 1106.3,603.3 1106.7,605.0 C1107.2,606.7 1108.2,608.2 1108.6,610.0 C1109.0,611.8 1108.9,613.8 1109.3,615.7 C1109.8,617.6 1110.7,619.4 1111.3,621.3 C1111.9,623.2 1112.7,626.1 1113.0,627.0" stroke="#58f6ff" stroke-width="1.9" filter="url(#g05)"/>
<path d="M1103.5,560.0 C1103.6,560.8 1104.1,563.3 1104.3,565.0 C1104.4,566.7 1104.1,568.3 1104.3,570.0 C1104.6,571.7 1105.4,573.3 1105.6,575.0 C1105.8,576.7 1105.3,578.3 1105.5,580.0 C1105.7,581.7 1106.5,583.3 1106.7,585.0 C1106.9,586.7 1106.6,588.3 1106.7,590.0 C1106.8,591.7 1107.1,593.3 1107.4,595.0 C1107.7,596.7 1108.3,598.3 1108.6,600.0 C1108.9,601.7 1109.0,603.3 1109.2,605.0 C1109.4,606.7 1109.6,608.3 1109.9,610.0 C1110.2,611.7 1110.8,614.2 1111.0,615.0" stroke="#0040ff" stroke-width="10.0" opacity="0.55" filter="url(#g3)"/>
<path d="M1103.5,560.0 C1103.6,560.8 1104.1,563.3 1104.3,565.0 C1104.4,566.7 1104.1,568.3 1104.3,570.0 C1104.6,571.7 1105.4,573.3 1105.6,575.0 C1105.8,576.7 1105.3,578.3 1105.5,580.0 C1105.7,581.7 1106.5,583.3 1106.7,585.0 C1106.9,586.7 1106.6,588.3 1106.7,590.0 C1106.8,591.7 1107.1,593.3 1107.4,595.0 C1107.7,596.7 1108.3,598.3 1108.6,600.0 C1108.9,601.7 1109.0,603.3 1109.2,605.0 C1109.4,606.7 1109.6,608.3 1109.9,610.0 C1110.2,611.7 1110.8,614.2 1111.0,615.0" stroke="#0088ff" stroke-width="5.4" opacity="0.9" filter="url(#g15)"/>
<path d="M1103.5,560.0 C1103.6,560.8 1104.1,563.3 1104.3,565.0 C1104.4,566.7 1104.1,568.3 1104.3,570.0 C1104.6,571.7 1105.4,573.3 1105.6,575.0 C1105.8,576.7 1105.3,578.3 1105.5,580.0 C1105.7,581.7 1106.5,583.3 1106.7,585.0 C1106.9,586.7 1106.6,588.3 1106.7,590.0 C1106.8,591.7 1107.1,593.3 1107.4,595.0 C1107.7,596.7 1108.3,598.3 1108.6,600.0 C1108.9,601.7 1109.0,603.3 1109.2,605.0 C1109.4,606.7 1109.6,608.3 1109.9,610.0 C1110.2,611.7 1110.8,614.2 1111.0,615.0" stroke="#20ccff" stroke-width="3.4" filter="url(#g07)"/>
<path d="M1103.5,560.0 C1103.6,560.8 1104.1,563.3 1104.3,565.0 C1104.4,566.7 1104.1,568.3 1104.3,570.0 C1104.6,571.7 1105.4,573.3 1105.6,575.0 C1105.8,576.7 1105.3,578.3 1105.5,580.0 C1105.7,581.7 1106.5,583.3 1106.7,585.0 C1106.9,586.7 1106.6,588.3 1106.7,590.0 C1106.8,591.7 1107.1,593.3 1107.4,595.0 C1107.7,596.7 1108.3,598.3 1108.6,600.0 C1108.9,601.7 1109.0,603.3 1109.2,605.0 C1109.4,606.7 1109.6,608.3 1109.9,610.0 C1110.2,611.7 1110.8,614.2 1111.0,615.0" stroke="#58f6ff" stroke-width="1.9" filter="url(#g05)"/>
<path d="M1086.0,450.0 C1086.2,453.0 1086.3,462.7 1087.0,468.0 C1087.7,473.3 1089.5,479.7 1090.0,482.0" stroke="#a0ff60" stroke-width="2.6" opacity="1.0" filter="url(#g07)"/>
<path d="M1099.5,503.0 C1099.7,505.8 1100.2,513.8 1100.4,520.0 C1100.6,526.2 1100.5,533.7 1100.8,540.0 C1101.1,546.3 1102.1,555.0 1102.4,558.0" stroke="#b0ff50" stroke-width="2.6" opacity="1.0" filter="url(#g07)"/>
<path d="M1100.3,505.0 C1100.3,509.2 1100.3,521.5 1100.6,530.0 C1100.9,538.5 1101.8,551.7 1102.0,556.0" stroke="#ffd000" stroke-width="1.6" opacity="1.0" filter="url(#g07)"/>
<path d="M1100.4,510.0 C1100.5,513.3 1100.5,523.3 1100.7,530.0 C1100.9,536.7 1101.6,546.7 1101.8,550.0" stroke="#ff3000" stroke-width="1.3" opacity="1.0" filter="url(#g07)"/>
<path d="M1086.6,456.0 C1086.7,458.7 1087.2,469.3 1087.3,472.0" stroke="#ff5000" stroke-width="1.4" opacity="1.0" filter="url(#g07)"/>
<circle cx="1092.4" cy="435.6" r="3.5" fill="#0070ff" stroke="none" opacity="0.7" filter="url(#g15)"/>
<circle cx="1092.4" cy="435.6" r="1.8" fill="#40d0ff" stroke="none" filter="url(#g07)"/>
</g>
<g clip-path="url(#cp3)" fill="none" stroke-linecap="round" stroke-linejoin="round">
<rect x="1254.4" y="373.8" width="341.1" height="322.9" filter="url(#nz)" mask="url(#vm)" opacity="0.55"/>
<g filter="url(#g2)"><path d="M1276.4,484.9 Q1274.7,505.5 1273.2,526.1" stroke="#1040ff" stroke-width="2.2" opacity="0.16"/><path d="M1589.6,515.4 Q1590.5,535.5 1592.6,555.7" stroke="#1040ff" stroke-width="3.0" opacity="0.19"/><path d="M1278.5,592.4 Q1282.9,608.9 1282.9,625.3" stroke="#1040ff" stroke-width="2.7" opacity="0.21"/><path d="M1588.6,568.6 Q1584.3,588.2 1583.9,607.8" stroke="#1040ff" stroke-width="2.4" opacity="0.23"/><path d="M1298.7,487.2 Q1295.9,498.5 1298.9,509.7" stroke="#1040ff" stroke-width="2.8" opacity="0.24"/><path d="M1329.0,682.7 Q1331.9,687.9 1331.9,693.1" stroke="#1040ff" stroke-width="4.0" opacity="0.19"/><path d="M1391.6,648.2 Q1392.3,667.7 1387.6,687.1" stroke="#1040ff" stroke-width="4.5" opacity="0.24"/><path d="M1392.6,626.6 Q1391.3,635.9 1393.4,645.3" stroke="#1040ff" stroke-width="2.1" opacity="0.26"/><path d="M1388.0,552.3 Q1387.8,568.8 1389.4,585.3" stroke="#1040ff" stroke-width="2.9" opacity="0.25"/><path d="M1351.8,670.7 Q1351.3,681.4 1354.3,692.0" stroke="#1040ff" stroke-width="2.8" opacity="0.12"/><path d="M1505.5,591.4 Q1502.8,608.3 1501.9,625.2" stroke="#1040ff" stroke-width="2.3" opacity="0.13"/><path d="M1402.0,472.8 Q1404.9,486.6 1402.4,500.3" stroke="#1040ff" stroke-width="2.8" opacity="0.17"/><path d="M1327.2,665.3 Q1329.2,675.9 1332.0,686.5" stroke="#1040ff" stroke-width="2.3" opacity="0.24"/><path d="M1578.1,519.2 Q1578.1,531.4 1575.9,543.5" stroke="#1040ff" stroke-width="2.4" opacity="0.23"/><path d="M1573.2,541.9 Q1572.2,550.1 1569.7,558.3" stroke="#1040ff" stroke-width="4.5" opacity="0.16"/><path d="M1384.6,613.0 Q1387.1,621.7 1388.2,630.4" stroke="#1040ff" stroke-width="4.2" opacity="0.21"/><path d="M1426.6,596.2 Q1427.3,603.2 1426.1,610.2" stroke="#1040ff" stroke-width="3.7" opacity="0.25"/><path d="M1398.3,555.7 Q1395.5,564.7 1398.4,573.7" stroke="#1040ff" stroke-width="3.4" opacity="0.21"/><path d="M1467.1,569.4 Q1465.2,584.8 1463.6,600.2" stroke="#1040ff" stroke-width="4.3" opacity="0.21"/><path d="M1588.1,633.8 Q1589.9,644.3 1587.2,654.7" stroke="#1040ff" stroke-width="4.5" opacity="0.23"/><path d="M1301.3,689.5 Q1304.7,703.1 1302.8,716.7" stroke="#1040ff" stroke-width="4.1" opacity="0.14"/><path d="M1534.0,647.0 Q1537.1,660.9 1537.7,674.9" stroke="#1040ff" stroke-width="2.2" opacity="0.28"/><path d="M1342.4,649.1 Q1339.6,662.0 1339.4,675.0" stroke="#1040ff" stroke-width="4.2" opacity="0.20"/><path d="M1472.5,486.9 Q1473.0,501.6 1469.9,516.4" stroke="#1040ff" stroke-width="3.2" opacity="0.24"/><path d="M1542.5,641.0 Q1540.0,655.7 1539.0,670.3" stroke="#1040ff" stroke-width="4.0" opacity="0.26"/><ellipse cx="1292.6" cy="404.8" rx="2.8" ry="4.7" fill="#1040ff" stroke="none" opacity="0.23"/><ellipse cx="1535.5" cy="428.8" rx="2.3" ry="3.9" fill="#1040ff" stroke="none" opacity="0.16"/><ellipse cx="1540.6" cy="577.6" rx="4.5" ry="7.5" fill="#1040ff" stroke="none" opacity="0.11"/><ellipse cx="1586.5" cy="455.4" rx="3.7" ry="6.1" fill="#1040ff" stroke="none" opacity="0.23"/><ellipse cx="1500.3" cy="452.5" rx="3.8" ry="6.3" fill="#1040ff" stroke="none" opacity="0.16"/><ellipse cx="1264.5" cy="495.0" rx="2.7" ry="4.6" fill="#1040ff" stroke="none" opacity="0.19"/><ellipse cx="1351.6" cy="573.5" rx="3.9" ry="6.5" fill="#1040ff" stroke="none" opacity="0.13"/><ellipse cx="1301.8" cy="600.5" rx="3.2" ry="5.3" fill="#1040ff" stroke="none" opacity="0.12"/><ellipse cx="1297.8" cy="674.1" rx="3.6" ry="6.1" fill="#1040ff" stroke="none" opacity="0.15"/><ellipse cx="1324.3" cy="690.2" rx="3.9" ry="6.5" fill="#1040ff" stroke="none" opacity="0.21"/><ellipse cx="1378.7" cy="486.2" rx="3.0" ry="5.0" fill="#1040ff" stroke="none" opacity="0.12"/><ellipse cx="1468.4" cy="520.3" rx="4.3" ry="7.1" fill="#1040ff" stroke="none" opacity="0.16"/><ellipse cx="1410.6" cy="544.7" rx="4.6" ry="7.7" fill="#1040ff" stroke="none" opacity="0.15"/><ellipse cx="1492.4" cy="463.8" rx="3.5" ry="5.9" fill="#1040ff" stroke="none" opacity="0.14"/><ellipse cx="1548.3" cy="479.1" rx="4.4" ry="7.3" fill="#1040ff" stroke="none" opacity="0.20"/><ellipse cx="1410.0" cy="671.9" rx="3.0" ry="4.9" fill="#1040ff" stroke="none" opacity="0.21"/><ellipse cx="1458.5" cy="527.4" rx="2.0" ry="3.3" fill="#1040ff" stroke="none" opacity="0.16"/><ellipse cx="1352.5" cy="525.1" rx="4.7" ry="7.8" fill="#1040ff" stroke="none" opacity="0.14"/><ellipse cx="1489.5" cy="594.0" rx="2.5" ry="4.2" fill="#1040ff" stroke="none" opacity="0.16"/><ellipse cx="1303.2" cy="660.5" rx="2.6" ry="4.3" fill="#1040ff" stroke="none" opacity="0.16"/><ellipse cx="1372.5" cy="638.2" rx="4.4" ry="7.3" fill="#1040ff" stroke="none" opacity="0.19"/><ellipse cx="1440.2" cy="423.4" rx="4.5" ry="7.5" fill="#1040ff" stroke="none" opacity="0.11"/><ellipse cx="1379.8" cy="505.4" rx="4.0" ry="6.6" fill="#1040ff" stroke="none" opacity="0.20"/><ellipse cx="1373.3" cy="661.3" rx="4.6" ry="7.7" fill="#1040ff" stroke="none" opacity="0.10"/><ellipse cx="1469.0" cy="533.6" rx="2.9" ry="4.8" fill="#1040ff" stroke="none" opacity="0.17"/></g>
<path d="M1429.4,415.0 C1430.6,415.4 1434.2,416.4 1436.2,417.1 C1438.3,417.9 1439.7,418.6 1441.7,419.3 C1443.8,420.0 1446.5,420.7 1448.6,421.4 C1450.6,422.1 1452.4,422.9 1454.3,423.6 C1456.2,424.3 1458.4,425.0 1460.0,425.7 C1461.7,426.4 1462.1,427.1 1464.0,427.9 C1465.8,428.6 1469.0,429.2 1471.0,430.0 C1473.0,430.8 1474.3,431.9 1476.2,432.9 C1478.0,433.8 1480.0,434.8 1482.0,435.7 C1484.1,436.7 1487.0,437.6 1488.6,438.6 C1490.2,439.5 1489.9,440.5 1491.6,441.4 C1493.2,442.4 1496.4,443.3 1498.5,444.3 C1500.5,445.2 1502.1,446.2 1504.0,447.1 C1505.9,448.1 1509.0,449.5 1510.0,450.0" stroke="#1a48ff" stroke-width="4.5" opacity="0.28" filter="url(#g2)"/>
<path d="M1415.5,415.0 C1414.1,415.2 1409.3,415.7 1407.2,416.0 C1405.0,416.3 1404.8,416.7 1402.5,417.0 C1400.1,417.3 1395.8,417.7 1393.1,418.0 C1390.5,418.3 1389.0,418.7 1386.6,419.0 C1384.2,419.3 1381.2,419.6 1378.9,420.0 C1376.7,420.4 1374.9,421.1 1373.0,421.7 C1371.1,422.2 1369.8,422.8 1367.4,423.3 C1365.0,423.9 1361.3,424.4 1358.8,425.0 C1356.2,425.6 1354.3,426.1 1352.3,426.7 C1350.4,427.2 1349.2,427.8 1347.1,428.3 C1345.1,428.9 1341.2,429.7 1340.0,430.0" stroke="#1a48ff" stroke-width="4.5" opacity="0.28" filter="url(#g2)"/>
<path d="M1353.4,565.0 C1353.2,566.1 1353.1,569.3 1352.6,571.4 C1352.0,573.6 1350.3,575.7 1350.0,577.9 C1349.6,580.0 1350.6,582.1 1350.5,584.3 C1350.4,586.4 1349.5,588.6 1349.1,590.7 C1348.7,592.9 1348.8,595.0 1348.1,597.1 C1347.4,599.3 1345.5,601.4 1345.0,603.6 C1344.5,605.7 1345.2,607.9 1344.9,610.0 C1344.6,612.1 1343.0,614.2 1343.1,616.4 C1343.1,618.5 1344.9,620.6 1345.2,622.7 C1345.5,624.8 1345.1,627.0 1345.0,629.1 C1344.8,631.2 1345.0,633.3 1344.4,635.5 C1343.8,637.6 1341.7,639.7 1341.3,641.8 C1340.9,643.9 1341.7,646.1 1341.8,648.2 C1341.9,650.3 1342.0,652.4 1341.9,654.5 C1341.9,656.7 1341.8,658.8 1341.5,660.9 C1341.1,663.0 1339.8,665.2 1339.7,667.3 C1339.7,669.4 1341.3,671.5 1341.3,673.6 C1341.4,675.8 1340.2,678.9 1340.0,680.0" stroke="#1a48ff" stroke-width="4.5" opacity="0.28" filter="url(#g2)"/>
<path d="M1399.4,530.0 C1399.7,531.1 1400.7,534.2 1400.9,536.4 C1401.1,538.5 1400.4,540.6 1400.7,542.7 C1401.0,544.8 1402.6,547.0 1402.9,549.1 C1403.2,551.2 1402.5,553.3 1402.5,555.5 C1402.6,557.6 1402.8,559.7 1403.3,561.8 C1403.8,563.9 1405.1,566.1 1405.5,568.2 C1405.9,570.3 1405.3,572.4 1405.7,574.5 C1406.2,576.7 1407.8,578.8 1408.1,580.9 C1408.4,583.0 1407.3,585.2 1407.4,587.3 C1407.5,589.4 1408.6,591.5 1408.8,593.6 C1409.0,595.8 1408.5,597.9 1408.7,600.0 C1408.8,602.1 1409.2,604.1 1409.5,606.2 C1409.9,608.2 1410.3,610.3 1410.6,612.3 C1410.9,614.4 1411.2,616.4 1411.3,618.5 C1411.5,620.5 1411.1,622.6 1411.4,624.6 C1411.7,626.7 1413.0,628.7 1413.0,630.8 C1412.9,632.8 1411.0,634.9 1411.1,636.9 C1411.2,639.0 1413.6,641.0 1413.7,643.1 C1413.9,645.1 1411.9,647.2 1412.0,649.2 C1412.2,651.3 1414.6,653.3 1414.9,655.4 C1415.2,657.4 1414.1,659.5 1413.9,661.5 C1413.8,663.6 1413.8,665.6 1414.0,667.7 C1414.1,669.7 1414.8,671.8 1415.0,673.8 C1415.1,675.9 1415.0,679.0 1415.0,680.0" stroke="#1a48ff" stroke-width="4.5" opacity="0.28" filter="url(#g2)"/>
<path d="M1501.1,570.0 C1501.5,571.0 1502.9,574.0 1503.4,576.0 C1503.8,578.0 1503.5,580.0 1503.7,582.0 C1503.9,584.0 1504.0,586.0 1504.5,588.0 C1505.1,590.0 1505.9,592.0 1507.0,594.0 C1508.0,596.0 1510.0,598.0 1511.0,600.0 C1511.9,602.0 1512.1,604.0 1512.7,606.0 C1513.3,608.0 1514.3,610.0 1514.6,612.0 C1515.0,614.0 1514.4,616.0 1515.0,618.0 C1515.5,620.0 1517.5,622.0 1518.1,624.0 C1518.7,626.0 1518.3,628.0 1518.6,630.0 C1518.9,632.0 1519.4,634.0 1519.8,636.0 C1520.3,638.0 1520.6,640.0 1521.4,642.0 C1522.2,644.0 1523.9,646.0 1524.4,648.0 C1524.9,650.0 1524.2,652.0 1524.4,654.0 C1524.7,656.0 1526.0,658.0 1526.0,660.0 C1526.1,662.0 1524.5,664.0 1524.6,666.0 C1524.8,668.0 1526.4,670.0 1526.7,672.0 C1527.1,674.0 1526.5,676.0 1526.7,678.0 C1527.0,680.0 1527.7,682.0 1528.3,684.0 C1528.8,686.0 1529.7,689.0 1530.0,690.0" stroke="#1a48ff" stroke-width="4.5" opacity="0.28" filter="url(#g2)"/>
<path d="M1318.8,480.0 C1319.0,481.0 1320.1,484.1 1319.7,486.2 C1319.3,488.2 1317.1,490.3 1316.4,492.3 C1315.7,494.4 1315.7,496.4 1315.4,498.5 C1315.0,500.5 1314.6,502.6 1314.3,504.6 C1314.0,506.7 1313.8,508.7 1313.5,510.8 C1313.1,512.8 1312.8,514.9 1312.1,516.9 C1311.4,519.0 1310.2,521.0 1309.4,523.1 C1308.7,525.1 1308.0,527.2 1307.7,529.2 C1307.4,531.3 1307.9,533.3 1307.4,535.4 C1306.8,537.4 1305.1,539.5 1304.3,541.5 C1303.5,543.6 1302.8,545.6 1302.5,547.7 C1302.1,549.7 1302.8,551.8 1302.3,553.8 C1301.7,555.9 1299.8,558.0 1299.3,560.0 C1298.8,562.0 1299.3,564.0 1299.3,566.0 C1299.2,568.0 1299.2,570.0 1299.1,572.0 C1299.1,574.0 1299.1,576.0 1298.9,578.0 C1298.8,580.0 1298.4,582.0 1298.2,584.0 C1298.1,586.0 1298.2,588.0 1298.1,590.0 C1298.1,592.0 1298.2,594.0 1297.9,596.0 C1297.6,598.0 1296.2,600.0 1296.3,602.0 C1296.4,604.0 1298.4,606.0 1298.3,608.0 C1298.2,610.0 1296.0,612.0 1295.7,614.0 C1295.4,616.0 1296.6,618.0 1296.8,620.0 C1296.9,622.0 1296.7,624.0 1296.5,626.0 C1296.3,628.0 1296.0,630.0 1295.7,632.0 C1295.4,634.0 1295.1,636.0 1294.8,638.0 C1294.6,640.0 1294.1,642.0 1294.1,644.0 C1294.2,646.0 1294.9,649.0 1295.0,650.0" stroke="#1a48ff" stroke-width="4.5" opacity="0.28" filter="url(#g2)"/>
<path d="M1539.6,520.0 C1539.7,521.0 1539.9,524.1 1540.2,526.2 C1540.5,528.2 1541.3,530.3 1541.5,532.3 C1541.7,534.4 1541.1,536.4 1541.5,538.5 C1541.9,540.5 1543.4,542.6 1543.8,544.6 C1544.2,546.7 1543.9,548.7 1543.8,550.8 C1543.7,552.8 1542.9,554.9 1543.1,556.9 C1543.4,559.0 1544.4,561.0 1545.1,563.1 C1545.8,565.1 1547.5,567.2 1547.6,569.2 C1547.6,571.3 1545.4,573.3 1545.4,575.4 C1545.5,577.4 1547.2,579.5 1548.0,581.5 C1548.7,583.6 1549.7,585.6 1549.8,587.7 C1550.0,589.7 1548.8,591.8 1548.8,593.8 C1548.9,595.9 1549.8,599.0 1550.0,600.0" stroke="#1a48ff" stroke-width="4.5" opacity="0.28" filter="url(#g2)"/>
<path d="M1450.3,520.0 C1450.2,521.0 1449.8,524.2 1449.7,526.2 C1449.6,528.3 1449.5,530.4 1449.7,532.5 C1449.8,534.6 1450.5,536.7 1450.7,538.8 C1450.9,540.8 1450.9,542.9 1450.8,545.0 C1450.7,547.1 1450.1,549.2 1450.1,551.2 C1450.1,553.3 1450.6,555.4 1450.7,557.5 C1450.9,559.6 1450.8,561.7 1450.9,563.8 C1451.1,565.8 1452.0,567.9 1451.8,570.0 C1451.6,572.1 1450.1,574.2 1449.8,576.2 C1449.5,578.3 1449.9,580.4 1450.0,582.5 C1450.2,584.6 1450.5,586.7 1450.6,588.8 C1450.8,590.8 1450.5,592.9 1450.8,595.0 C1451.1,597.1 1452.4,599.2 1452.5,601.2 C1452.6,603.3 1451.5,605.4 1451.5,607.5 C1451.6,609.6 1452.9,611.7 1453.0,613.8 C1453.0,615.8 1452.2,619.0 1452.0,620.0" stroke="#1a48ff" stroke-width="4.5" opacity="0.28" filter="url(#g2)"/>
<path d="M1459.7,470.0 C1460.5,470.6 1462.6,472.5 1464.4,473.8 C1466.2,475.0 1469.0,476.2 1470.5,477.5 C1472.1,478.8 1471.9,480.0 1473.8,481.2 C1475.6,482.5 1479.4,483.8 1481.5,485.0 C1483.5,486.2 1484.7,487.5 1486.0,488.8 C1487.3,490.0 1488.1,491.2 1489.5,492.5 C1490.9,493.8 1492.5,495.0 1494.5,496.2 C1496.4,497.5 1499.3,498.5 1501.0,500.0 C1502.7,501.5 1503.5,503.3 1504.6,505.0 C1505.8,506.7 1507.0,508.3 1507.9,510.0 C1508.8,511.7 1508.6,513.3 1509.9,515.0 C1511.2,516.7 1514.5,518.3 1515.8,520.0 C1517.0,521.7 1516.2,523.3 1517.4,525.0 C1518.6,526.7 1521.4,528.3 1522.9,530.0 C1524.4,531.7 1525.2,533.3 1526.4,535.0 C1527.6,536.7 1529.4,539.2 1530.0,540.0" stroke="#1a48ff" stroke-width="4.5" opacity="0.28" filter="url(#g2)"/>
<g filter="url(#g07)"><path d="M1437.0,433.8 L1436.1,439.8 L1436.2,445.8 L1436.2,451.8 L1436.6,457.7 L1436.0,463.7 L1436.4,469.7 L1436.7,475.7" stroke="#0a50ff" stroke-width="2.0" opacity="0.48"/><path d="M1436.9,433.6 L1433.3,438.4 L1430.2,443.5 L1427.4,448.8" stroke="#0a50ff" stroke-width="1.5" opacity="0.41"/><path d="M1438.1,438.5 L1437.3,444.5 L1437.1,450.5 L1437.0,456.5 L1437.7,462.4 L1437.5,468.4 L1436.6,474.4 L1435.6,480.3 L1434.9,486.2 L1433.5,492.1" stroke="#0a50ff" stroke-width="2.1" opacity="0.55"/><path d="M1437.1,434.5 L1437.0,440.5 L1437.4,446.5 L1437.0,452.5 L1437.7,458.4 L1439.2,464.2 L1440.6,470.1 L1442.3,475.8" stroke="#0a50ff" stroke-width="1.7" opacity="0.54"/><path d="M1438.2,438.9 L1436.0,444.5 L1433.6,450.0 L1431.2,455.5 L1429.5,461.2" stroke="#0a50ff" stroke-width="1.8" opacity="0.50"/><path d="M1437.9,437.4 L1441.4,442.3 L1444.4,447.5 L1447.2,452.8 L1450.5,457.8" stroke="#0a50ff" stroke-width="1.4" opacity="0.47"/><path d="M1438.0,438.2 L1438.2,444.2 L1438.8,450.1 L1439.1,456.1 L1439.7,462.1" stroke="#0a50ff" stroke-width="1.5" opacity="0.46"/><path d="M1471.2,498.6 L1471.7,504.6 L1471.5,510.6 L1471.7,516.6 L1472.5,522.5 L1473.5,528.5 L1475.3,534.2 L1477.2,539.9 L1478.3,545.8 L1479.6,551.6 L1482.0,557.1 L1485.2,562.2 L1488.9,566.9" stroke="#0a50ff" stroke-width="1.6" opacity="0.62"/><path d="M1477.0,513.9 L1476.6,519.9 L1477.0,525.9 L1478.3,531.8 L1479.2,537.7 L1479.8,543.7" stroke="#0a50ff" stroke-width="1.8" opacity="0.69"/><path d="M1490.9,546.3 L1493.6,551.6 L1496.2,557.0 L1498.3,562.6 L1500.6,568.2 L1501.9,574.0 L1503.3,579.9 L1505.2,585.6 L1507.2,591.2 L1510.2,596.5 L1513.2,601.6 L1516.8,606.5 L1519.6,611.8" stroke="#0a50ff" stroke-width="1.7" opacity="0.64"/><path d="M1454.5,469.3 L1455.8,475.2 L1457.4,481.0 L1459.4,486.6 L1461.8,492.1 L1463.4,497.9 L1465.3,503.6 L1468.0,508.9 L1470.6,514.3" stroke="#0a50ff" stroke-width="1.9" opacity="0.69"/><path d="M1506.3,570.0 L1505.2,575.9 L1504.7,581.9 L1503.4,587.7 L1501.4,593.4 L1498.5,598.6 L1495.9,604.0 L1493.1,609.3 L1489.7,614.3" stroke="#0a50ff" stroke-width="2.0" opacity="0.57"/><path d="M1488.2,540.9 L1486.2,546.5 L1484.4,552.3 L1482.6,558.0 L1480.1,563.4 L1478.0,569.1 L1475.7,574.6 L1474.0,580.4 L1472.5,586.2 L1470.7,591.9 L1468.5,597.5" stroke="#0a50ff" stroke-width="2.1" opacity="0.44"/><path d="M1503.2,565.4 L1501.6,571.2 L1499.2,576.7 L1497.4,582.4 L1496.5,588.3 L1494.8,594.1 L1494.1,600.0 L1492.6,605.9 L1491.9,611.8" stroke="#0a50ff" stroke-width="2.0" opacity="0.63"/><path d="M1482.5,557.4 L1479.3,562.4 L1476.4,567.7 L1472.8,572.5 L1468.8,577.0 L1464.8,581.4" stroke="#0a50ff" stroke-width="1.2" opacity="0.53"/><path d="M1482.0,543.4 L1485.3,548.3 L1488.2,553.6 L1491.9,558.3 L1496.3,562.5 L1500.0,567.1 L1503.1,572.3 L1506.5,577.2 L1510.2,582.0" stroke="#0a50ff" stroke-width="2.2" opacity="0.38"/><path d="M1486.7,598.7 L1485.0,604.4 L1483.3,610.2 L1480.7,615.6 L1478.9,621.3 L1477.9,627.2 L1476.7,633.1" stroke="#0a50ff" stroke-width="1.7" opacity="0.66"/><path d="M1486.8,599.4 L1484.9,605.1 L1482.1,610.5 L1479.1,615.6 L1475.3,620.3 L1471.6,625.0 L1468.5,630.2 L1465.4,635.3" stroke="#0a50ff" stroke-width="1.4" opacity="0.48"/><path d="M1486.3,643.2 L1486.3,649.2 L1485.4,655.1 L1484.1,661.0 L1483.8,667.0 L1483.9,673.0 L1483.9,679.0" stroke="#0a50ff" stroke-width="1.9" opacity="0.52"/><path d="M1487.0,601.9 L1487.3,607.9 L1488.1,613.9 L1489.6,619.7 L1490.3,625.6 L1492.1,631.4 L1494.7,636.8 L1496.6,642.5" stroke="#0a50ff" stroke-width="2.1" opacity="0.54"/><path d="M1484.1,693.8 L1485.1,699.8 L1485.8,705.7 L1486.6,711.7 L1488.2,717.5 L1489.2,723.4 L1490.5,729.2 L1491.4,735.2 L1493.1,740.9 L1495.7,746.3 L1498.8,751.4 L1501.5,756.8" stroke="#0a50ff" stroke-width="2.1" opacity="0.41"/><path d="M1406.5,423.2 L1403.5,428.4 L1401.3,433.9 L1398.8,439.4 L1395.6,444.5 L1392.6,449.7 L1390.0,455.1 L1387.9,460.7 L1385.1,466.0 L1382.1,471.2" stroke="#0a50ff" stroke-width="2.0" opacity="0.53"/><path d="M1416.0,413.4 L1414.3,419.1 L1412.4,424.8 L1410.5,430.5 L1408.5,436.2 L1405.7,441.5 L1402.4,446.5 L1398.3,450.8 L1394.8,455.7 L1391.1,460.5 L1387.1,464.9 L1382.7,469.0 L1378.2,473.0" stroke="#0a50ff" stroke-width="1.5" opacity="0.64"/><path d="M1393.7,457.2 L1392.5,463.1 L1391.7,469.0 L1391.4,475.0 L1391.5,481.0 L1391.4,487.0 L1390.2,492.9 L1388.2,498.5 L1386.4,504.3 L1384.8,510.0 L1382.6,515.6 L1380.8,521.3" stroke="#0a50ff" stroke-width="1.2" opacity="0.49"/><path d="M1408.1,420.6 L1407.8,426.6 L1407.6,432.6 L1407.7,438.6 L1408.8,444.5 L1409.8,450.4 L1410.9,456.3 L1411.1,462.3 L1411.0,468.3" stroke="#0a50ff" stroke-width="2.0" opacity="0.47"/><path d="M1416.3,413.2 L1416.5,419.2 L1416.5,425.2 L1417.3,431.1 L1417.3,437.1 L1418.2,443.0 L1419.8,448.8 L1422.4,454.3 L1425.1,459.6 L1427.6,465.0" stroke="#0a50ff" stroke-width="1.9" opacity="0.57"/><path d="M1400.0,445.6 L1400.6,451.6 L1402.2,457.3 L1404.2,463.0 L1406.9,468.4" stroke="#0a50ff" stroke-width="2.2" opacity="0.37"/><path d="M1404.5,427.0 L1404.2,433.0 L1404.1,439.0 L1404.7,445.0 L1404.9,451.0 L1406.0,456.9" stroke="#0a50ff" stroke-width="1.2" opacity="0.48"/><path d="M1380.8,487.4 L1383.5,492.8 L1386.9,497.7 L1391.0,502.2 L1394.3,507.1 L1398.1,511.8 L1402.1,516.3 L1405.8,521.0 L1408.8,526.2 L1412.2,531.1 L1415.7,536.0 L1419.4,540.7" stroke="#0a50ff" stroke-width="2.1" opacity="0.36"/><path d="M1389.4,464.0 L1388.0,469.8 L1386.3,475.5 L1385.5,481.5 L1385.4,487.5" stroke="#0a50ff" stroke-width="2.1" opacity="0.35"/><path d="M1380.3,492.9 L1379.9,498.9 L1379.2,504.8 L1378.0,510.7 L1377.1,516.6 L1377.0,522.6 L1376.7,528.6 L1377.2,534.6 L1377.7,540.6 L1377.3,546.6 L1377.2,552.6" stroke="#0a50ff" stroke-width="2.0" opacity="0.68"/><path d="M1359.0,545.5 L1362.8,550.1 L1366.1,555.2 L1369.0,560.4 L1372.4,565.4 L1375.0,570.8 L1377.3,576.3 L1380.0,581.7 L1382.0,587.3 L1383.2,593.2" stroke="#0a50ff" stroke-width="2.1" opacity="0.66"/><path d="M1388.0,465.9 L1388.1,471.9 L1389.1,477.9 L1389.6,483.8 L1390.1,489.8 L1390.5,495.8 L1390.8,501.8 L1391.5,507.7 L1392.9,513.6 L1395.1,519.2 L1396.7,524.9 L1397.6,530.9 L1398.0,536.9" stroke="#0a50ff" stroke-width="2.2" opacity="0.39"/><path d="M1390.6,462.5 L1391.8,468.3 L1392.2,474.3 L1391.6,480.3 L1392.0,486.3 L1392.1,492.3 L1392.7,498.2" stroke="#0a50ff" stroke-width="1.9" opacity="0.44"/><path d="M1363.8,534.4 L1365.2,540.2 L1367.5,545.8 L1370.0,551.2 L1371.5,557.0 L1372.5,562.9 L1372.8,568.9 L1373.4,574.9" stroke="#0a50ff" stroke-width="2.0" opacity="0.59"/><path d="M1359.3,544.7 L1360.8,550.6 L1362.4,556.3 L1363.0,562.3 L1363.9,568.2 L1364.0,574.2" stroke="#0a50ff" stroke-width="2.1" opacity="0.68"/><path d="M1367.3,527.4 L1366.3,533.3 L1366.3,539.3 L1366.8,545.3 L1367.8,551.2 L1367.9,557.2" stroke="#0a50ff" stroke-width="2.0" opacity="0.40"/><path d="M1369.8,522.4 L1367.2,527.8 L1363.8,532.8 L1360.9,538.0 L1358.5,543.5 L1355.8,548.9 L1352.7,554.0 L1349.3,559.0 L1346.7,564.4 L1344.1,569.8" stroke="#0a50ff" stroke-width="1.3" opacity="0.42"/><path d="M1358.7,546.3 L1362.0,551.3 L1365.2,556.4 L1368.1,561.6 L1370.2,567.2 L1373.1,572.5 L1375.4,578.0 L1378.3,583.3 L1380.8,588.8 L1384.1,593.7 L1386.9,599.0 L1390.4,604.0 L1394.3,608.5" stroke="#0a50ff" stroke-width="1.5" opacity="0.36"/><path d="M1364.4,533.3 L1361.4,538.4 L1359.0,543.9 L1356.1,549.2 L1354.1,554.9 L1353.0,560.8 L1352.6,566.7 L1351.2,572.6 L1349.1,578.2 L1346.6,583.6 L1344.5,589.3 L1341.7,594.6" stroke="#0a50ff" stroke-width="1.7" opacity="0.58"/><path d="M1370.1,521.6 L1370.9,527.6 L1372.2,533.4 L1373.5,539.3 L1375.1,545.1 L1377.6,550.5 L1379.2,556.3 L1381.5,561.9 L1384.1,567.3 L1387.0,572.5" stroke="#0a50ff" stroke-width="2.1" opacity="0.48"/><path d="M1359.5,544.5 L1361.2,550.2 L1363.4,555.8 L1364.7,561.6 L1366.6,567.3 L1368.4,573.0 L1371.2,578.4 L1374.6,583.3 L1378.4,587.9" stroke="#0a50ff" stroke-width="1.5" opacity="0.59"/><path d="M1383.9,517.0 L1380.0,521.6 L1376.7,526.6 L1372.5,530.9 L1368.2,535.1 L1364.2,539.5 L1360.9,544.5 L1357.3,549.3 L1353.8,554.2 L1349.9,558.7 L1345.3,562.7" stroke="#0a50ff" stroke-width="1.4" opacity="0.60"/><path d="M1387.5,487.6 L1387.0,493.6 L1385.6,499.4 L1384.2,505.2 L1383.4,511.2 L1382.3,517.1 L1381.1,522.9 L1379.6,528.8 L1377.7,534.5 L1376.8,540.4 L1376.0,546.3 L1374.6,552.2" stroke="#0a50ff" stroke-width="1.2" opacity="0.40"/><path d="M1390.4,478.0 L1392.4,483.7 L1394.6,489.3 L1396.4,495.0 L1397.3,500.9 L1397.5,506.9 L1397.4,512.9 L1397.2,518.9 L1397.2,524.9 L1397.1,530.9 L1396.0,536.8" stroke="#0a50ff" stroke-width="1.4" opacity="0.36"/><path d="M1390.9,476.7 L1388.1,482.1 L1385.9,487.6 L1384.4,493.4 L1382.8,499.2" stroke="#0a50ff" stroke-width="2.0" opacity="0.40"/><path d="M1385.4,497.1 L1388.1,502.5 L1390.5,508.0 L1392.9,513.5 L1395.7,518.8 L1399.3,523.6 L1402.9,528.4 L1405.9,533.6 L1409.5,538.4 L1413.0,543.3 L1416.9,547.8 L1420.5,552.6 L1423.3,557.9" stroke="#0a50ff" stroke-width="1.5" opacity="0.66"/><path d="M1384.9,500.1 L1385.3,506.0 L1385.9,512.0 L1387.2,517.9 L1388.1,523.8 L1388.3,529.8 L1388.0,535.8 L1388.7,541.8 L1389.9,547.6 L1390.8,553.6" stroke="#0a50ff" stroke-width="1.4" opacity="0.42"/><path d="M1393.2,470.9 L1397.2,475.4 L1401.1,479.9 L1405.2,484.3" stroke="#0a50ff" stroke-width="1.8" opacity="0.38"/></g>
<path d="M1440.1,444.3 C1440.6,445.3 1442.1,448.2 1442.9,450.1 C1443.8,452.1 1444.1,454.0 1445.3,456.0 C1446.6,458.0 1449.2,460.2 1450.6,462.3 C1452.1,464.4 1453.4,467.6 1454.0,468.6" stroke="#0040ff" stroke-width="5.0" opacity="0.5" filter="url(#g2)"/>
<path d="M1440.1,444.3 C1440.6,445.3 1442.1,448.2 1442.9,450.1 C1443.8,452.1 1444.1,454.0 1445.3,456.0 C1446.6,458.0 1449.2,460.2 1450.6,462.3 C1452.1,464.4 1453.4,467.6 1454.0,468.6" stroke="#0060ff" stroke-width="2.2" opacity="0.8" filter="url(#g07)"/>
<path d="M1396.0,470.9 C1396.2,471.9 1397.2,475.1 1397.7,477.2 C1398.2,479.3 1398.1,481.4 1398.8,483.5 C1399.5,485.6 1401.2,487.7 1401.8,489.8 C1402.5,491.9 1402.2,494.0 1402.6,496.1 C1402.9,498.2 1403.6,500.3 1404.1,502.4 C1404.6,504.5 1405.3,506.6 1405.7,508.7 C1406.1,510.8 1406.3,512.9 1406.4,515.0 C1406.4,517.1 1405.8,519.2 1406.0,521.3 C1406.2,523.4 1407.2,526.5 1407.4,527.6" stroke="#0040ff" stroke-width="5.0" opacity="0.5" filter="url(#g2)"/>
<path d="M1396.0,470.9 C1396.2,471.9 1397.2,475.1 1397.7,477.2 C1398.2,479.3 1398.1,481.4 1398.8,483.5 C1399.5,485.6 1401.2,487.7 1401.8,489.8 C1402.5,491.9 1402.2,494.0 1402.6,496.1 C1402.9,498.2 1403.6,500.3 1404.1,502.4 C1404.6,504.5 1405.3,506.6 1405.7,508.7 C1406.1,510.8 1406.3,512.9 1406.4,515.0 C1406.4,517.1 1405.8,519.2 1406.0,521.3 C1406.2,523.4 1407.2,526.5 1407.4,527.6" stroke="#0060ff" stroke-width="2.2" opacity="0.8" filter="url(#g07)"/>
<path d="M1390.4,460.0 C1389.4,459.6 1386.4,458.2 1384.7,457.3 C1382.9,456.4 1381.6,455.6 1379.9,454.7 C1378.1,453.8 1375.9,452.1 1374.1,452.0 C1372.4,451.9 1371.1,453.6 1369.5,454.4 C1367.9,455.1 1366.4,455.9 1364.8,456.7 C1363.1,457.5 1361.2,458.3 1359.6,459.0 C1358.0,459.8 1356.7,460.7 1355.1,461.4 C1353.6,462.1 1352.3,462.8 1350.4,463.5 C1348.6,464.2 1346.1,464.9 1344.2,465.5 C1342.3,466.2 1340.6,466.9 1339.0,467.6 C1337.3,468.3 1335.0,469.4 1334.2,469.7" stroke="#0040ff" stroke-width="5.0" opacity="0.5" filter="url(#g2)"/>
<path d="M1390.4,460.0 C1389.4,459.6 1386.4,458.2 1384.7,457.3 C1382.9,456.4 1381.6,455.6 1379.9,454.7 C1378.1,453.8 1375.9,452.1 1374.1,452.0 C1372.4,451.9 1371.1,453.6 1369.5,454.4 C1367.9,455.1 1366.4,455.9 1364.8,456.7 C1363.1,457.5 1361.2,458.3 1359.6,459.0 C1358.0,459.8 1356.7,460.7 1355.1,461.4 C1353.6,462.1 1352.3,462.8 1350.4,463.5 C1348.6,464.2 1346.1,464.9 1344.2,465.5 C1342.3,466.2 1340.6,466.9 1339.0,467.6 C1337.3,468.3 1335.0,469.4 1334.2,469.7" stroke="#0060ff" stroke-width="2.2" opacity="0.8" filter="url(#g07)"/>
<path d="M1422.5,410.0 C1421.2,410.7 1416.6,412.9 1414.7,414.2 C1412.8,415.5 1412.3,416.6 1411.0,417.8 C1409.7,418.9 1407.9,419.9 1406.9,421.3 C1405.8,422.7 1405.3,424.4 1404.5,426.0 C1403.8,427.6 1402.7,428.9 1402.4,430.7 C1402.1,432.5 1402.9,434.6 1402.7,436.6 C1402.6,438.6 1402.2,440.5 1401.6,442.5 C1401.0,444.5 1400.2,446.4 1399.1,448.4 C1398.1,450.4 1396.6,452.1 1395.2,454.3 C1393.8,456.5 1391.6,460.2 1390.9,461.4" stroke="#0030ff" stroke-width="7.0" opacity="0.45" filter="url(#g3)"/>
<path d="M1422.5,410.0 C1421.2,410.7 1416.6,412.9 1414.7,414.2 C1412.8,415.5 1412.3,416.6 1411.0,417.8 C1409.7,418.9 1407.9,419.9 1406.9,421.3 C1405.8,422.7 1405.3,424.4 1404.5,426.0 C1403.8,427.6 1402.7,428.9 1402.4,430.7 C1402.1,432.5 1402.9,434.6 1402.7,436.6 C1402.6,438.6 1402.2,440.5 1401.6,442.5 C1401.0,444.5 1400.2,446.4 1399.1,448.4 C1398.1,450.4 1396.6,452.1 1395.2,454.3 C1393.8,456.5 1391.6,460.2 1390.9,461.4" stroke="#0068ff" stroke-width="4.2" opacity="0.9" filter="url(#g15)"/>
<path d="M1422.5,410.0 C1421.2,410.7 1416.6,412.9 1414.7,414.2 C1412.8,415.5 1412.3,416.6 1411.0,417.8 C1409.7,418.9 1407.9,419.9 1406.9,421.3 C1405.8,422.7 1405.3,424.4 1404.5,426.0 C1403.8,427.6 1402.7,428.9 1402.4,430.7 C1402.1,432.5 1402.9,434.6 1402.7,436.6 C1402.6,438.6 1402.2,440.5 1401.6,442.5 C1401.0,444.5 1400.2,446.4 1399.1,448.4 C1398.1,450.4 1396.6,452.1 1395.2,454.3 C1393.8,456.5 1391.6,460.2 1390.9,461.4" stroke="#18a8ff" stroke-width="2.7" filter="url(#g07)"/>
<path d="M1422.5,410.0 C1421.2,410.7 1416.6,412.9 1414.7,414.2 C1412.8,415.5 1412.3,416.6 1411.0,417.8 C1409.7,418.9 1407.9,419.9 1406.9,421.3 C1405.8,422.7 1405.3,424.4 1404.5,426.0 C1403.8,427.6 1402.7,428.9 1402.4,430.7 C1402.1,432.5 1402.9,434.6 1402.7,436.6 C1402.6,438.6 1402.2,440.5 1401.6,442.5 C1401.0,444.5 1400.2,446.4 1399.1,448.4 C1398.1,450.4 1396.6,452.1 1395.2,454.3 C1393.8,456.5 1391.6,460.2 1390.9,461.4" stroke="#48d8ff" stroke-width="1.0" opacity="0.85" filter="url(#g05)"/>
<path d="M1390.8,462.0 C1390.0,463.1 1387.2,466.4 1386.2,468.5 C1385.1,470.6 1385.1,472.4 1384.2,474.4 C1383.3,476.4 1381.4,478.1 1380.9,480.3 C1380.4,482.5 1381.4,485.0 1381.3,487.4 C1381.2,489.8 1380.7,492.3 1380.2,494.5 C1379.6,496.7 1378.4,498.4 1377.8,500.4 C1377.2,502.4 1377.2,504.4 1376.6,506.3 C1376.0,508.2 1374.9,510.0 1374.2,511.8 C1373.4,513.6 1372.9,515.5 1372.2,517.3 C1371.6,519.1 1371.0,521.1 1370.2,522.8 C1369.4,524.5 1368.1,526.0 1367.2,527.5 C1366.4,529.1 1365.9,530.7 1365.1,532.3 C1364.3,533.8 1363.0,535.4 1362.3,537.0 C1361.6,538.6 1361.6,540.2 1360.9,541.7 C1360.2,543.3 1358.7,544.9 1358.0,546.5 C1357.3,548.0 1357.5,549.2 1356.9,551.2 C1356.3,553.2 1355.0,555.9 1354.4,558.3 C1353.7,560.7 1353.3,564.2 1353.1,565.4" stroke="#0030ff" stroke-width="7.0" opacity="0.45" filter="url(#g3)"/>
<path d="M1390.8,462.0 C1390.0,463.1 1387.2,466.4 1386.2,468.5 C1385.1,470.6 1385.1,472.4 1384.2,474.4 C1383.3,476.4 1381.4,478.1 1380.9,480.3 C1380.4,482.5 1381.4,485.0 1381.3,487.4 C1381.2,489.8 1380.7,492.3 1380.2,494.5 C1379.6,496.7 1378.4,498.4 1377.8,500.4 C1377.2,502.4 1377.2,504.4 1376.6,506.3 C1376.0,508.2 1374.9,510.0 1374.2,511.8 C1373.4,513.6 1372.9,515.5 1372.2,517.3 C1371.6,519.1 1371.0,521.1 1370.2,522.8 C1369.4,524.5 1368.1,526.0 1367.2,527.5 C1366.4,529.1 1365.9,530.7 1365.1,532.3 C1364.3,533.8 1363.0,535.4 1362.3,537.0 C1361.6,538.6 1361.6,540.2 1360.9,541.7 C1360.2,543.3 1358.7,544.9 1358.0,546.5 C1357.3,548.0 1357.5,549.2 1356.9,551.2 C1356.3,553.2 1355.0,555.9 1354.4,558.3 C1353.7,560.7 1353.3,564.2 1353.1,565.4" stroke="#0068ff" stroke-width="4.2" opacity="0.9" filter="url(#g15)"/>
<path d="M1390.8,462.0 C1390.0,463.1 1387.2,466.4 1386.2,468.5 C1385.1,470.6 1385.1,472.4 1384.2,474.4 C1383.3,476.4 1381.4,478.1 1380.9,480.3 C1380.4,482.5 1381.4,485.0 1381.3,487.4 C1381.2,489.8 1380.7,492.3 1380.2,494.5 C1379.6,496.7 1378.4,498.4 1377.8,500.4 C1377.2,502.4 1377.2,504.4 1376.6,506.3 C1376.0,508.2 1374.9,510.0 1374.2,511.8 C1373.4,513.6 1372.9,515.5 1372.2,517.3 C1371.6,519.1 1371.0,521.1 1370.2,522.8 C1369.4,524.5 1368.1,526.0 1367.2,527.5 C1366.4,529.1 1365.9,530.7 1365.1,532.3 C1364.3,533.8 1363.0,535.4 1362.3,537.0 C1361.6,538.6 1361.6,540.2 1360.9,541.7 C1360.2,543.3 1358.7,544.9 1358.0,546.5 C1357.3,548.0 1357.5,549.2 1356.9,551.2 C1356.3,553.2 1355.0,555.9 1354.4,558.3 C1353.7,560.7 1353.3,564.2 1353.1,565.4" stroke="#18a8ff" stroke-width="2.7" filter="url(#g07)"/>
<path d="M1390.8,462.0 C1390.0,463.1 1387.2,466.4 1386.2,468.5 C1385.1,470.6 1385.1,472.4 1384.2,474.4 C1383.3,476.4 1381.4,478.1 1380.9,480.3 C1380.4,482.5 1381.4,485.0 1381.3,487.4 C1381.2,489.8 1380.7,492.3 1380.2,494.5 C1379.6,496.7 1378.4,498.4 1377.8,500.4 C1377.2,502.4 1377.2,504.4 1376.6,506.3 C1376.0,508.2 1374.9,510.0 1374.2,511.8 C1373.4,513.6 1372.9,515.5 1372.2,517.3 C1371.6,519.1 1371.0,521.1 1370.2,522.8 C1369.4,524.5 1368.1,526.0 1367.2,527.5 C1366.4,529.1 1365.9,530.7 1365.1,532.3 C1364.3,533.8 1363.0,535.4 1362.3,537.0 C1361.6,538.6 1361.6,540.2 1360.9,541.7 C1360.2,543.3 1358.7,544.9 1358.0,546.5 C1357.3,548.0 1357.5,549.2 1356.9,551.2 C1356.3,553.2 1355.0,555.9 1354.4,558.3 C1353.7,560.7 1353.3,564.2 1353.1,565.4" stroke="#48d8ff" stroke-width="1.0" opacity="0.85" filter="url(#g05)"/>
<path d="M1391.0,462.0 C1391.3,463.5 1392.8,468.4 1392.8,470.9 C1392.7,473.4 1391.4,474.8 1390.6,476.8 C1389.8,478.8 1388.6,480.8 1388.0,482.7 C1387.4,484.6 1387.4,486.4 1387.1,488.2 C1386.8,490.0 1386.6,491.9 1386.3,493.7 C1385.9,495.5 1385.3,497.2 1385.0,499.2 C1384.7,501.2 1384.6,503.4 1384.4,505.5 C1384.3,507.6 1384.4,509.7 1384.3,511.8 C1384.2,513.9 1383.9,517.1 1383.8,518.1" stroke="#0030ff" stroke-width="7.0" opacity="0.45" filter="url(#g3)"/>
<path d="M1391.0,462.0 C1391.3,463.5 1392.8,468.4 1392.8,470.9 C1392.7,473.4 1391.4,474.8 1390.6,476.8 C1389.8,478.8 1388.6,480.8 1388.0,482.7 C1387.4,484.6 1387.4,486.4 1387.1,488.2 C1386.8,490.0 1386.6,491.9 1386.3,493.7 C1385.9,495.5 1385.3,497.2 1385.0,499.2 C1384.7,501.2 1384.6,503.4 1384.4,505.5 C1384.3,507.6 1384.4,509.7 1384.3,511.8 C1384.2,513.9 1383.9,517.1 1383.8,518.1" stroke="#0068ff" stroke-width="4.2" opacity="0.9" filter="url(#g15)"/>
<path d="M1391.0,462.0 C1391.3,463.5 1392.8,468.4 1392.8,470.9 C1392.7,473.4 1391.4,474.8 1390.6,476.8 C1389.8,478.8 1388.6,480.8 1388.0,482.7 C1387.4,484.6 1387.4,486.4 1387.1,488.2 C1386.8,490.0 1386.6,491.9 1386.3,493.7 C1385.9,495.5 1385.3,497.2 1385.0,499.2 C1384.7,501.2 1384.6,503.4 1384.4,505.5 C1384.3,507.6 1384.4,509.7 1384.3,511.8 C1384.2,513.9 1383.9,517.1 1383.8,518.1" stroke="#18a8ff" stroke-width="2.7" filter="url(#g07)"/>
<path d="M1391.0,462.0 C1391.3,463.5 1392.8,468.4 1392.8,470.9 C1392.7,473.4 1391.4,474.8 1390.6,476.8 C1389.8,478.8 1388.6,480.8 1388.0,482.7 C1387.4,484.6 1387.4,486.4 1387.1,488.2 C1386.8,490.0 1386.6,491.9 1386.3,493.7 C1385.9,495.5 1385.3,497.2 1385.0,499.2 C1384.7,501.2 1384.6,503.4 1384.4,505.5 C1384.3,507.6 1384.4,509.7 1384.3,511.8 C1384.2,513.9 1383.9,517.1 1383.8,518.1" stroke="#48d8ff" stroke-width="1.0" opacity="0.85" filter="url(#g05)"/>
<path d="M1437.0,432.0 C1437.1,433.0 1437.4,435.9 1437.8,438.0 C1438.2,440.1 1439.2,443.2 1439.5,444.3" stroke="#0040ff" stroke-width="10.0" opacity="0.55" filter="url(#g3)"/>
<path d="M1437.0,432.0 C1437.1,433.0 1437.4,435.9 1437.8,438.0 C1438.2,440.1 1439.2,443.2 1439.5,444.3" stroke="#0088ff" stroke-width="5.4" opacity="0.9" filter="url(#g15)"/>
<path d="M1437.0,432.0 C1437.1,433.0 1437.4,435.9 1437.8,438.0 C1438.2,440.1 1439.2,443.2 1439.5,444.3" stroke="#20ccff" stroke-width="3.4" filter="url(#g07)"/>
<path d="M1437.0,432.0 C1437.1,433.0 1437.4,435.9 1437.8,438.0 C1438.2,440.1 1439.2,443.2 1439.5,444.3" stroke="#58f6ff" stroke-width="1.9" filter="url(#g05)"/>
<path d="M1454.1,468.6 C1454.6,469.4 1456.0,471.8 1457.1,473.5 C1458.3,475.1 1460.0,476.7 1461.0,478.3 C1462.0,479.9 1462.3,481.5 1463.3,483.1 C1464.3,484.8 1466.0,486.1 1467.0,488.0 C1468.0,489.9 1468.4,492.6 1469.2,494.9 C1470.1,497.1 1471.2,499.7 1472.2,501.7 C1473.1,503.7 1474.0,505.3 1474.8,507.1 C1475.5,508.8 1476.0,510.6 1476.5,512.4 C1477.0,514.2 1477.5,516.0 1478.0,517.8 C1478.5,519.5 1478.7,521.1 1479.7,523.1 C1480.6,525.1 1482.6,527.6 1483.7,529.9 C1484.7,532.2 1485.1,534.8 1485.9,536.7 C1486.8,538.6 1488.0,540.0 1488.9,541.6 C1489.7,543.2 1490.1,544.8 1490.9,546.5 C1491.7,548.1 1492.8,549.7 1493.6,551.3 C1494.5,553.0 1494.9,554.7 1496.0,556.2 C1497.0,557.7 1498.7,558.9 1499.8,560.2 C1501.0,561.5 1501.7,562.3 1503.0,564.2 C1504.2,566.1 1506.6,570.3 1507.3,571.5" stroke="#0040ff" stroke-width="10.0" opacity="0.55" filter="url(#g3)"/>
<path d="M1454.1,468.6 C1454.6,469.4 1456.0,471.8 1457.1,473.5 C1458.3,475.1 1460.0,476.7 1461.0,478.3 C1462.0,479.9 1462.3,481.5 1463.3,483.1 C1464.3,484.8 1466.0,486.1 1467.0,488.0 C1468.0,489.9 1468.4,492.6 1469.2,494.9 C1470.1,497.1 1471.2,499.7 1472.2,501.7 C1473.1,503.7 1474.0,505.3 1474.8,507.1 C1475.5,508.8 1476.0,510.6 1476.5,512.4 C1477.0,514.2 1477.5,516.0 1478.0,517.8 C1478.5,519.5 1478.7,521.1 1479.7,523.1 C1480.6,525.1 1482.6,527.6 1483.7,529.9 C1484.7,532.2 1485.1,534.8 1485.9,536.7 C1486.8,538.6 1488.0,540.0 1488.9,541.6 C1489.7,543.2 1490.1,544.8 1490.9,546.5 C1491.7,548.1 1492.8,549.7 1493.6,551.3 C1494.5,553.0 1494.9,554.7 1496.0,556.2 C1497.0,557.7 1498.7,558.9 1499.8,560.2 C1501.0,561.5 1501.7,562.3 1503.0,564.2 C1504.2,566.1 1506.6,570.3 1507.3,571.5" stroke="#0088ff" stroke-width="5.4" opacity="0.9" filter="url(#g15)"/>
<path d="M1454.1,468.6 C1454.6,469.4 1456.0,471.8 1457.1,473.5 C1458.3,475.1 1460.0,476.7 1461.0,478.3 C1462.0,479.9 1462.3,481.5 1463.3,483.1 C1464.3,484.8 1466.0,486.1 1467.0,488.0 C1468.0,489.9 1468.4,492.6 1469.2,494.9 C1470.1,497.1 1471.2,499.7 1472.2,501.7 C1473.1,503.7 1474.0,505.3 1474.8,507.1 C1475.5,508.8 1476.0,510.6 1476.5,512.4 C1477.0,514.2 1477.5,516.0 1478.0,517.8 C1478.5,519.5 1478.7,521.1 1479.7,523.1 C1480.6,525.1 1482.6,527.6 1483.7,529.9 C1484.7,532.2 1485.1,534.8 1485.9,536.7 C1486.8,538.6 1488.0,540.0 1488.9,541.6 C1489.7,543.2 1490.1,544.8 1490.9,546.5 C1491.7,548.1 1492.8,549.7 1493.6,551.3 C1494.5,553.0 1494.9,554.7 1496.0,556.2 C1497.0,557.7 1498.7,558.9 1499.8,560.2 C1501.0,561.5 1501.7,562.3 1503.0,564.2 C1504.2,566.1 1506.6,570.3 1507.3,571.5" stroke="#20ccff" stroke-width="3.4" filter="url(#g07)"/>
<path d="M1454.1,468.6 C1454.6,469.4 1456.0,471.8 1457.1,473.5 C1458.3,475.1 1460.0,476.7 1461.0,478.3 C1462.0,479.9 1462.3,481.5 1463.3,483.1 C1464.3,484.8 1466.0,486.1 1467.0,488.0 C1468.0,489.9 1468.4,492.6 1469.2,494.9 C1470.1,497.1 1471.2,499.7 1472.2,501.7 C1473.1,503.7 1474.0,505.3 1474.8,507.1 C1475.5,508.8 1476.0,510.6 1476.5,512.4 C1477.0,514.2 1477.5,516.0 1478.0,517.8 C1478.5,519.5 1478.7,521.1 1479.7,523.1 C1480.6,525.1 1482.6,527.6 1483.7,529.9 C1484.7,532.2 1485.1,534.8 1485.9,536.7 C1486.8,538.6 1488.0,540.0 1488.9,541.6 C1489.7,543.2 1490.1,544.8 1490.9,546.5 C1491.7,548.1 1492.8,549.7 1493.6,551.3 C1494.5,553.0 1494.9,554.7 1496.0,556.2 C1497.0,557.7 1498.7,558.9 1499.8,560.2 C1501.0,561.5 1501.7,562.3 1503.0,564.2 C1504.2,566.1 1506.6,570.3 1507.3,571.5" stroke="#58f6ff" stroke-width="1.9" filter="url(#g05)"/>
<path d="M1482.2,532.8 C1482.2,533.6 1482.2,536.2 1482.1,537.9 C1482.0,539.6 1481.6,541.2 1481.6,542.9 C1481.6,544.6 1482.1,546.2 1482.2,548.0 C1482.2,549.8 1481.6,551.8 1481.6,553.7 C1481.7,555.6 1482.0,557.4 1482.3,559.3 C1482.6,561.2 1483.4,563.2 1483.5,565.0 C1483.6,566.8 1482.8,568.3 1482.9,570.0 C1483.1,571.7 1484.2,573.3 1484.5,575.0 C1484.8,576.7 1484.7,578.3 1484.9,580.0 C1485.1,581.7 1485.3,583.3 1485.5,585.0 C1485.6,586.7 1485.7,588.2 1485.8,590.0 C1485.9,591.8 1485.7,593.8 1486.0,595.7 C1486.3,597.6 1487.3,599.5 1487.6,601.4 C1487.9,603.2 1487.7,605.1 1487.8,607.0 C1487.9,608.9 1488.5,610.8 1488.3,612.7 C1488.2,614.6 1487.2,616.3 1487.1,618.2 C1487.0,620.0 1487.8,621.8 1487.7,623.6 C1487.7,625.4 1486.9,627.3 1486.7,629.1 C1486.4,630.9 1486.4,632.7 1486.4,634.5 C1486.3,636.4 1486.5,638.2 1486.5,640.0 C1486.6,641.8 1486.6,643.6 1486.4,645.3 C1486.2,647.1 1485.5,648.9 1485.4,650.6 C1485.4,652.4 1486.0,654.2 1486.0,656.0 C1486.1,657.7 1485.6,659.6 1485.5,661.3 C1485.5,663.0 1485.7,664.7 1485.8,666.4 C1485.8,668.1 1485.7,669.8 1485.6,671.5 C1485.5,673.2 1485.3,674.9 1485.1,676.6 C1484.9,678.3 1484.4,680.0 1484.4,681.7 C1484.4,683.4 1485.0,685.1 1485.0,686.8 C1485.0,688.5 1484.7,690.2 1484.5,691.9 C1484.3,693.6 1484.1,696.1 1484.0,697.0" stroke="#0040ff" stroke-width="10.0" opacity="0.55" filter="url(#g3)"/>
<path d="M1482.2,532.8 C1482.2,533.6 1482.2,536.2 1482.1,537.9 C1482.0,539.6 1481.6,541.2 1481.6,542.9 C1481.6,544.6 1482.1,546.2 1482.2,548.0 C1482.2,549.8 1481.6,551.8 1481.6,553.7 C1481.7,555.6 1482.0,557.4 1482.3,559.3 C1482.6,561.2 1483.4,563.2 1483.5,565.0 C1483.6,566.8 1482.8,568.3 1482.9,570.0 C1483.1,571.7 1484.2,573.3 1484.5,575.0 C1484.8,576.7 1484.7,578.3 1484.9,580.0 C1485.1,581.7 1485.3,583.3 1485.5,585.0 C1485.6,586.7 1485.7,588.2 1485.8,590.0 C1485.9,591.8 1485.7,593.8 1486.0,595.7 C1486.3,597.6 1487.3,599.5 1487.6,601.4 C1487.9,603.2 1487.7,605.1 1487.8,607.0 C1487.9,608.9 1488.5,610.8 1488.3,612.7 C1488.2,614.6 1487.2,616.3 1487.1,618.2 C1487.0,620.0 1487.8,621.8 1487.7,623.6 C1487.7,625.4 1486.9,627.3 1486.7,629.1 C1486.4,630.9 1486.4,632.7 1486.4,634.5 C1486.3,636.4 1486.5,638.2 1486.5,640.0 C1486.6,641.8 1486.6,643.6 1486.4,645.3 C1486.2,647.1 1485.5,648.9 1485.4,650.6 C1485.4,652.4 1486.0,654.2 1486.0,656.0 C1486.1,657.7 1485.6,659.6 1485.5,661.3 C1485.5,663.0 1485.7,664.7 1485.8,666.4 C1485.8,668.1 1485.7,669.8 1485.6,671.5 C1485.5,673.2 1485.3,674.9 1485.1,676.6 C1484.9,678.3 1484.4,680.0 1484.4,681.7 C1484.4,683.4 1485.0,685.1 1485.0,686.8 C1485.0,688.5 1484.7,690.2 1484.5,691.9 C1484.3,693.6 1484.1,696.1 1484.0,697.0" stroke="#0088ff" stroke-width="5.4" opacity="0.9" filter="url(#g15)"/>
<path d="M1482.2,532.8 C1482.2,533.6 1482.2,536.2 1482.1,537.9 C1482.0,539.6 1481.6,541.2 1481.6,542.9 C1481.6,544.6 1482.1,546.2 1482.2,548.0 C1482.2,549.8 1481.6,551.8 1481.6,553.7 C1481.7,555.6 1482.0,557.4 1482.3,559.3 C1482.6,561.2 1483.4,563.2 1483.5,565.0 C1483.6,566.8 1482.8,568.3 1482.9,570.0 C1483.1,571.7 1484.2,573.3 1484.5,575.0 C1484.8,576.7 1484.7,578.3 1484.9,580.0 C1485.1,581.7 1485.3,583.3 1485.5,585.0 C1485.6,586.7 1485.7,588.2 1485.8,590.0 C1485.9,591.8 1485.7,593.8 1486.0,595.7 C1486.3,597.6 1487.3,599.5 1487.6,601.4 C1487.9,603.2 1487.7,605.1 1487.8,607.0 C1487.9,608.9 1488.5,610.8 1488.3,612.7 C1488.2,614.6 1487.2,616.3 1487.1,618.2 C1487.0,620.0 1487.8,621.8 1487.7,623.6 C1487.7,625.4 1486.9,627.3 1486.7,629.1 C1486.4,630.9 1486.4,632.7 1486.4,634.5 C1486.3,636.4 1486.5,638.2 1486.5,640.0 C1486.6,641.8 1486.6,643.6 1486.4,645.3 C1486.2,647.1 1485.5,648.9 1485.4,650.6 C1485.4,652.4 1486.0,654.2 1486.0,656.0 C1486.1,657.7 1485.6,659.6 1485.5,661.3 C1485.5,663.0 1485.7,664.7 1485.8,666.4 C1485.8,668.1 1485.7,669.8 1485.6,671.5 C1485.5,673.2 1485.3,674.9 1485.1,676.6 C1484.9,678.3 1484.4,680.0 1484.4,681.7 C1484.4,683.4 1485.0,685.1 1485.0,686.8 C1485.0,688.5 1484.7,690.2 1484.5,691.9 C1484.3,693.6 1484.1,696.1 1484.0,697.0" stroke="#20ccff" stroke-width="3.4" filter="url(#g07)"/>
<path d="M1482.2,532.8 C1482.2,533.6 1482.2,536.2 1482.1,537.9 C1482.0,539.6 1481.6,541.2 1481.6,542.9 C1481.6,544.6 1482.1,546.2 1482.2,548.0 C1482.2,549.8 1481.6,551.8 1481.6,553.7 C1481.7,555.6 1482.0,557.4 1482.3,559.3 C1482.6,561.2 1483.4,563.2 1483.5,565.0 C1483.6,566.8 1482.8,568.3 1482.9,570.0 C1483.1,571.7 1484.2,573.3 1484.5,575.0 C1484.8,576.7 1484.7,578.3 1484.9,580.0 C1485.1,581.7 1485.3,583.3 1485.5,585.0 C1485.6,586.7 1485.7,588.2 1485.8,590.0 C1485.9,591.8 1485.7,593.8 1486.0,595.7 C1486.3,597.6 1487.3,599.5 1487.6,601.4 C1487.9,603.2 1487.7,605.1 1487.8,607.0 C1487.9,608.9 1488.5,610.8 1488.3,612.7 C1488.2,614.6 1487.2,616.3 1487.1,618.2 C1487.0,620.0 1487.8,621.8 1487.7,623.6 C1487.7,625.4 1486.9,627.3 1486.7,629.1 C1486.4,630.9 1486.4,632.7 1486.4,634.5 C1486.3,636.4 1486.5,638.2 1486.5,640.0 C1486.6,641.8 1486.6,643.6 1486.4,645.3 C1486.2,647.1 1485.5,648.9 1485.4,650.6 C1485.4,652.4 1486.0,654.2 1486.0,656.0 C1486.1,657.7 1485.6,659.6 1485.5,661.3 C1485.5,663.0 1485.7,664.7 1485.8,666.4 C1485.8,668.1 1485.7,669.8 1485.6,671.5 C1485.5,673.2 1485.3,674.9 1485.1,676.6 C1484.9,678.3 1484.4,680.0 1484.4,681.7 C1484.4,683.4 1485.0,685.1 1485.0,686.8 C1485.0,688.5 1484.7,690.2 1484.5,691.9 C1484.3,693.6 1484.1,696.1 1484.0,697.0" stroke="#58f6ff" stroke-width="1.9" filter="url(#g05)"/>
<path d="M1371.7,517.0 C1371.4,518.0 1370.8,521.0 1370.1,522.8 C1369.4,524.6 1368.5,526.0 1367.6,527.5 C1366.6,529.1 1365.4,530.7 1364.5,532.3 C1363.6,533.8 1363.0,535.3 1362.1,537.0 C1361.3,538.7 1360.3,540.7 1359.6,542.5 C1358.9,544.3 1358.3,547.1 1358.0,548.0" stroke="#0040ff" stroke-width="10.0" opacity="0.55" filter="url(#g3)"/>
<path d="M1371.7,517.0 C1371.4,518.0 1370.8,521.0 1370.1,522.8 C1369.4,524.6 1368.5,526.0 1367.6,527.5 C1366.6,529.1 1365.4,530.7 1364.5,532.3 C1363.6,533.8 1363.0,535.3 1362.1,537.0 C1361.3,538.7 1360.3,540.7 1359.6,542.5 C1358.9,544.3 1358.3,547.1 1358.0,548.0" stroke="#0088ff" stroke-width="5.4" opacity="0.9" filter="url(#g15)"/>
<path d="M1371.7,517.0 C1371.4,518.0 1370.8,521.0 1370.1,522.8 C1369.4,524.6 1368.5,526.0 1367.6,527.5 C1366.6,529.1 1365.4,530.7 1364.5,532.3 C1363.6,533.8 1363.0,535.3 1362.1,537.0 C1361.3,538.7 1360.3,540.7 1359.6,542.5 C1358.9,544.3 1358.3,547.1 1358.0,548.0" stroke="#20ccff" stroke-width="3.4" filter="url(#g07)"/>
<path d="M1371.7,517.0 C1371.4,518.0 1370.8,521.0 1370.1,522.8 C1369.4,524.6 1368.5,526.0 1367.6,527.5 C1366.6,529.1 1365.4,530.7 1364.5,532.3 C1363.6,533.8 1363.0,535.3 1362.1,537.0 C1361.3,538.7 1360.3,540.7 1359.6,542.5 C1358.9,544.3 1358.3,547.1 1358.0,548.0" stroke="#58f6ff" stroke-width="1.9" filter="url(#g05)"/>
<path d="M1462.0,481.0 C1463.2,483.2 1466.7,488.8 1469.0,494.0 C1471.3,499.2 1473.8,506.5 1476.0,512.0 C1478.2,517.5 1480.0,522.3 1482.0,527.0 C1484.0,531.7 1486.0,535.8 1488.0,540.0 C1490.0,544.2 1493.0,550.0 1494.0,552.0" stroke="#c8ff50" stroke-width="1.8" opacity="1.0" filter="url(#g07)"/>
<path d="M1476.0,511.0 C1476.5,512.3 1478.5,517.7 1479.0,519.0" stroke="#ff7000" stroke-width="1.3" opacity="1.0" filter="url(#g07)"/>
<circle cx="1390.9" cy="461.6" r="4.5" fill="#0070ff" stroke="none" opacity="0.7" filter="url(#g15)"/>
<circle cx="1390.9" cy="461.6" r="2.2" fill="#d0ff40" stroke="none" filter="url(#g07)"/>
</g>
<path d="M1254.5,32 V353.6 M1254.5,373.8 V696.7" stroke="#3a3aff" stroke-width="1" opacity="0.6"/>
<path d="M1077.8,32 V50.0 C1077.8,58.0 1081.2,62.8 1082.4,67.8 C1083.6,62.8 1087.0,58.0 1087.0,50.0 V32" fill="#fff" stroke="#1a1a40" stroke-width="0.8"/>
<path d="M1077.8,32.4 H1087.0" stroke="#fff" stroke-width="1.2"/>
<path d="M1418.9,32 V50.0 C1418.9,58.0 1422.3,62.6 1423.5,67.6 C1424.7,62.6 1428.1,58.0 1428.1,50.0 V32" fill="#fff" stroke="#1a1a40" stroke-width="0.8"/>
<path d="M1418.9,32.4 H1428.1" stroke="#fff" stroke-width="1.2"/>
<path d="M1077.5,373.8 V391.8 C1077.5,399.8 1080.9,404.0 1082.1,409 C1083.3,404.0 1086.7,399.8 1086.7,391.8 V373.8" fill="#fff" stroke="#1a1a40" stroke-width="0.8"/>
<path d="M1077.5,374.2 H1086.7" stroke="#fff" stroke-width="1.2"/>
<path d="M1417.7,373.8 V391.8 C1417.7,399.8 1421.1,403.8 1422.3,408.8 C1423.5,403.8 1426.9,399.8 1426.9,391.8 V373.8" fill="#fff" stroke="#1a1a40" stroke-width="0.8"/>
<path d="M1417.7,374.2 H1426.9" stroke="#fff" stroke-width="1.2"/>
<path d="M1147.5,86 V337" stroke="#fff" stroke-width="2.2"/>
<path d="M1147.5,68.4 L1141.2,88.4 L1153.8,88.4 Z M1147.5,353.6 L1141.2,334.5 L1153.8,334.5 Z" fill="#fff"/>
<text transform="translate(1173.2,216.9) rotate(-90)" font-family="Liberation Serif, Times New Roman, serif" font-size="27.5" fill="#fff" text-anchor="middle">25 mm</text>
<text x="916.3" y="61" font-family="Liberation Serif, Times New Roman, serif" font-size="32" font-weight="bold" fill="#fff">(1)</text>
<text x="1257.6" y="61" font-family="Liberation Serif, Times New Roman, serif" font-size="32" font-weight="bold" fill="#fff">(2)</text>
<text x="915.9" y="413.4" font-family="Liberation Serif, Times New Roman, serif" font-size="32" font-weight="bold" fill="#fff">(3)</text>
<text x="1256.7" y="413.4" font-family="Liberation Serif, Times New Roman, serif" font-size="32" font-weight="bold" fill="#fff">(4)</text>
<rect x="1410.5" y="6.2" width="167.3" height="19.8" fill="url(#jet)" stroke="#202020" stroke-width="0.6" stroke-opacity="0.6"/>
<text x="1401.8" y="28" font-family="Liberation Serif, Times New Roman, serif" font-size="37" text-anchor="end">0</text>
<text x="1579.5" y="28" font-family="Liberation Serif, Times New Roman, serif" font-size="37">1</text>
</svg></body></html>
